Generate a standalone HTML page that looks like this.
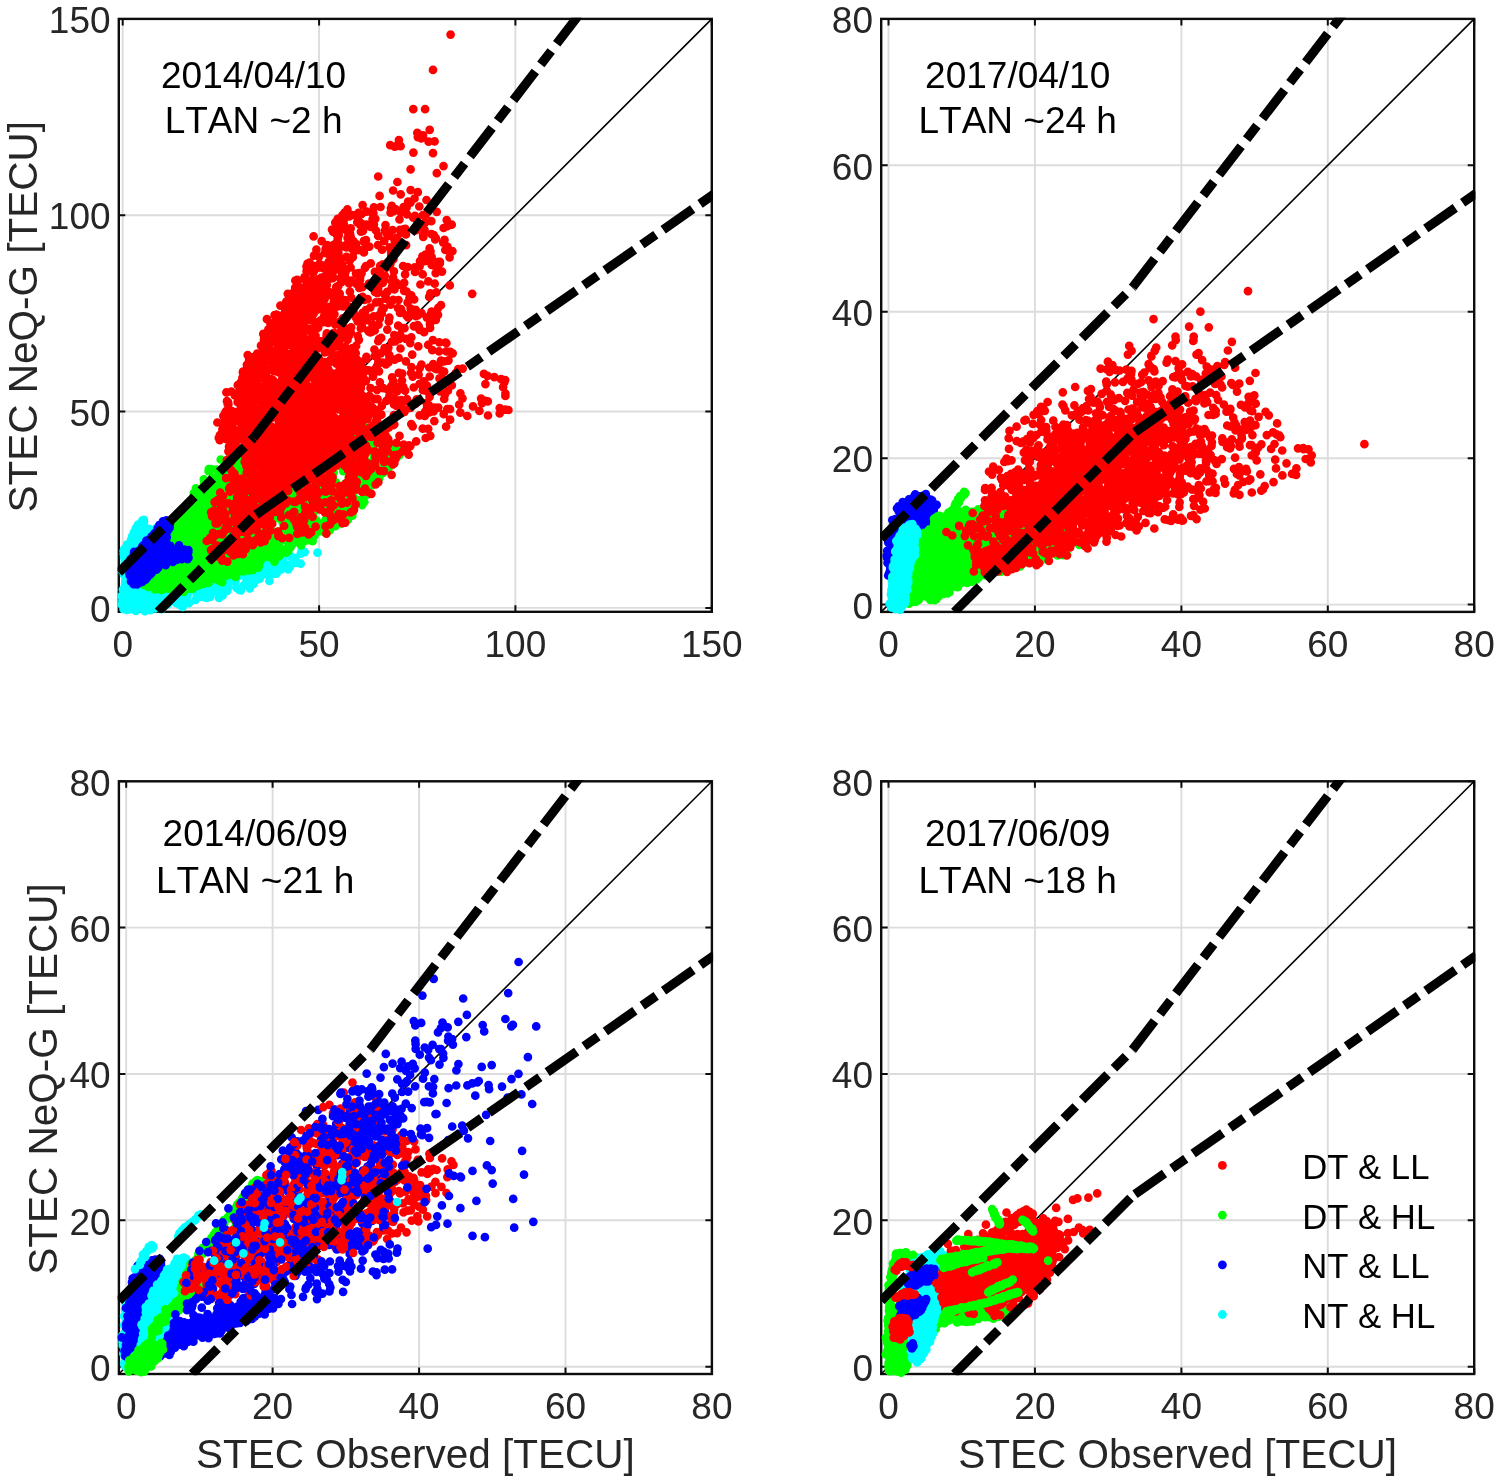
<!DOCTYPE html>
<html lang="en"><head><meta charset="utf-8"><title>STEC NeQ-G vs STEC Observed</title>
<style>
html,body{margin:0;padding:0;background:#fff}
svg{display:block}
text{font-family:"Liberation Sans",Arial,Helvetica,sans-serif;font-kerning:none}
.t{font-size:37px;fill:#262626}
.l{font-size:40.5px;fill:#262626}
.a{font-size:37px;fill:#000}
.g{font-size:34.7px;fill:#000}
.d{fill:none;stroke-width:87;stroke-linecap:round}
</style></head>
<body>
<svg width="1500" height="1483" viewBox="0 0 1500 1483">
<rect width="1500" height="1483" fill="#fff"/>
<g id="panel1">
<clipPath id="cp0"><rect x="117.6" y="17.7" width="595.4" height="595.3"/></clipPath>
<path d="M122.7 18.9V611.8M118.8 607.9H711.8M319.1 18.9V611.8M118.8 411.5H711.8M515.4 18.9V611.8M118.8 215.2H711.8M711.8 18.9V611.8M118.8 18.9H711.8" stroke="#dcdcdc" stroke-width="1.9" fill="none"/>
<rect x="118.8" y="18.9" width="593" height="592.9" fill="none" stroke="#0d0d0d" stroke-width="2.4"/>
<path d="M122.7 611.8v-6.5M122.7 18.9v6.5M118.8 607.9h6.5M711.8 607.9h-6.5M319.1 611.8v-6.5M319.1 18.9v6.5M118.8 411.5h6.5M711.8 411.5h-6.5M515.4 611.8v-6.5M515.4 18.9v6.5M118.8 215.2h6.5M711.8 215.2h-6.5M711.8 611.8v-6.5M711.8 18.9v6.5M118.8 18.9h6.5M711.8 18.9h-6.5" stroke="#0d0d0d" stroke-width="2" fill="none"/>
<path d="M118.8 611.8L711.8 18.9" stroke="#000" stroke-width="1.6" fill="none"/>
<g transform="scale(.1)">
<path class="d" stroke="#00ffff" d="M1339 5323h0m-18 41h0m16 11h0m-19 10h0m-7 11h0m7 30h0m19 12h0m-23 0h0m-42 6h0m51 3h0m-9 10h0m-6 5h0m-16 1h0m39 12h0m-23 8h0m-65 5h0m37 0h0m-29 6h0m53 13h0m-67 3h0m54 1h0m-50 7h0m-3 23h0m110 17h0m-99 4h0m-8 13h0m57 6h0m26 7h0m-15 16h0m18 1h0m-80 14h0m5 23h0m-3 0h0m38 17h0m61 2h0m-38 7h0m2 1h0m-49 8h0m64 12h0m-76 8h0m33 1h0m41 5h0m-106 2h0m94 7h0m-29 8h0m-46 4h0m104 8h0m-41 7h0m-61 11h0m94 1h0m-16 13h0m-46 12h0m33 5h0m33 0h0m-67 7h0m48 8h0m26 4h0m-92 6h0m24 2h0m0 1h0m-24 17h0m-1 3h0m73 7h0m-12 1h0m-63 6h0m41 3h0m-40 5h0m89 6h0m-44 10h0m49 12h0m-24 5h0m-31 1h0m0 0h0m54 1h0m-86 1h0m68 6h0m-43 1h0m-54 1h0m10 2h0m59 2h0m-57 11h0m54 21h0m-9 3h0m-13 0h0m67 4h0m-76 1h0m21 3h0m39 13h0m-73 4h0m-36 2h0m46 3h0m52 12h0m-86 1h0m74 1h0m-7 7h0m-4 8h0m-33 4h0m-33 9h0m26 5h0m-2 2h0m79 2h0m-111 29h0m71 0h0m35 1h0m-7 3h0m16 6h0m-78 6h0m80 3h0m-95 1h0m34 3h0m53 6h0m-84 1h0m-6 17h0m59 2h0m-18 3h0m-4 4h0m177 12h0m-91-2h0m75-14h0m22-12h0m29-4h0m-75-9h0m-32-1h0m-6-4h0m-16-1h0m27-4h0m25-4h0m80-4h0m-103-4h0m73-1h0m-46-3h0m27-4h0m-71-7h0m17 0h0m46 0h0m13-11h0m-85-3h0m56-3h0m38-8h0m24-5h0m-63-2h0m-18-2h0m-21-1h0m28-1h0m29-1h0m-22-13h0m-40-2h0m130-4h0m-11-4h0m-54-2h0m63 0h0m-121-3h0m76-1h0m-28-2h0m52 0h0m-115-12h0m10 0h0m74 0h0m-42-3h0m68-2h0m-33-2h0m-41-1h0m-8-1h0m-16-1h0m113-2h0m0-2h0m-133-9h0m77-1h0m21-6h0m30-2h0m-4-1h0m19-3h0m-15-7h0m-46-1h0m-25 0h0m-43-1h0m18-2h0m95-4h0m-10-1h0m2 0h0m-33-2h0m-19-8h0m45-3h0m-99-1h0m59 0h0m-58-1h0m123-3h0m-69-6h0m-29-2h0m-18 0h0m21-2h0m10-8h0m-51-3h0m22 0h0m-23-9h0m126-3h0m-93-1h0m100-2h0m-50 0h0m32-1h0m-72-1h0m47-2h0m-77-9h0m75-5h0m16-3h0m-90-2h0m128-3h0m-61-19h0m-75-7h0m139 0h0m-124-11h0m-10-15h0m83-1h0m-48-5h0m49-13h0m17-3h0m-16-6h0m-70-3h0m63-3h0m-19-7h0m-38-4h0m94-2h0m-125-3h0m111-2h0m-22-9h0m38-1h0m-119-6h0m114-2h0m-22-2h0m28-3h0m17-8h0m-14 0h0m10-8h0m-103-2h0m61-2h0m36-3h0m-55-14h0m5-4h0m-45-33h0m90-10h0m-22 0h0m-22-5h0m-18-19h0m73-4h0m-27-4h0m-109-16h0m115-11h0m-30-5h0m-43-5h0m28-7h0m1-13h0m-55-2h0m32-6h0m41-2h0m-31-7h0m36-2h0m-82-4h0m47-3h0m47 0h0m-87-1h0m-23-1h0m115-4h0m-10-21h0m-97-5h0m43 0h0m-35-17h0m33-7h0m6-9h0m-42-21h0m125-3h0m-34-8h0m1-8h0m-52-6h0m-14-1h0m19-3h0m-58-2h0m71-11h0m0-1h0m35-10h0m-46-1h0m-1-7h0m-19-27h0m39-24h0m57-6h0m-2-3h0m-132-2h0m73-2h0m-8-3h0m22-5h0m-44-3h0m33-1h0m3 0h0m-67-4h0m54-5h0m1 0h0m-48-1h0m58-13h0m-53-5h0m57-11h0m-21-15h0m23-1h0m-15-14h0m14-5h0m122 81h0m-7 21h0m17 10h0m-54 16h0m49 0h0m-56 5h0m30 4h0m16 4h0m-30 22h0m6 1h0m79 2h0m30 8h0m-106 20h0m48 1h0m5 2h0m-75 10h0m115 4h0m-83 10h0m66 2h0m-40 41h0m36 5h0m-75 4h0m78 7h0m22 9h0m-37 2h0m25 9h0m12 12h0m-123 9h0m121 2h0m-13 11h0m-31 0h0m-64 1h0m-11 3h0m113 3h0m-43 2h0m-9 8h0m75 4h0m-133 5h0m22 0h0m108 9h0m-27 4h0m-7 8h0m-81 2h0m-18 4h0m59 2h0m-10 4h0m35 2h0m35 8h0m-58 5h0m-16 2h0m37 3h0m-63 1h0m13 12h0m82 6h0m-73 4h0m-45 6h0m6 5h0m116 7h0m18 23h0m-101 12h0m-23 0h0m9 2h0m14 1h0m52 2h0m-96 4h0m145 5h0m-110 11h0m34 1h0m53 1h0m-21 3h0m-94 6h0m76 0h0m-71 15h0m33 7h0m87 6h0m-88 7h0m46 1h0m1 1h0m-47 17h0m6 8h0m-47 1h0m98 21h0m-66 8h0m63 3h0m-51 1h0m13 1h0m-57 4h0m15 4h0m116 7h0m-51 9h0m-27 2h0m59 3h0m-16 7h0m-6 1h0m-38 0h0m-5 5h0m14 2h0m-57 4h0m65 2h0m-59 1h0m111 2h0m21 2h0m-29 0h0m-43 4h0m-71 1h0m55 2h0m3 3h0m-27 1h0m71 4h0m-48 6h0m58 11h0m-73 0h0m-42 6h0m32 1h0m-18 0h0m11 5h0m-16 1h0m88 4h0m-84 1h0m114 12h0m-10 6h0m-10 3h0m-68 0h0m96 0h0m-95 1h0m-3 8h0m14 3h0m61 3h0m-4 0h0m24 2h0m-58 0h0m69 4h0m-91 6h0m-47 8h0m49 2h0m83 12h0m-22 1h0m5 4h0m-93 4h0m117 0h0m-100 2h0m-29 6h0m45 3h0m82 4h0m-123 1h0m21 0h0m35 3h0m4 12h0m35 9h0m-71 3h0m-15 6h0m51 9h0m8 8h0m-22 1h0m-46 3h0m32 10h0m65 6h0m-115 10h0m295-53h0m-122-4h0m-5-7h0m-15-6h0m105-2h0m-72-3h0m-31-10h0m9-25h0m132-4h0m-129-17h0m-12-3h0m80-3h0m-87 0h0m34-1h0m46-20h0m19 0h0m29-10h0m-118-1h0m7-4h0m39-1h0m45-1h0m-81-3h0m2-2h0m52-4h0m-9-4h0m-53-1h0m25-1h0m-5-9h0m-1-13h0m44 0h0m-63-1h0m11-15h0m-18-7h0m23-2h0m-11-1h0m-8-1h0m22-4h0m-17-1h0m-14-1h0m15-2h0m49-1h0m-23 0h0m-23-12h0m-9-6h0m83-1h0m19-4h0m-73-10h0m34-2h0m64-1h0m-91-1h0m-44-3h0m44-8h0m44-3h0m-76 0h0m127-10h0m-51-12h0m-3-4h0m-86-17h0m13-1h0m85-10h0m-89-4h0m80-12h0m-45-2h0m23-7h0m24-8h0m-21-6h0m-2-2h0m3-5h0m-18-11h0m7-1h0m-53-5h0m42-2h0m36-22h0m-59-16h0m13-2h0m1-35h0m52-3h0m-72-1h0m36-14h0m-54-3h0m30-11h0m-29-12h0m69 0h0m-11-61h0m12-13h0m7-4h0m31-2h0m-57-7h0m27-13h0m-61-11h0m34-9h0m31 0h0m-73-26h0m42-1h0m227 313h0m18 8h0m-73 17h0m58 6h0m-104 2h0m-5 19h0m3 2h0m51 8h0m37 2h0m-94 7h0m57 7h0m-17 0h0m-25 2h0m71 3h0m37 5h0m-64 4h0m-25 12h0m88 2h0m-68 12h0m71 7h0m-27 6h0m-101 4h0m113 5h0m-63 0h0m-49 4h0m49 8h0m-51 3h0m77 12h0m-76 22h0m21 2h0m41 7h0m-7 28h0m-58 1h0m38 15h0m-31 5h0m41 22h0m0 10h0m-49 6h0m29 15h0m46 1h0m-63 37h0m129-70h0m108-18h0m-45-11h0m-26-15h0m85-7h0m-112-4h0m67-8h0m-26-9h0m61-3h0m8-5h0m-3-23h0m-91 0h0m21-1h0m2-6h0m6-4h0m82-6h0m-38-5h0m-80-1h0m51-1h0m52-22h0m-56-17h0m-29-4h0m-38-7h0m29-16h0m99-4h0m-114-13h0m92-10h0m17-5h0m-75-5h0m-16-3h0m-30 0h0m99-12h0m-14-2h0m-69-7h0m119-5h0m-3-19h0m-83-3h0m162-47h0m52 3h0m17 2h0m-38 3h0m15 0h0m-42 10h0m65 3h0m-55 1h0m-79 6h0m16 3h0m13 3h0m27 1h0m-54 4h0m127 15h0m-112 0h0m9 3h0m-24 2h0m5 10h0m16 3h0m51 4h0m4 3h0m26 10h0m31 11h0m-49 5h0m-73 3h0m3 5h0m69 23h0m34 0h0m-34 12h0m10 18h0m-18 1h0m-61 3h0m130 1h0m-74 10h0m-47 15h0m70 4h0m-48 11h0m-23 2h0m121 7h0m-91 8h0m-28 0h0m25 5h0m-4 19h0m78 2h0m-17 3h0m16 27h0m-125 15h0m88 10h0m82-70h0m121-9h0m-143 0h0m116-22h0m-84-3h0m-9-17h0m-2-22h0m3-8h0m0-5h0m82-10h0m-52 0h0m8 0h0m15-23h0m24-4h0m-28-2h0m0-20h0m-26-4h0m96-4h0m-128-2h0m129-1h0m-34-15h0m-68-8h0m33-6h0m-67-3h0m13 0h0m-16-1h0m14-12h0m8-2h0m40-6h0m-29-7h0m47-9h0m23-13h0m-97-4h0m52-14h0m-7-11h0m54-1h0m-27-1h0m-13-5h0m67-2h0m-16-12h0m145-16h0m31 1h0m-135 3h0m42 10h0m-25 17h0m97 4h0m-121 11h0m70 15h0m-35 8h0m74 8h0m8 16h0m-4 17h0m10 8h0m-108 7h0m42 2h0m30 12h0m24 9h0m-37 4h0m37 6h0m-54 19h0m28 14h0m10 12h0m37 30h0m-96 10h0m58 35h0m-90 22h0m285-95h0m-114-15h0m18-9h0m-22-1h0m110-36h0m-52-5h0m-36 0h0m70-22h0m-87-7h0m-4-10h0m114-11h0m-101-10h0m69-6h0m-4-26h0m-10-40h0m-25-6h0m39 0h0m-54-23h0m112-58h0m101 19h0m-63 5h0m-7 4h0m-6 12h0m88 29h0m-33 16h0m-88 22h0m22 0h0m43 2h0m28 15h0m-18 15h0m39 3h0m-72 6h0m-41 6h0m116 1h0m-17 3h0m3 11h0m-91 42h0m44 1h0m-31 3h0m148-45h0m17-25h0m-15-4h0m0-18h0m76-20h0m-5 0h0m-1-48h0m-43-14h0m-56-62h0m160 6h0m32 11h0m-39 16h0m-1 99h0m168-109h0"/>
<path class="d" stroke="#00ff00" d="M1484 5869h0m-48-20h0m14-3h0m41-1h0m-32-5h0m-79-5h0m115-7h0m-74-3h0m-9-3h0m81-14h0m-81-5h0m43-15h0m-32-5h0m0-11h0m72-4h0m-2-2h0m-116-14h0m104-2h0m-73-7h0m24-5h0m25-7h0m-2-16h0m11-5h0m-35-10h0m35-6h0m-56-28h0m54-2h0m-12-13h0m-29-5h0m56-1h0m10-12h0m-31-12h0m10-30h0m174-246h0m-4 16h0m-57 41h0m-38 28h0m-22 39h0m112 7h0m-77 2h0m76 2h0m-42 20h0m-83 7h0m85 10h0m-38 3h0m-20 17h0m16 2h0m13 1h0m24 1h0m-29 0h0m-20 3h0m32 0h0m-67 2h0m140 2h0m-67 4h0m36 0h0m35 0h0m-83 1h0m-19 3h0m-22 7h0m29 22h0m79 8h0m-43 3h0m52 2h0m-14 1h0m-97 0h0m-27 4h0m11 4h0m6 2h0m127 8h0m-123 6h0m121 2h0m-67 0h0m1 1h0m9 1h0m6 3h0m-69 6h0m-24 6h0m45 2h0m13 3h0m31 7h0m2 3h0m-29 1h0m-23 1h0m66 5h0m-36 0h0m22 0h0m-22 4h0m-14 3h0m66 2h0m-5 5h0m-98 0h0m115 1h0m-6 6h0m-124 5h0m46 0h0m-2 2h0m94 8h0m-107 0h0m114 4h0m-94 0h0m0 1h0m56 1h0m-59 0h0m-13 10h0m96 0h0m8 7h0m-82 2h0m62 1h0m-58 3h0m-14 0h0m27 2h0m-65 5h0m117 5h0m16 8h0m-111 2h0m5 3h0m58 3h0m10 11h0m-52 0h0m60 7h0m-77 6h0m90 2h0m17 2h0m4 4h0m-143 0h0m84 2h0m-19 3h0m-55 5h0m20 3h0m53 7h0m-83 0h0m135 3h0m-64 5h0m58 2h0m-71 5h0m-47 0h0m42 9h0m33 7h0m41 2h0m10 6h0m-125 7h0m121 2h0m-77 5h0m-36 1h0m22 2h0m40 21h0m40 8h0m-80 1h0m63 3h0m78-8h0m-14-10h0m13-5h0m-9 0h0m117-4h0m0-2h0m-37-8h0m-93-1h0m100-2h0m-29-5h0m59-1h0m-127-7h0m5-3h0m60-1h0m-73-3h0m63-2h0m3 0h0m-58-2h0m0-1h0m96-1h0m18-1h0m-93-2h0m108-2h0m-141-1h0m3-3h0m108-1h0m24-4h0m-106-4h0m0-1h0m26-3h0m-31-3h0m90-15h0m3-2h0m-108-10h0m15-3h0m43-2h0m43-1h0m8-6h0m-100-1h0m12-3h0m88-7h0m-35-2h0m-38-8h0m-10 0h0m-42-4h0m73-3h0m53-1h0m-28-1h0m-69-1h0m120-1h0m-104-11h0m18 0h0m-36-2h0m103-12h0m-75 0h0m6-6h0m-28-6h0m33-1h0m10-5h0m-42-5h0m10-3h0m-41-6h0m118-7h0m-121-1h0m36 0h0m11-3h0m13-2h0m-32-3h0m86-14h0m-69-6h0m50-9h0m17-5h0m-54-6h0m13-1h0m23 0h0m-93-5h0m23-5h0m71-2h0m-15-1h0m36-2h0m-30-7h0m-81-10h0m73-8h0m-43-4h0m-19-1h0m30 0h0m67-7h0m-58-4h0m-5-17h0m-10 0h0m91-3h0m16-8h0m-45 0h0m-91-10h0m109-10h0m-12-8h0m-9-2h0m9-1h0m-39-1h0m35-2h0m20-20h0m25 0h0m-132-2h0m58-2h0m35 0h0m-72-1h0m-33-2h0m53-5h0m81-3h0m-25-1h0m-53-1h0m50 0h0m17-6h0m-70-3h0m80-8h0m-30-4h0m-36-1h0m0-14h0m3-14h0m27-2h0m-92-5h0m5-22h0m9-10h0m77-4h0m-1 0h0m6-5h0m-16-6h0m12-1h0m-77-7h0m46 0h0m21-2h0m-10-29h0m-4-6h0m-33-6h0m-19-6h0m36-2h0m54-8h0m-11-2h0m-55-5h0m3-4h0m8-1h0m53-7h0m-88-7h0m8-1h0m18-2h0m39-8h0m34-4h0m23-32h0m-68-18h0m52-4h0m-65-8h0m64-12h0m-4-48h0m12-13h0m149-189h0m9 23h0m-19 118h0m-96 13h0m31 8h0m38 8h0m-61 0h0m49 2h0m1 5h0m-50 24h0m11 14h0m-14 15h0m67 22h0m-20 6h0m-1 2h0m-47 2h0m9 8h0m-39 4h0m127 2h0m-119 12h0m109 9h0m-101 7h0m71 8h0m-17 2h0m-27 0h0m24 17h0m7 3h0m-27 19h0m49 2h0m-55 0h0m88 2h0m-50 5h0m27 2h0m-19 1h0m-24 3h0m38 7h0m-55 2h0m-11 15h0m82 13h0m-33 2h0m-40 3h0m94 2h0m-10 2h0m-48 0h0m-24 4h0m-38 3h0m57 6h0m-60 6h0m88 1h0m-103 8h0m13 4h0m82 10h0m35 8h0m-21 3h0m-12 1h0m-30 1h0m-30 6h0m1 8h0m-6 9h0m86 5h0m-5 25h0m-5 7h0m-42 1h0m31 2h0m5 3h0m0 1h0m23 9h0m-124 0h0m76 5h0m-17 1h0m1 2h0m58 4h0m-30 2h0m-15 2h0m39 0h0m22 3h0m-20 2h0m-1 1h0m-120 3h0m127 7h0m15 8h0m-115 0h0m56 2h0m-82 3h0m143 6h0m-115 1h0m61 1h0m-82 0h0m65 12h0m51 11h0m-109 2h0m27 10h0m53 4h0m-33 0h0m29 8h0m-66 31h0m56 6h0m-28 1h0m-30 4h0m68 1h0m-69 0h0m104 1h0m-99 7h0m19 8h0m16 1h0m73 5h0m-88 2h0m-20 4h0m96 0h0m-115 2h0m85 4h0m-39 7h0m56 1h0m-106 1h0m23 0h0m118 1h0m-131 6h0m-4 9h0m4 3h0m52 1h0m50 3h0m10 1h0m-21 23h0m32 3h0m-129 13h0m24 2h0m-10 8h0m105 7h0m-11 2h0m-10 2h0m-83 1h0m110 4h0m-1 10h0m-118 2h0m31 6h0m10 7h0m-9 0h0m-22 2h0m-21 2h0m145 3h0m-134 0h0m28 1h0m52 1h0m22 3h0m15 0h0m-76 1h0m68 6h0m-7 7h0m-26 4h0m32 2h0m-35 1h0m-31 2h0m51 3h0m-28 1h0m1 12h0m-77 4h0m134 1h0m-98 5h0m6 14h0m64 13h0m-33 1h0m-24 5h0m-26 10h0m102 6h0m-34 1h0m-14 0h0m-19 3h0m-57 0h0m14 9h0m18 21h0m118-65h0m31 0h0m-29 0h0m78-15h0m-53-2h0m22 0h0m24-3h0m58-5h0m-36-3h0m-80-2h0m-12 0h0m70-2h0m-76 0h0m-1-6h0m0-4h0m56-1h0m-18-1h0m94-3h0m-51-4h0m-1-2h0m-74-6h0m34-4h0m38-4h0m32-6h0m18 0h0m20-6h0m-79-4h0m77-1h0m-63-4h0m27-2h0m-84-3h0m59-2h0m-78-1h0m79-11h0m63 0h0m-36-2h0m-107-5h0m54-1h0m-44 0h0m2 0h0m77-1h0m1-2h0m1-1h0m14-2h0m1-7h0m-97 0h0m126 0h0m-135-3h0m106-10h0m-47-1h0m25-11h0m-45-3h0m57-2h0m-44-3h0m49-1h0m-58-1h0m48-1h0m-30-9h0m-25 0h0m61-1h0m-30-1h0m-46-2h0m-26-2h0m28 0h0m-7-3h0m-4 0h0m119-9h0m-70 0h0m42-6h0m-85-3h0m-7-16h0m127-12h0m-38-14h0m-46-9h0m-1-8h0m50-3h0m8-18h0m-63-2h0m44-1h0m-21-8h0m-51-1h0m28-2h0m-5 0h0m36-3h0m-14-15h0m-39-1h0m51 0h0m-25-3h0m3-7h0m-58-4h0m127-2h0m8-4h0m-26-2h0m-34-8h0m-33 0h0m87-2h0m-111-6h0m-11-2h0m114-6h0m-35-3h0m-40-4h0m44-2h0m-51-1h0m74-3h0m-97 0h0m115-1h0m-68-6h0m8-13h0m6-7h0m64-3h0m-76-1h0m-54-3h0m91-2h0m6-1h0m11-4h0m-84-1h0m55-4h0m-17-3h0m36-6h0m-33-2h0m-67-4h0m64-12h0m7-3h0m-5-4h0m-19-2h0m35-4h0m-57-8h0m-33-8h0m52 0h0m-40 0h0m1-4h0m104-1h0m-42 0h0m-65-7h0m87-4h0m-80 0h0m16-1h0m27-2h0m-41 0h0m31-3h0m28-3h0m-42 0h0m13-6h0m94-5h0m-43 0h0m-90-2h0m75-11h0m-64-8h0m116-3h0m-126-8h0m128-5h0m-27 0h0m-32-1h0m-29-1h0m66-2h0m-40 0h0m49-1h0m-48-1h0m-65-1h0m116-6h0m-101-1h0m-15-2h0m15-10h0m68-10h0m42-6h0m-94-10h0m88-1h0m-33-12h0m-60-6h0m-33-3h0m137-1h0m-71-10h0m-48-2h0m114-2h0m5-9h0m-82-14h0m56-10h0m27-3h0m-31-3h0m-38-11h0m18-9h0m-38-2h0m-27-1h0m18-5h0m-42-11h0m39-20h0m-31-8h0m75-6h0m-49-3h0m1-1h0m41-4h0m56-4h0m-10-6h0m-82-3h0m-37-2h0m34-3h0m90 0h0m-101 0h0m94-5h0m-128-6h0m29-5h0m0-1h0m103-3h0m1-1h0m-85-11h0m-5-3h0m40-3h0m57-5h0m-86-1h0m42-1h0m-37-4h0m-9-1h0m11-22h0m80-2h0m-73-9h0m32 0h0m-8-2h0m50-13h0m-5-8h0m-82-1h0m74-2h0m-66-4h0m-8-1h0m31-9h0m-73-1h0m58-6h0m12-4h0m-63-9h0m11-2h0m-28-8h0m128-1h0m-119-3h0m50-5h0m57-26h0m-55-4h0m-55-5h0m77-1h0m44-13h0m-27-3h0m6-6h0m-1-13h0m-17-15h0m18-23h0m-21-16h0m48-82h0m2-20h0m119-97h0m30 85h0m-126 10h0m-7 4h0m60 1h0m70 41h0m-49 15h0m-1 16h0m-58 9h0m87 2h0m28 8h0m-12 5h0m-104 6h0m21 18h0m9 5h0m75 15h0m18 20h0m-22 5h0m-46 2h0m-26 14h0m-32 11h0m-13 10h0m39 5h0m-11 9h0m95 7h0m-71 2h0m-59 7h0m130 3h0m-76 11h0m61 6h0m-110 12h0m24 7h0m41 11h0m-6 9h0m79 13h0m-126 1h0m101 5h0m-8 4h0m22 4h0m-126 15h0m106 2h0m-111 4h0m101 0h0m-59 4h0m101 18h0m-17 2h0m-64 2h0m-63 5h0m40 1h0m93 3h0m-59 1h0m3 3h0m-74 10h0m42 3h0m9 2h0m-16 14h0m-25 2h0m-6 6h0m67 8h0m-60 7h0m18 5h0m82 2h0m-4 6h0m-88 4h0m88 5h0m-62 0h0m27 3h0m42 8h0m-26 2h0m-27 4h0m-21 4h0m2 2h0m-44 3h0m88 11h0m-20 1h0m-48 6h0m46 4h0m-55 14h0m133 1h0m-36 0h0m-85 3h0m103 0h0m-105 15h0m86 2h0m-3 2h0m-41 0h0m28 5h0m33 3h0m-25 4h0m2 6h0m-70 9h0m69 9h0m-76 5h0m62 0h0m16 3h0m-11 0h0m-48 1h0m-39 17h0m49 1h0m-30 3h0m27 8h0m93 5h0m-82 1h0m-9 3h0m25 6h0m28 7h0m-82 6h0m31 2h0m44 12h0m37 3h0m-55 1h0m47 2h0m-47 1h0m44 0h0m-71 2h0m53 1h0m-59 8h0m-14 7h0m88 7h0m-115 0h0m-4 0h0m35 4h0m15 4h0m-42 0h0m2 3h0m107 4h0m-17 5h0m-42 1h0m-15 0h0m16 0h0m38 2h0m29 2h0m-90 0h0m53 2h0m-1 9h0m-10 6h0m30 7h0m-9 2h0m-15 0h0m-40 0h0m40 2h0m3 11h0m-6 1h0m-77 1h0m122 17h0m-127 3h0m70 4h0m46 0h0m12 2h0m-92 1h0m15 2h0m70 0h0m-44 4h0m-27 2h0m-33 1h0m95 1h0m26 1h0m-96 4h0m82 2h0m-57 1h0m-19 4h0m0 4h0m45 14h0m-5 2h0m53 3h0m-71 4h0m63 1h0m-56 0h0m-59 0h0m88 3h0m-4 0h0m-2 3h0m-27 0h0m-8 1h0m-15 4h0m15 0h0m75 1h0m-84 3h0m87 7h0m-80 1h0m-54 0h0m1 0h0m45 6h0m64 8h0m-62 3h0m-32 12h0m30 2h0m-51 2h0m117 4h0m-66 4h0m46 0h0m-89 1h0m38 1h0m39 5h0m50 7h0m3 1h0m-110 2h0m36 1h0m-53 1h0m25 10h0m-1 7h0m86 8h0m3 0h0m-36 18h0m15 3h0m19 3h0m-104 2h0m102 1h0m-21 8h0m-58 1h0m-4 2h0m28 6h0m-44 6h0m-3 16h0m118 1h0m-56 1h0m22 3h0m9 4h0m-57 5h0m60 1h0m-36 3h0m29 1h0m-15 0h0m28 1h0m-35 9h0m-37 2h0m68 0h0m-116 3h0m91 1h0m37 2h0m-20 2h0m-31 10h0m15 4h0m-61 3h0m-37 0h0m85 4h0m-5 10h0m8 2h0m-2 2h0m-29 0h0m-57 5h0m0 0h0m124 6h0m-79 8h0m60 3h0m9 13h0m-21 2h0m27 13h0m133-52h0m5-17h0m-77-1h0m62-3h0m-66-1h0m82-2h0m-24-4h0m34-14h0m-25-14h0m-11-13h0m-40-15h0m14-22h0m-32-2h0m6-3h0m52-1h0m9-5h0m19-6h0m10-3h0m-28-1h0m-38 0h0m-12-2h0m-38 0h0m16-10h0m61-1h0m1 0h0m45-5h0m9-8h0m-98-2h0m75-5h0m-43-2h0m66-8h0m-106-3h0m29-5h0m32-1h0m16 0h0m-56-2h0m33-1h0m42 0h0m-120-1h0m87-1h0m-34-6h0m56 0h0m-53-1h0m71-1h0m-108-3h0m45-1h0m-8-1h0m79 0h0m-3-2h0m-3-4h0m-6-13h0m-69-3h0m-38-9h0m122 0h0m-116-4h0m64-4h0m14-2h0m31-4h0m-96 0h0m-1-2h0m94-1h0m-37-2h0m-15-1h0m20-4h0m15-18h0m2-9h0m-38-2h0m61-3h0m-3-1h0m-61-4h0m-44-6h0m54-8h0m-71-2h0m122-1h0m-93-1h0m60-1h0m-67-1h0m15-2h0m86-1h0m-44-2h0m-11-5h0m-13-8h0m20-3h0m40-6h0m-85-2h0m-10-3h0m19-5h0m46-11h0m-71-1h0m-13-2h0m81-6h0m-50 0h0m-42-7h0m47-5h0m65-13h0m22-2h0m-128-6h0m13 0h0m38-1h0m73 0h0m-137-8h0m60-12h0m22-4h0m-11-1h0m-68-6h0m79-1h0m29-5h0m-42-8h0m53-3h0m-67-4h0m-2-3h0m80-1h0m-71-2h0m41-1h0m-61-8h0m36-5h0m43-8h0m-42-9h0m-37-6h0m81-3h0m-32 0h0m-77-13h0m51-7h0m-63-5h0m22-4h0m19 0h0m81-2h0m-124-7h0m95-9h0m36-1h0m-134-3h0m77-1h0m56 0h0m-11-1h0m-102-8h0m-5-13h0m60-4h0m-8-3h0m25-13h0m-10-2h0m31-1h0m-10-14h0m29 0h0m-104-1h0m107-11h0m-47 0h0m-49-7h0m107-12h0m-105-1h0m98-5h0m-95 0h0m42-9h0m51-6h0m-52-3h0m44-1h0m-67-15h0m87 0h0m-127-1h0m9 0h0m20-2h0m59-3h0m-37-6h0m19-6h0m-74-6h0m68-8h0m-75 0h0m66-3h0m5-5h0m57-4h0m-107-2h0m65-8h0m-60-14h0m-19-14h0m72-7h0m-66-1h0m-2-8h0m100-8h0m-116-2h0m17-5h0m25 0h0m-48-4h0m127-5h0m-102-3h0m106-16h0m-75-3h0m55-4h0m-92-6h0m28-1h0m43-1h0m31-3h0m-74-2h0m-3-6h0m33-15h0m-11-1h0m79-1h0m-58-2h0m8-6h0m0-1h0m-53-7h0m47-13h0m-4-11h0m38-24h0m-62-4h0m-40-9h0m95-19h0m15-6h0m-78-3h0m32-1h0m14-2h0m7-5h0m-48 0h0m16-3h0m-22-12h0m-47-6h0m113-70h0m-55-10h0m27-5h0m-51-6h0m-17-5h0m112-18h0m-129-10h0m126-22h0m-130-1h0m88-18h0m-45-25h0m21-3h0m7-7h0m77-51h0m90-70h0m57 5h0m-116 37h0m39 13h0m53 12h0m-19 1h0m-26 4h0m41 37h0m-17 12h0m-10 10h0m-50 2h0m57 7h0m-87 12h0m-6 3h0m89 4h0m-13 1h0m-23 15h0m19 16h0m-18 7h0m-10 8h0m86 5h0m-45 9h0m46 0h0m-83 10h0m-50 8h0m122 0h0m-31 8h0m55 6h0m-119 4h0m77 8h0m23 9h0m-54 4h0m-27 18h0m40 7h0m-89 12h0m68 4h0m73 4h0m-79 13h0m7 25h0m59 18h0m-72 3h0m53 41h0m15 4h0m-19 17h0m-1 0h0m-100 4h0m108 1h0m14 16h0m3 11h0m-83 1h0m-27 4h0m95 5h0m-107 12h0m135 6h0m-48 3h0m-29 2h0m33 2h0m-79 11h0m52 6h0m56 9h0m16 0h0m-135 10h0m14 1h0m91 4h0m26 6h0m-119 1h0m-10 1h0m60 4h0m-14 4h0m75 3h0m-48 1h0m49 2h0m-16 1h0m-35 6h0m45 7h0m-112 10h0m33 6h0m40 1h0m-74 10h0m94 3h0m6 3h0m-61 3h0m90 4h0m-124 2h0m57 3h0m0 2h0m-67 14h0m31 8h0m38 8h0m-53 5h0m94 0h0m-55 3h0m-1 2h0m45 3h0m-66 6h0m-12 10h0m51 6h0m27 6h0m-57 3h0m15 5h0m71 4h0m-87 6h0m52 1h0m-47 18h0m14 8h0m-57 4h0m12 4h0m60 4h0m-22 11h0m64 0h0m8 2h0m-87 4h0m1 1h0m54 27h0m7 3h0m-66 1h0m-19 1h0m70 4h0m-34 2h0m37 10h0m14 1h0m-99 2h0m-7 0h0m102 1h0m-19 8h0m41 10h0m-11 5h0m-57 0h0m22 0h0m-2 2h0m51 12h0m-24 12h0m5 1h0m21 1h0m-89 0h0m38 14h0m45 2h0m-97 4h0m119 5h0m-129 5h0m79 2h0m26 8h0m-109 0h0m69 5h0m20 1h0m-63 11h0m-31 2h0m14 8h0m124 3h0m-37 4h0m-77 2h0m-16 0h0m12 5h0m21 2h0m-50 2h0m80 2h0m-4 0h0m55 1h0m-67 8h0m62 1h0m-94 4h0m68 5h0m-76 10h0m-18 2h0m126 0h0m-38 2h0m30 1h0m-78 4h0m81 10h0m-33 2h0m-10 2h0m-73 0h0m99 3h0m-8 1h0m2 5h0m11 3h0m18 5h0m-69 2h0m67 2h0m-41 4h0m39 2h0m-23 2h0m31 0h0m-112 2h0m73 4h0m-79 6h0m22 1h0m28 6h0m66 2h0m-118 17h0m128 2h0m-62 9h0m-51 6h0m-11 1h0m100 1h0m-99 1h0m29 6h0m-36 0h0m39 12h0m37 1h0m-77 2h0m29 1h0m63 27h0m-38 0h0m48 14h0m27 5h0m-98 1h0m94 25h0m-118 2h0m-20 3h0m36 12h0m40 8h0m-3 0h0m53 20h0m-32 3h0m-10 3h0m-51 10h0m146-38h0m8-19h0m-3-1h0m-32-20h0m4-21h0m1-11h0m50-4h0m-54 0h0m32-10h0m46-17h0m-82 0h0m139-2h0m-64-2h0m6 0h0m-54-17h0m85-1h0m-2-12h0m-107-1h0m5-7h0m118-5h0m13-9h0m-91-3h0m-41-3h0m31 0h0m-6-1h0m107-7h0m-123-18h0m120-8h0m-111-11h0m52-9h0m-53-4h0m-1-4h0m83-3h0m-73-13h0m113 0h0m-80-24h0m-15-1h0m26-1h0m22-1h0m-8-9h0m16-1h0m36-4h0m-128-2h0m-15-5h0m103-4h0m-65-1h0m72-2h0m-104-1h0m126-6h0m-78-4h0m-25-2h0m36-1h0m59-1h0m-123-13h0m132-9h0m-85-12h0m14 0h0m-28-3h0m-12-3h0m-20-14h0m1-12h0m131-1h0m-121-24h0m133-4h0m-93-1h0m86-1h0m-48-1h0m-44-2h0m5-2h0m32-6h0m-1-4h0m1-13h0m-63-5h0m40-6h0m-27-11h0m30-7h0m42-6h0m-60-4h0m58-2h0m-49-2h0m26-11h0m33-9h0m18-14h0m-70-2h0m-48-35h0m74-8h0m-4-3h0m-68-6h0m25-21h0m89-1h0m-126-8h0m135 0h0m-23-5h0m-37-2h0m-6-8h0m-21-10h0m38-1h0m18-1h0m-19-13h0m-50-7h0m75-10h0m-66-3h0m98-2h0m-129-2h0m55 0h0m-4-17h0m69 0h0m-15-3h0m7-7h0m-5-1h0m-123-1h0m47-10h0m77-9h0m-106-6h0m114-7h0m-111-8h0m44-8h0m-15-5h0m-43 0h0m99-4h0m-40-5h0m7-2h0m70-10h0m-63-1h0m-66-4h0m-2-4h0m114-3h0m17 0h0m-110-17h0m-24-2h0m4-5h0m23-6h0m65-4h0m-65-26h0m48-5h0m-5-8h0m-15-5h0m29-11h0m-4-2h0m-45-8h0m70-1h0m-96-17h0m4-11h0m49-3h0m-22-6h0m96-16h0m-20-28h0m7-12h0m-71-7h0m-32 0h0m44-3h0m20-4h0m-56-1h0m60-3h0m-43 0h0m-54-25h0m57-3h0m-49-9h0m125-12h0m-35-3h0m-24-19h0m-3-6h0m36-5h0m-62-6h0m-43-28h0m8-2h0m121-5h0m-34-2h0m27-28h0m-69-1h0m-41-36h0m2-13h0m75-3h0m17-12h0m10-5h0m-10-2h0m-69-14h0m72-94h0m-43 0h0m74-80h0m112-47h0m11 47h0m11 22h0m-22 58h0m-99 28h0m48 5h0m-49 7h0m114 3h0m-54 19h0m77 1h0m-77 39h0m55 3h0m-28 21h0m42 1h0m1 1h0m-19 10h0m28 21h0m-54 3h0m-59 1h0m35 2h0m-40 5h0m20 2h0m-29 2h0m89 13h0m-52 1h0m69 13h0m-120 5h0m12 10h0m111 3h0m-54 3h0m49 14h0m25 11h0m-83 4h0m-30 3h0m-20 6h0m96 3h0m-31 4h0m-38 6h0m33 12h0m-33 1h0m21 1h0m-23 3h0m-28 7h0m113 13h0m-69 15h0m55 7h0m-14 8h0m12 4h0m-52 7h0m56 1h0m-33 10h0m-51 11h0m84 15h0m-82 6h0m39 7h0m-43 9h0m-7 9h0m30 4h0m95 0h0m-20 7h0m-7 1h0m-111 1h0m138 48h0m-100 13h0m-38 3h0m139 11h0m-89 9h0m-27 5h0m35 8h0m28 1h0m42 2h0m-110 26h0m79 2h0m-42 15h0m-52 1h0m5 9h0m119 2h0m7 13h0m-58 6h0m30 12h0m-70 13h0m-43 3h0m6 7h0m81 6h0m0 11h0m10 3h0m-18 2h0m4 11h0m-15 0h0m38 7h0m35 7h0m-53 4h0m8 3h0m-24 3h0m25 12h0m-50 1h0m16 7h0m28 0h0m44 2h0m-129 6h0m78 4h0m0 1h0m19 8h0m-96 3h0m14 7h0m0 8h0m-10 4h0m-11 10h0m126 11h0m8 5h0m-80 1h0m-26 13h0m-4 1h0m117 5h0m-83 3h0m-28 7h0m38 1h0m26 4h0m55 2h0m-90 0h0m26 3h0m32 7h0m13 3h0m-119 23h0m115 10h0m-117 10h0m1 4h0m123 3h0m-37 71h0m-60 7h0m-17 5h0m35 6h0m68 15h0m-37 5h0m-83 6h0m42 3h0m14 4h0m-28 3h0m76 4h0m-87 8h0m50 2h0m-12 1h0m47 5h0m-55 14h0m49 3h0m-37 2h0m-48 4h0m45 23h0m32 9h0m-34 3h0m15 1h0m-16 5h0m-31 12h0m-24 8h0m16 1h0m54 8h0m47 14h0m-13 3h0m-53 2h0m-22 13h0m-21 9h0m60 5h0m-62 2h0m80 3h0m-64 6h0m23 8h0m-21 5h0m29 3h0m39 9h0m-61 22h0m14 34h0m114-91h0m13-8h0m11-9h0m-19-18h0m43-20h0m-12-8h0m38-29h0m-49-5h0m107-9h0m-108-7h0m-18-8h0m50-1h0m24-1h0m-67-5h0m13-1h0m36-8h0m-39-8h0m47-6h0m8-2h0m56-4h0m-58-1h0m-27-2h0m-35-1h0m51-8h0m-9-4h0m-36-8h0m100 0h0m-90-26h0m5-2h0m-1-19h0m74-20h0m-47-2h0m37 0h0m-83-2h0m79-3h0m30 0h0m5-3h0m-100-13h0m79-8h0m-71-1h0m-31-4h0m79-3h0m9-3h0m-48-1h0m-24-1h0m88-20h0m-59-37h0m12-3h0m41-21h0m-5-6h0m1-5h0m-84-12h0m17-3h0m107 0h0m-97-14h0m-7-16h0m20-5h0m-33-3h0m61-11h0m-74-1h0m77-18h0m-65-13h0m45-19h0m-23-2h0m37-11h0m-4-2h0m-34-3h0m-10-11h0m41 0h0m32-19h0m-44-7h0m-2-8h0m34-13h0m-76 0h0m46-6h0m-64-13h0m124 0h0m-118-3h0m-4-21h0m60-1h0m-8-11h0m42-4h0m-89-1h0m49-2h0m-46-6h0m95-2h0m25-37h0m-96-30h0m57 0h0m-80-19h0m44-34h0m-52-10h0m55-12h0m43-24h0m-13-2h0m-84-23h0m-6-2h0m46-21h0m-41 0h0m83-8h0m51-35h0m-144-49h0m1-7h0m26-2h0m-2-2h0m96-5h0m-101 0h0m110-54h0m-106-24h0m69-77h0m-77-13h0m48-30h0m-22-2h0m-42-15h0m51 0h0m33-11h0m4-5h0m-61-2h0m42-1h0m-59-39h0m18-49h0m7-25h0m88-7h0m-58-31h0m61-32h0m121 50h0m29 7h0m-98 8h0m97 14h0m-126 13h0m131 18h0m-81 9h0m36 78h0m-42 14h0m-37 4h0m3 10h0m64 9h0m2 7h0m59 18h0m-77 11h0m26 0h0m-79 1h0m38 30h0m13 24h0m-48 3h0m75 4h0m25 0h0m-1 33h0m-25 0h0m-52 20h0m51 16h0m-78 3h0m140 19h0m-130 17h0m15 5h0m36 27h0m64 29h0m-100 44h0m70 2h0m-13 5h0m46 2h0m-13 2h0m-107 6h0m43 9h0m-2 4h0m12 16h0m-39 16h0m-1 15h0m35 6h0m-48 3h0m38 11h0m68 3h0m16 2h0m-4 1h0m1 2h0m-62 5h0m78 11h0m-7 10h0m-120 17h0m95 24h0m-113 3h0m92 6h0m-46 38h0m28 5h0m-56 3h0m41 6h0m88 1h0m-19 1h0m-63 5h0m53 20h0m-31 1h0m-78 3h0m88 3h0m36 11h0m-84 16h0m-51 6h0m124 12h0m-87 3h0m13 11h0m82 9h0m-121 3h0m7 3h0m18 9h0m-13 14h0m26 13h0m14 22h0m23 2h0m-41 19h0m93 11h0m-19 0h0m-84 2h0m-12 1h0m66 12h0m-59 3h0m62 9h0m-55 3h0m-25 9h0m15 1h0m107 6h0m-89 22h0m-42 5h0m54 3h0m7 2h0m61 5h0m-27 4h0m-77 9h0m95 18h0m0 6h0m-33 0h0m-10 13h0m2 4h0m-28 9h0m51 1h0m-92 26h0m16 17h0m38 11h0m-29 2h0m-23 6h0m137 1h0m-65 5h0m-34 0h0m78 8h0m-57 1h0m-21 12h0m98 5h0m-136 17h0m100 21h0m-22 5h0m40 10h0m-87 2h0m-18 11h0m-21 8h0m12 21h0m143-136h0m79-1h0m-46-2h0m-1-6h0m27-4h0m83-2h0m-146-21h0m3-5h0m48-14h0m-2-30h0m58-4h0m19-10h0m-14-10h0m-98-3h0m91-9h0m26-28h0m-28-43h0m-16-24h0m-86 0h0m90-25h0m-55-4h0m34-1h0m20-5h0m-70-62h0m41-12h0m41-3h0m-30-9h0m57-6h0m-83-31h0m95-20h0m-91-2h0m17-7h0m35-2h0m-82-4h0m23-10h0m-30-11h0m-1-5h0m35-7h0m-36-1h0m117-23h0m-38-8h0m36-5h0m-110-1h0m95-45h0m19-3h0m-110-15h0m-9-3h0m59-20h0m-60-3h0m65-2h0m67 0h0m-102-9h0m32-4h0m-63-8h0m114-4h0m-88-45h0m-10-10h0m61-1h0m-11-16h0m-61-6h0m23 0h0m-31-10h0m124-23h0m-114-8h0m60-8h0m62-17h0m-120-14h0m77-10h0m-89-12h0m104-14h0m-52-5h0m-12-27h0m18-55h0m-38-3h0m33-41h0m37-57h0m-88-9h0m27-1h0m51-4h0m-8-27h0m35-3h0m-114-3h0m53-29h0m60-33h0m34-26h0m-11-18h0m-92-6h0m-3-12h0m-26-55h0m134-4h0m31 81h0m44 12h0m34 6h0m-82 59h0m55 12h0m-55 43h0m58 37h0m23 54h0m38 8h0m-57 8h0m-76 15h0m75 7h0m13 28h0m-95 5h0m133 3h0m-24 0h0m-112 16h0m41 6h0m100 8h0m-40 28h0m-42 35h0m-28 18h0m116 1h0m-108 41h0m-9 20h0m77 2h0m-78 44h0m101 5h0m-95 14h0m23 98h0m83 19h0m-109 28h0m54 4h0m-31 15h0m51 21h0m-99 1h0m105 6h0m-89 7h0m-6 37h0m23 29h0m-16 1h0m10 14h0m-1 9h0m62 8h0m-15 20h0m67 11h0m-56 21h0m-80 16h0m59 6h0m9 30h0m-28 18h0m-33 22h0m-3 23h0m46 28h0m50 4h0m1 12h0m-61 28h0m-40 4h0m167-70h0m43-39h0m-59-29h0m64-5h0m-16-11h0m-31-28h0m-17-9h0m20-19h0m60 0h0m47-28h0m-137-1h0m5-4h0m-1 0h0m101-25h0m2-2h0m-81-10h0m-5-25h0m-25-1h0m62-1h0m16-8h0m1-37h0m20-44h0m-57-6h0m-19-2h0m71-10h0m-14-26h0m-30-37h0m32-4h0m-44-4h0m26-3h0m78-14h0m-67-17h0m-6-12h0m34-36h0m-6-11h0m33-3h0m-64-8h0m74-42h0m-27-5h0m-28-7h0m37-7h0m-116-31h0m14-3h0m43-21h0m-52 0h0m65-1h0m-11-14h0m50-18h0m-37-9h0m-60-5h0m-3-30h0m8-4h0m22-55h0m7-8h0m9-7h0m-61-17h0m137-45h0m-46-1h0m-81-18h0m5-29h0m-8-29h0m70-14h0m2-2h0m-31-82h0m-24-52h0m185 157h0m15 147h0m46 7h0m-111 50h0m111 12h0m-20 11h0m49 7h0m-129 46h0m123 2h0m-3 12h0m-113 27h0m105 1h0m-78 6h0m-11 7h0m0 2h0m10 41h0m-14 10h0m98 9h0m-47 19h0m-42 18h0m-3 4h0m57 7h0m-65 18h0m62 7h0m18 0h0m-104 14h0m66 12h0m-21 47h0m86 5h0m-123 13h0m100 12h0m-19 7h0m-69 7h0m-20 16h0m46 12h0m9 20h0m11 31h0m-24 8h0m-40 47h0m28 21h0m-22 32h0m139-218h0m0-18h0m32-31h0m-42-1h0m34-12h0m19-23h0m-15-9h0m0-5h0m-5-3h0m48-3h0m-6-33h0m63-22h0m-116-12h0m36-14h0m88-22h0m-7 0h0m-103-5h0m26-3h0m-3-10h0m88-16h0m-35-118h0m-68-43h0m70-71h0m65 104h0m-27 2h0m25 16h0m53 13h0m13 60h0m-66 86h0"/>
<path class="d" stroke="#0000ff" d="M1341 5519h0m-1 12h0m-2 20h0m5 16h0m-4 7h0m-13 2h0m-19 15h0m40 2h0m-10 12h0m-20 2h0m18 15h0m-25 15h0m8 0h0m4 5h0m9 3h0m-34 1h0m9 8h0m30 1h0m-8 1h0m16 33h0m-15 12h0m-19 10h0m-10 14h0m-6 15h0m19 9h0m-16 4h0m22 13h0m28 3h0m-22 29h0m-13 2h0m-2 15h0m31 2h0m-9 5h0m4 9h0m-1 10h0m36 4h0m-20-11h0m49-10h0m17-3h0m6-1h0m-37-4h0m-19-4h0m88-16h0m-77-9h0m58-5h0m0-3h0m-48-4h0m85 0h0m-49-21h0m56-5h0m-63 0h0m-39 0h0m39-7h0m67-2h0m-28-5h0m-58-2h0m-35-16h0m108-4h0m-95-1h0m25-1h0m61-3h0m-101-1h0m89-5h0m22-4h0m-58 0h0m38-5h0m-77-2h0m60-6h0m42 0h0m11-3h0m-83-1h0m37-4h0m-22-4h0m-52-11h0m-15 0h0m44-2h0m39-2h0m27-8h0m-28 0h0m-4-1h0m-71-8h0m125-4h0m-82-5h0m-10 0h0m54-2h0m42 0h0m-37 0h0m-3-3h0m-26-8h0m-69-1h0m66-5h0m-67 0h0m49-5h0m89-5h0m-115-1h0m81-3h0m-99-2h0m48-5h0m76-3h0m-85-9h0m20-2h0m67 0h0m-5-3h0m-60-4h0m-57-5h0m107-11h0m-107-2h0m-12-4h0m76-3h0m40-5h0m-92-6h0m51-7h0m-11-4h0m-49-3h0m96 0h0m-33-5h0m37-1h0m-66-2h0m3-7h0m-10-1h0m7 0h0m76-4h0m-10-5h0m-51-10h0m19-3h0m54-11h0m-2-4h0m8-4h0m-70 0h0m61-7h0m-15-3h0m-30-6h0m12-7h0m45-12h0m-23-4h0m-9-18h0m28-13h0m137-180h0m-36 37h0m29 2h0m-6 2h0m-22 5h0m21 12h0m17 1h0m5 1h0m-3 9h0m-58 1h0m35 5h0m-33 1h0m23 4h0m28 5h0m-27 4h0m15 4h0m-44 13h0m-18 5h0m80 7h0m-90 1h0m77 1h0m23 2h0m-75 10h0m62 4h0m-38 1h0m-4 0h0m-15 12h0m-58 1h0m36 6h0m40 2h0m-39 1h0m-12 1h0m24 5h0m64 2h0m-49 8h0m34 8h0m-28 3h0m-37 2h0m56 1h0m3 2h0m-11 2h0m18 10h0m-49 2h0m-25 0h0m94 2h0m-13 1h0m-85 4h0m-32 3h0m102 1h0m-40 3h0m-37 1h0m55 1h0m29 0h0m-50 1h0m15 4h0m4 0h0m-27 4h0m-18 7h0m95 0h0m-41 3h0m42 6h0m-10 2h0m-94 2h0m94 0h0m16 1h0m-119 2h0m27 1h0m78 8h0m-93 2h0m72 7h0m-25 1h0m-49 1h0m77 3h0m-45 7h0m10 10h0m63 6h0m-35 1h0m-9 1h0m-46 1h0m54 7h0m-57 0h0m55 1h0m22 8h0m-5 3h0m-42 2h0m36 4h0m-48 1h0m23 6h0m0 8h0m43 5h0m-69 2h0m-5 0h0m-36 13h0m3 2h0m23 2h0m-8 1h0m23 1h0m11 8h0m-39 5h0m-12 4h0m59 1h0m-78 2h0m82 2h0m37 7h0m-23 5h0m-1 3h0m-31 3h0m14 6h0m-34 4h0m63 2h0m-61 1h0m19 1h0m-58 0h0m132 1h0m-43 3h0m-15 0h0m-15 2h0m74 1h0m-69 3h0m-29 1h0m19 1h0m-59 14h0m54 2h0m21 6h0m-22 1h0m12 5h0m13 3h0m-24 3h0m-19 8h0m-36 6h0m63 1h0m-49 0h0m27 1h0m0 7h0m-25 7h0m1 16h0m-15 10h0m-3 9h0m157-96h0m-7-6h0m78-27h0m-59-2h0m96-18h0m-92-7h0m31-1h0m-30-3h0m-7 0h0m25-9h0m55-2h0m-47-5h0m69-1h0m18-6h0m-128-4h0m60-2h0m-26 0h0m-33-5h0m4-4h0m84-6h0m-10-11h0m-34-1h0m-34-3h0m55-3h0m72 0h0m-113-5h0m61-5h0m34-1h0m-85-5h0m82-1h0m-51-5h0m41-3h0m-101-20h0m3-15h0m35-7h0m87-4h0m-139-3h0m28-3h0m-9-11h0m-11-21h0m-9-12h0m6-17h0m7-10h0m3-2h0m2-3h0m8-63h0m-17-13h0m12-7h0m25-11h0m-46-4h0m19-10h0m-7-1h0m32-9h0m4-9h0m-23-3h0m-12-11h0m-8-1h0m9-26h0m136 284h0m43 9h0m41 3h0m-53 4h0m40 6h0m-23 4h0m-8 3h0m43 4h0m-30 4h0m28 2h0m-32 4h0m-32 5h0m11 19h0m19 15h0m38 8h0m-9 13h0m-58 1h0"/>
<path class="d" stroke="#ff0000" d="M2067 5410h0m174-1258h0m-7 7h0m11 54h0m-71 12h0m68 13h0m-18 56h0m-1 26h0m16 12h0m-40 18h0m28 22h0m-39 7h0m9 22h0m5 526h0m27 33h0m-21 11h0m-36 33h0m-26 17h0m103 16h0m-37 16h0m8 22h0m9 31h0m-90 1h0m24 4h0m-52 12h0m12 18h0m-2 23h0m92 4h0m-32 10h0m45 7h0m-11 17h0m-58 25h0m17 2h0m-18 4h0m21 2h0m61 81h0m-108 13h0m57 11h0m36 3h0m-87 1h0m16 10h0m-52 26h0m11 6h0m13 13h0m41 56h0m20 4h0m21 6h0m-42 15h0m-37 8h0m85 8h0m-102 5h0m130 0h0m-47 2h0m-9 31h0m8 23h0m-17 7h0m41 14h0m-103 16h0m109 12h0m51 11h0m62-62h0m45-16h0m-47-8h0m4-11h0m-32-1h0m46-7h0m6-12h0m-48-26h0m17-20h0m-45-34h0m106-1h0m-40 0h0m-30-24h0m44-38h0m-15-50h0m30 0h0m-5-9h0m-8-8h0m-81-4h0m-26-4h0m139-57h0m-128-1h0m81-2h0m-44-4h0m50-14h0m-8-28h0m-95-18h0m3-18h0m141-8h0m-66-22h0m0-18h0m24-41h0m-26-7h0m-68-9h0m26-2h0m97 0h0m-11-56h0m15-17h0m-3-24h0m2-17h0m-85-3h0m79-30h0m-87 0h0m8-15h0m76-10h0m12-23h0m-53-31h0m-74-26h0m94-13h0m-33 0h0m22-31h0m-20-8h0m-11-26h0m-23-46h0m25-45h0m-47-11h0m55-46h0m39-3h0m-78-39h0m50-32h0m35-4h0m-79-11h0m49-9h0m-12-5h0m-22-13h0m56-18h0m-80-23h0m110-2h0m-134-7h0m19-3h0m19-1h0m-34-19h0m50-19h0m23-1h0m-68-2h0m8 0h0m125-6h0m-65-2h0m-33-8h0m66-10h0m-61-2h0m6-10h0m75-2h0m-130-17h0m69-13h0m-27-2h0m-34-4h0m24-22h0m5-2h0m-31 0h0m27-4h0m-13-15h0m17-2h0m20-1h0m-35-3h0m77-7h0m-56-7h0m36-2h0m-45-5h0m60-1h0m40-1h0m-98 0h0m21-6h0m5-2h0m11-4h0m-15-8h0m6-13h0m70-1h0m-50-4h0m-88-5h0m138-16h0m-92-2h0m14-8h0m-28-8h0m-29-1h0m113 0h0m-105-9h0m52-1h0m-32-65h0m-7-4h0m3-18h0m96 0h0m-106-9h0m79-58h0m-85-30h0m123-4h0m-74-4h0m65-64h0m99-301h0m57 21h0m-43 30h0m56 7h0m-40 0h0m39 3h0m1 32h0m-78 4h0m45 8h0m-21 2h0m30 2h0m26 13h0m-38 3h0m-36 19h0m-8 7h0m29 5h0m-66 9h0m-1 8h0m23 1h0m94 7h0m-11 0h0m-53 5h0m-11 8h0m-18 8h0m94 18h0m-123 8h0m39 2h0m20 7h0m3 2h0m3 0h0m16 16h0m-90 9h0m51 2h0m35 6h0m-95 3h0m108 10h0m-74 12h0m77 11h0m22 22h0m-57 15h0m25 1h0m-63 4h0m-35 14h0m4 4h0m65 3h0m-67 10h0m48 12h0m81 3h0m-49 5h0m-76 10h0m85 1h0m-92 0h0m135 1h0m-16 1h0m15 1h0m-76 14h0m25 4h0m-67 1h0m43 14h0m-12 20h0m34 6h0m-17 4h0m16 6h0m34 0h0m8 6h0m-41 2h0m-82 12h0m38 9h0m50 0h0m-64 4h0m-24 23h0m68 0h0m71 24h0m-139 8h0m3 6h0m115 2h0m-64 12h0m32 3h0m0 1h0m-22 4h0m56 1h0m10 3h0m-113 11h0m69 17h0m35 10h0m-80 2h0m14 42h0m48 2h0m-96 2h0m37 1h0m-14 14h0m107 17h0m-110 25h0m-32 11h0m94 6h0m-10 14h0m-61 15h0m89 0h0m8 5h0m-93 12h0m78 19h0m-83 4h0m67 7h0m-14 11h0m-20 23h0m22 9h0m48 2h0m13 28h0m-8 1h0m-18 5h0m-47 3h0m63 18h0m-114 36h0m55 9h0m19 4h0m51 17h0m-62 5h0m49 2h0m-73 20h0m8 6h0m56 11h0m-72 17h0m77 6h0m-61 37h0m76 4h0m-48 23h0m10 6h0m30 0h0m-1 28h0m-38 1h0m-25 4h0m60 17h0m-17 2h0m-6 13h0m-88 29h0m4 5h0m69 17h0m14 8h0m15 1h0m-62 12h0m2 5h0m-34 4h0m24 13h0m-38 6h0m86 7h0m-3 6h0m30 5h0m-19 2h0m-13 5h0m14 13h0m-41 0h0m-1 4h0m-3 10h0m-15 0h0m74 7h0m-111 7h0m33 9h0m-15 0h0m107 28h0m-121 5h0m1 12h0m54 21h0m34 10h0m40 3h0m-80 4h0m-33 1h0m71 22h0m-5 6h0m-35 13h0m44 13h0m-82 8h0m9 2h0m69 11h0m-85 18h0m8 8h0m92 2h0m-94 2h0m50 4h0m11 5h0m-69 28h0m35 8h0m35 17h0m6 0h0m-28 1h0m-6 12h0m15 1h0m-25 51h0m75 0h0m-101 18h0m105 3h0m21 20h0m-62 16h0m8 9h0m-75 1h0m32 3h0m20 12h0m23 69h0m26 13h0m-67 1h0m-12 31h0m43 4h0m48 2h0m-100 9h0m-3 11h0m1 4h0m31 16h0m-28 50h0m178-117h0m-1 0h0m40-14h0m-11-4h0m-80-3h0m18-16h0m101-26h0m-29-18h0m-37-3h0m61-35h0m-103 0h0m-2-13h0m96-27h0m-72-22h0m67-4h0m6-44h0m6-8h0m-95 0h0m73-4h0m53-7h0m-12-2h0m-19-3h0m-101-13h0m129-36h0m-41-14h0m-30-11h0m21-8h0m-77-11h0m94-15h0m-15-31h0m-11-10h0m-9-9h0m-33-27h0m86-5h0m-129-18h0m58-7h0m-40-2h0m66-2h0m-50 0h0m27-3h0m-48-7h0m30-3h0m78-5h0m12-8h0m-71-5h0m40-33h0m-71-9h0m48 0h0m19-2h0m-44-2h0m68-2h0m-60-2h0m70-14h0m-64-13h0m23-1h0m44-12h0m-88-12h0m-36-2h0m3 0h0m114-16h0m-81-20h0m22-10h0m-66-13h0m20-5h0m79-3h0m39-11h0m-27-2h0m-4-17h0m-36-13h0m17-5h0m33-1h0m23-6h0m-95-25h0m39 0h0m-62-15h0m115-14h0m-115-12h0m64-2h0m-35-8h0m31-17h0m-52-17h0m-19-20h0m76-21h0m53-10h0m-1-3h0m-3-18h0m2-3h0m-125-6h0m120-11h0m-37 0h0m11-6h0m17-17h0m-15-5h0m-64 0h0m92-4h0m-104-2h0m-10-1h0m56-12h0m19-6h0m15-12h0m11-2h0m-97-2h0m77-11h0m32-7h0m-118-7h0m112-1h0m-2 0h0m-40-4h0m-8-2h0m-27 0h0m66-5h0m-26-2h0m-87-16h0m18-22h0m-16-5h0m122-1h0m-127 0h0m87-12h0m49-4h0m-13-24h0m-71-10h0m43-21h0m-19-1h0m32-3h0m-4-11h0m-24-3h0m-3 0h0m-57-30h0m5-14h0m98-3h0m-40-8h0m50-1h0m-21-16h0m-72-24h0m-40-6h0m80 0h0m11-3h0m-7-1h0m15-12h0m-102-2h0m110-13h0m-72-4h0m-9-2h0m-13-4h0m31-4h0m-31-1h0m-8-4h0m84-18h0m-42-7h0m91-6h0m-5-27h0m-39-9h0m-46-12h0m83-2h0m-77-4h0m22-20h0m20-2h0m-72-7h0m39 0h0m56 0h0m-79-5h0m76-14h0m-103 0h0m14-7h0m67-5h0m24-1h0m7-1h0m-28-12h0m-78-2h0m111-1h0m-91 0h0m50-3h0m49-8h0m-111-2h0m76-1h0m-6-4h0m-2-1h0m30-10h0m-16 0h0m-4-10h0m-12-5h0m-52-4h0m-14-19h0m-28-1h0m48-3h0m30-8h0m53-4h0m-30-20h0m-93-3h0m86-38h0m44-6h0m-23-7h0m-52-3h0m-19-31h0m54-21h0m-51-4h0m60-5h0m-66-5h0m53-11h0m28-2h0m-116-2h0m28-3h0m13-10h0m37-4h0m-62-10h0m29-3h0m27-3h0m-57-11h0m7-3h0m36-2h0m-34-31h0m-19-2h0m120-8h0m-125-4h0m26-8h0m17-3h0m25-2h0m23-2h0m7-2h0m-113-2h0m96-9h0m-22-6h0m50-9h0m12-5h0m-107-12h0m45-2h0m-53-7h0m43-2h0m8-3h0m44-26h0m2-14h0m-59-33h0m26-1h0m22-12h0m28-5h0m-25-1h0m-21-39h0m20-14h0m-18-5h0m50-9h0m-45-5h0m18-6h0m-32-21h0m51-45h0m-15-102h0m155-136h0m-20 0h0m-40 89h0m-18 7h0m54 6h0m15 7h0m9 0h0m18 1h0m-80 13h0m4 3h0m28 3h0m23 4h0m-63 20h0m-12 16h0m107 9h0m-145 1h0m140 4h0m-92 2h0m83 3h0m-120 4h0m78 0h0m49 2h0m-113 8h0m109 0h0m-103 12h0m1 1h0m111 1h0m-25 12h0m-108 3h0m75 6h0m-43 9h0m22 1h0m41 14h0m-64 19h0m81 10h0m-66 4h0m-28 0h0m13 13h0m89 9h0m13 1h0m-100 3h0m24 2h0m24 1h0m-7 9h0m35 0h0m-115 15h0m0 25h0m68 9h0m65 7h0m-34 22h0m-18 3h0m30 13h0m-21 3h0m20 17h0m-2 0h0m-112 6h0m104 1h0m-64 1h0m-8 1h0m36 7h0m-10 1h0m68 4h0m-76 0h0m-35 3h0m113 5h0m-109 25h0m91 4h0m-35 11h0m-33 3h0m-21 0h0m58 0h0m-35 2h0m99 9h0m-48 5h0m-79 8h0m112 2h0m-27 8h0m-73 16h0m72 4h0m-16 4h0m26 7h0m-76 4h0m-11 20h0m71 8h0m-52 8h0m11 0h0m-39 5h0m42 6h0m10 6h0m12 1h0m48 0h0m-42 1h0m-34 2h0m13 5h0m-11 4h0m5 1h0m-21 2h0m48 13h0m57 3h0m-10 56h0m-14 6h0m-91 10h0m-14 9h0m19 3h0m-9 5h0m81 1h0m5 1h0m-53 12h0m13 31h0m-4 9h0m-17 3h0m4 8h0m-30 5h0m91 7h0m-104 2h0m102 6h0m-29 2h0m-55 7h0m114 19h0m-139 5h0m61 18h0m3 3h0m14 12h0m-11 7h0m-61 4h0m-6 9h0m38 10h0m19 6h0m26 4h0m-69 2h0m-15 0h0m71 16h0m-59 11h0m22 11h0m99 4h0m-79 1h0m28 11h0m27 5h0m-99 6h0m125 2h0m-61 7h0m-39 8h0m-10 6h0m52 17h0m-76 21h0m20 8h0m75 2h0m-63 3h0m103 4h0m-76 2h0m-12 2h0m-11 10h0m29 4h0m-66 19h0m79 3h0m4 18h0m30 4h0m-12 0h0m26 12h0m6 11h0m9 12h0m-31 5h0m15 10h0m-28 2h0m-82 4h0m31 10h0m35 6h0m-43 3h0m13 1h0m19 0h0m-54 5h0m-21 16h0m64 0h0m80 1h0m-3 4h0m-33 15h0m22 0h0m-72 11h0m35 5h0m29 1h0m-74 2h0m23 3h0m34 5h0m-76 2h0m102 3h0m-129 1h0m87 2h0m-77 2h0m3 1h0m29 8h0m8 5h0m-52 3h0m74 1h0m9 6h0m29 20h0m-106 7h0m83 11h0m-66 5h0m34 1h0m41 4h0m-17 2h0m59 3h0m-46 1h0m32 0h0m-37 5h0m60 1h0m-81 12h0m10 2h0m-36 9h0m74 3h0m-73 0h0m11 2h0m30 4h0m34 8h0m-73 11h0m16 1h0m82 1h0m-121 5h0m123 5h0m-55 4h0m1 4h0m-40 1h0m61 10h0m-33 4h0m-50 1h0m67 9h0m-49 3h0m-34 6h0m41 10h0m61 3h0m-73 7h0m60 2h0m-17 4h0m-53 4h0m-9 7h0m18 3h0m94 7h0m-130 4h0m132 9h0m-97 2h0m58 25h0m3 2h0m-40 7h0m30 9h0m51 1h0m-132 0h0m46 11h0m75 0h0m-14 13h0m16 8h0m0 9h0m-16 20h0m-36 5h0m39 2h0m-93 2h0m43 6h0m45 1h0m9 12h0m-81 14h0m4 9h0m1 1h0m-5 19h0m21 6h0m-3 4h0m13 4h0m23 2h0m3 3h0m37 21h0m-65 7h0m-17 4h0m21 3h0m32 1h0m-80 2h0m-23 3h0m29 1h0m5 1h0m48 9h0m14 1h0m-91 15h0m82 1h0m15 9h0m-93 1h0m24 2h0m-22 9h0m66 1h0m-22 1h0m-10 2h0m-20 16h0m75 26h0m17 4h0m6 14h0m-8 3h0m-112 18h0m122 10h0m-90 1h0m-3 5h0m18 10h0m-6 10h0m-25 21h0m80 14h0m17 2h0m-11 18h0m-23 14h0m-39 4h0m47 0h0m-9 12h0m-79 1h0m43 6h0m50 7h0m-100 21h0m112 27h0m-90 66h0m119 21h0m-137 47h0m75 10h0m10 28h0m-6 16h0m40 21h0m69-4h0m81-39h0m-3-73h0m-10-35h0m-23-39h0m-49-40h0m45-27h0m9-6h0m-82-86h0m94-13h0m-19-3h0m-83-1h0m27-10h0m110-12h0m-107-85h0m-32-8h0m7-8h0m-2-33h0m-3-19h0m55-1h0m-57 0h0m149-8h0m-118-2h0m-21-4h0m14-12h0m-5-3h0m-1-12h0m78-2h0m48-1h0m-68-2h0m54 0h0m-34-13h0m-24-7h0m27-2h0m-88-2h0m57-1h0m23-10h0m-63-12h0m13-2h0m94-19h0m-109-1h0m54-4h0m31-3h0m12-3h0m-102-4h0m21-12h0m-15-9h0m116-4h0m1-1h0m-19-8h0m-5-9h0m-3-6h0m-65-8h0m-10-13h0m-25-9h0m105-3h0m-13-1h0m-78-2h0m109-3h0m-39-16h0m-60-17h0m68-9h0m-51-8h0m81-7h0m-40-12h0m-14-12h0m49-4h0m-125-2h0m130-5h0m-57-22h0m63-4h0m-124-7h0m65-1h0m-82 0h0m129-20h0m-24-2h0m-49-2h0m89-2h0m-90 0h0m20-12h0m-48-1h0m94-5h0m-83-3h0m107-17h0m-116 0h0m112-2h0m-86-4h0m-39-1h0m19-1h0m0-13h0m2-4h0m-3-5h0m64-9h0m-89-4h0m49-5h0m-4-2h0m-53-6h0m12-3h0m14-2h0m17-16h0m62 0h0m-28-7h0m-49 0h0m89-1h0m-55-7h0m-14-3h0m2-25h0m31-4h0m60-3h0m-106-7h0m104-12h0m-86-12h0m12-3h0m28-7h0m-88-2h0m43-7h0m23-4h0m-1-3h0m-35-3h0m56-6h0m19-8h0m-32-1h0m-2-1h0m11-6h0m-2-3h0m-65-2h0m91-10h0m11-6h0m14-8h0m-79-4h0m41-3h0m11-3h0m-106 0h0m69-2h0m66-15h0m-51-7h0m25 0h0m-11-1h0m-4-14h0m0-17h0m42-7h0m-105-5h0m67-3h0m31-34h0m-58-14h0m-21-22h0m89-4h0m-48-5h0m-33-24h0m80-10h0m-22 0h0m25-2h0m-98-10h0m-23-9h0m18-4h0m37-18h0m-29-24h0m27-10h0m13-1h0m8-7h0m-11-5h0m-13-2h0m-65-16h0m78-39h0m-67-4h0m91-3h0m-21 0h0m-43-16h0m27-11h0m-51-3h0m122-5h0m-104-5h0m11-14h0m91-4h0m-121-4h0m88-1h0m-10-47h0m-74-9h0m52-37h0m-36-15h0m19-4h0m-26-22h0m66 0h0m-20-3h0m-65-2h0m83-10h0m-54 0h0m31-15h0m56-4h0m-101-25h0m58-15h0m-80-1h0m41-5h0m-22-2h0m90-2h0m2-6h0m-116 0h0m137-3h0m2-2h0m-11-13h0m-108-4h0m-8-1h0m116-12h0m-58-4h0m48-9h0m15-25h0m-29-10h0m-103-23h0m35-8h0m38-16h0m36-7h0m-50-3h0m-44-9h0m-4-10h0m-20-2h0m64-2h0m-18-1h0m8-10h0m-43-5h0m5 0h0m4-10h0m99-3h0m16-7h0m-46-3h0m-24-11h0m-2-11h0m36-2h0m8-7h0m-12-4h0m-23-4h0m-4-2h0m7-2h0m-51-28h0m73-7h0m16-35h0m2-1h0m-49-3h0m24 0h0m-76-2h0m91-3h0m-35-7h0m20-7h0m58-8h0m-112-4h0m35-1h0m-64-24h0m51-1h0m-57-1h0m55 0h0m-41-1h0m126 0h0m-136-2h0m51-4h0m-25-4h0m-30-1h0m82-7h0m-29-7h0m-22-4h0m66 0h0m-22-8h0m40-14h0m-114-15h0m3-15h0m98-17h0m-60-5h0m-10-8h0m51-11h0m15-12h0m9-1h0m-34-6h0m39 0h0m-68-8h0m103-2h0m-38-8h0m-97-7h0m14-10h0m55-7h0m29-32h0m38-3h0m-10-5h0m-99-7h0m48-2h0m-17-2h0m-43-10h0m47-5h0m27-56h0m21-37h0m1-14h0m-21-21h0m18-7h0m165-434h0m4 193h0m-44 70h0m-21 8h0m57 24h0m-22 4h0m-45 2h0m62 23h0m9 4h0m9 7h0m-20 3h0m-59 7h0m59 5h0m12 4h0m-13 5h0m-79 49h0m11 6h0m-6 17h0m79 1h0m-41 16h0m14 13h0m32 7h0m-48 5h0m5 5h0m-6 9h0m-14 2h0m-15 11h0m57 6h0m-88 9h0m17 15h0m82 6h0m-124 2h0m115 4h0m-65 3h0m46 10h0m53 0h0m-42 9h0m-1 8h0m-27 2h0m-31 4h0m75 1h0m-55 11h0m-9 4h0m54 15h0m-67 19h0m11 1h0m-29 7h0m34 15h0m-39 20h0m96 8h0m-53 24h0m33 4h0m-66 7h0m51 3h0m43 22h0m-114 5h0m15 6h0m27 4h0m-7 1h0m-13 4h0m102 13h0m-125 3h0m65 1h0m47 56h0m-78 1h0m50 0h0m-87 0h0m-2 4h0m39 17h0m-26 2h0m-5 7h0m18 28h0m-25 17h0m5 6h0m121 5h0m-33 3h0m-46 1h0m38 17h0m-38 6h0m83 15h0m-1 2h0m5 4h0m-134 12h0m27 23h0m82 11h0m-106 2h0m-7 9h0m82 11h0m-50 1h0m-29 1h0m98 22h0m-87 8h0m7 4h0m115 4h0m-109 20h0m-25 2h0m82 5h0m-88 2h0m60 19h0m-56 8h0m17 2h0m102 0h0m10 13h0m-58 28h0m-12 30h0m-52 5h0m88 5h0m-62 4h0m-19 22h0m52 5h0m78 10h0m-49 16h0m-5 5h0m-46 4h0m-17 0h0m51 4h0m-82 15h0m141 23h0m-134 8h0m36 20h0m23 14h0m40 4h0m0 7h0m-33 7h0m-35 5h0m20 0h0m88 2h0m-37 15h0m-1 3h0m-100 13h0m63 1h0m73 9h0m-98 28h0m29 36h0m39 8h0m-31 3h0m-59 2h0m20 16h0m75 2h0m-76 12h0m-15 5h0m-19 12h0m31 5h0m-40 2h0m14 3h0m130 4h0m-51 8h0m-63 1h0m56 1h0m41 2h0m-109 11h0m97 7h0m-58 10h0m57 0h0m23 4h0m-100 10h0m80 12h0m17 0h0m-26 8h0m41 9h0m-114 2h0m94 16h0m-30 7h0m35 3h0m-66 5h0m-38 3h0m71 0h0m13 3h0m-10 2h0m36 5h0m-71 3h0m-54 6h0m59 1h0m-30 2h0m-6 0h0m-33 4h0m10 4h0m67 4h0m-55 7h0m-22 3h0m74 0h0m15 2h0m-18 11h0m-44 5h0m54 3h0m33 7h0m2 1h0m-81 1h0m-24 9h0m32 3h0m-26 1h0m20 4h0m88 2h0m-103 0h0m66 1h0m31 2h0m19 13h0m-52 2h0m-37 2h0m1 14h0m10 7h0m0 2h0m-31 2h0m27 4h0m-49 1h0m54 1h0m38 17h0m32 2h0m-14 1h0m-89 4h0m6 5h0m28 1h0m-48 1h0m123 5h0m-10 8h0m-95 1h0m88 10h0m-24 15h0m-72 3h0m10 4h0m52 2h0m-46 3h0m91 2h0m-29 16h0m-44 2h0m-59 4h0m52 13h0m11 1h0m-53 7h0m76 4h0m-67 4h0m75 2h0m26 2h0m-113 5h0m78 7h0m-37 4h0m-3 2h0m56 14h0m-23 3h0m21 2h0m-33 10h0m-12 0h0m-52 1h0m92 0h0m-24 11h0m-11 10h0m0 0h0m11 15h0m-47 15h0m94 3h0m-79 2h0m74 2h0m-9 10h0m-81 1h0m94 12h0m-64 5h0m92 23h0m-52 0h0m-48 4h0m-1 3h0m-46 12h0m92 0h0m8 6h0m-22 1h0m37 2h0m-46 2h0m62 0h0m-14 4h0m-107 0h0m119 8h0m-72 3h0m86 2h0m-39 2h0m9 27h0m-19 4h0m-19 2h0m-18 2h0m49 11h0m-32 1h0m60 15h0m-37 3h0m33 2h0m-65 6h0m38 2h0m-70 1h0m88 3h0m-6 7h0m-112 0h0m19 5h0m-16 5h0m113 3h0m-17 3h0m44 20h0m-146 4h0m112 3h0m-92 8h0m56 3h0m-47 7h0m115 5h0m-62 2h0m57 7h0m-129 1h0m127 7h0m-56 3h0m-12 3h0m38 7h0m-41 12h0m78 26h0m-25 3h0m-35 5h0m-77 11h0m59 14h0m74 6h0m-107 6h0m6 1h0m8 29h0m22 7h0m0 19h0m72 14h0m-138 44h0m115 0h0m-71 14h0m-43 2h0m98 8h0m-93 3h0m23 13h0m17 12h0m-20 10h0m93 21h0m-115 0h0m121 3h0m-2 48h0m-76 14h0m88 7h0m-68 16h0m-6 11h0m38 8h0m-34 1h0m-14 8h0m3 41h0m68 9h0m-114 4h0m29 34h0m-31 15h0m41 55h0m-17 4h0m6 18h0m-12 6h0m-25 1h0m29 9h0m-9 9h0m88 1h0m-25 5h0m0 15h0m178-8h0m-108-69h0m100-3h0m-7-141h0m-43-26h0m-9-2h0m4-66h0m52-6h0m-62-3h0m-28-66h0m17-18h0m78-20h0m-18-5h0m40-21h0m-122-5h0m128-50h0m-59-5h0m-19-8h0m80-3h0m-70-13h0m26-1h0m-16-10h0m38-1h0m25-7h0m-11-14h0m-89-34h0m-35-1h0m51-1h0m-51-16h0m139-3h0m-79-8h0m-3-3h0m-50-8h0m27-9h0m8-6h0m-16-10h0m27-13h0m36-10h0m-16-3h0m-28-10h0m72-8h0m-59-1h0m54-2h0m-75-2h0m89-6h0m14-9h0m-121-5h0m16-8h0m-3-13h0m-18 0h0m11-6h0m90-7h0m2-7h0m-51-8h0m-39-1h0m76-4h0m-20-4h0m-80-4h0m31 0h0m-40-17h0m51-25h0m49-1h0m-66-2h0m61-9h0m2-1h0m-56-3h0m94-6h0m-69-22h0m65-1h0m-113-1h0m116-2h0m-119-6h0m31-2h0m7-5h0m21-4h0m-55-1h0m21-1h0m-9-3h0m-30-9h0m124-23h0m-3-5h0m-72-5h0m-14 0h0m75-2h0m-77-25h0m18-2h0m53-4h0m-31 0h0m0-6h0m-54-8h0m69-3h0m-70-5h0m-4-3h0m96-3h0m15-1h0m-58-4h0m56-6h0m-34-15h0m-78-9h0m20-8h0m40-10h0m-5-7h0m7-2h0m-36-9h0m43-3h0m-80-3h0m70-18h0m61-3h0m-16-3h0m-86-4h0m39-4h0m-22 0h0m53-2h0m49-6h0m-55-4h0m28-5h0m-112-8h0m100-1h0m24-2h0m-125-7h0m124 0h0m1-13h0m-128-6h0m89-3h0m-67-18h0m39-6h0m33-1h0m-99-4h0m88-2h0m-22-9h0m18-2h0m-58-3h0m-24-2h0m14-2h0m62-5h0m-1 0h0m-5-1h0m-48-2h0m17-1h0m-4-8h0m-8-3h0m83-11h0m-101-5h0m117 0h0m-23-6h0m-38-3h0m-67-2h0m79-3h0m-79 0h0m46-5h0m30-4h0m4-6h0m52-3h0m8-1h0m-132 0h0m118-8h0m-64-3h0m4-9h0m-7-4h0m-48-8h0m11-2h0m-4-7h0m-9-5h0m60-2h0m-53-8h0m13-6h0m10-2h0m26 0h0m-19-3h0m-31-12h0m120 0h0m-40-2h0m9-2h0m8-8h0m-51-6h0m10 0h0m-43-3h0m64-2h0m-85-1h0m2-3h0m-5-2h0m76 0h0m-62-19h0m123-3h0m-98-7h0m36-5h0m-1-9h0m-35-2h0m93-3h0m-134-7h0m81-6h0m-15-7h0m-21-1h0m79-1h0m-38-9h0m46-1h0m2-5h0m-40-2h0m35-2h0m-38-10h0m-8 0h0m54-5h0m0-7h0m-44-1h0m-69-8h0m97-4h0m-86-1h0m46-13h0m-6-5h0m-49-9h0m117-3h0m-139-5h0m109-5h0m-13-5h0m45-10h0m-65-28h0m8-1h0m-13-4h0m-58-16h0m3-1h0m104-10h0m7-2h0m-119-4h0m43-36h0m29-11h0m8-1h0m-73-10h0m31-6h0m48-4h0m36-5h0m-94-23h0m-7-1h0m63-69h0m10-6h0m28-25h0m-24-6h0m-86-2h0m51-14h0m41-1h0m26-1h0m-58-5h0m-67-7h0m-12-9h0m67-4h0m-27 0h0m85 0h0m-66-20h0m-12-10h0m53-6h0m-93-1h0m83-5h0m23-20h0m-116-24h0m111-6h0m2-18h0m-86-58h0m-14-7h0m-11-23h0m124-17h0m-47-8h0m32-2h0m-59-3h0m-4-9h0m38-45h0m46-15h0m-41-13h0m10-9h0m17-25h0m-101-3h0m74-11h0m37-7h0m-8 0h0m-112-16h0m21-8h0m54-10h0m-86-38h0m93-13h0m-57-12h0m-15-21h0m62-10h0m54-2h0m-110 0h0m17-1h0m17-26h0m3-2h0m73-1h0m-107-16h0m50-8h0m4-11h0m-40-6h0m43-14h0m29-15h0m-20-3h0m-20-37h0m-14 0h0m-11-7h0m-21-9h0m107-5h0m-73-11h0m33-11h0m43-13h0m-5-35h0m-56-36h0m60-5h0m-99-4h0m-7-8h0m73-1h0m-34-11h0m-22-2h0m97-1h0m-105-12h0m97-1h0m-4-19h0m-97-52h0m94-27h0m-17-6h0m-17-5h0m32-12h0m5-20h0m-123-1h0m92-6h0m17-38h0m-56-39h0m229-287h0m-21 27h0m-48 36h0m60 14h0m-12 20h0m-72 5h0m86 17h0m-12 27h0m-26 24h0m-81 1h0m38 5h0m20 6h0m-46 12h0m54 5h0m-24 15h0m25 14h0m-10 38h0m-20 46h0m30 2h0m-53 12h0m21 8h0m-1 2h0m39 17h0m-13 34h0m-69 13h0m73 4h0m-36 27h0m-7 3h0m-32 7h0m7 13h0m97 8h0m-9 1h0m-79 18h0m32 28h0m67 16h0m14 42h0m-83 5h0m50 1h0m13 25h0m20 10h0m11 16h0m-123 10h0m1 18h0m77 5h0m-76 0h0m-18 3h0m102 40h0m-28 34h0m-22 12h0m-24 54h0m-34 5h0m41 0h0m52 7h0m-47 19h0m45 1h0m-37 3h0m-10 5h0m-19 1h0m70 7h0m-49 4h0m21 18h0m7 5h0m70 1h0m1 4h0m-6 6h0m-104 4h0m107 10h0m-78 27h0m10 13h0m52 0h0m-125 0h0m15 42h0m24 35h0m-23 1h0m3 36h0m104 5h0m8 8h0m-38 24h0m7 2h0m-53 27h0m59 6h0m24 23h0m-24 32h0m-71 22h0m67 24h0m-39 22h0m-16 8h0m44 22h0m-89 11h0m28 48h0m35 1h0m22 2h0m14 1h0m12 26h0m-105 25h0m56 35h0m-33 27h0m102 12h0m-130 1h0m72 20h0m-72 4h0m109 10h0m-16 5h0m-37 5h0m58 21h0m-5 1h0m-10 8h0m-9 26h0m40 13h0m-31 3h0m35 8h0m-57 2h0m-58 16h0m-15 13h0m62 1h0m-22 7h0m18 4h0m48 3h0m-67 4h0m14 9h0m77 4h0m-123 6h0m26 3h0m-16 16h0m-20 5h0m58 3h0m68 1h0m-126 2h0m71 3h0m9 10h0m36 5h0m-44 2h0m53 1h0m5 9h0m8 3h0m-60 2h0m-76 0h0m109 1h0m-45 10h0m59 13h0m3 9h0m-59 5h0m26 1h0m-47 14h0m67 5h0m-54 7h0m0 6h0m54 1h0m22 2h0m-127 8h0m87 12h0m-17 5h0m-61 17h0m114 13h0m-87 19h0m0 3h0m30 6h0m-69 1h0m49 2h0m71 4h0m-51 5h0m54 10h0m0 3h0m-29 3h0m-24 9h0m28 15h0m-73 11h0m12 1h0m-1 2h0m94 12h0m-28 5h0m-28 4h0m-89 2h0m22 5h0m97 1h0m-109 11h0m-1 6h0m-10 11h0m134 27h0m-102 3h0m-16 3h0m24 4h0m21 23h0m29 6h0m5 3h0m10 9h0m-86 0h0m-14 18h0m1 2h0m105 9h0m22 16h0m-57 14h0m-40 7h0m83 1h0m-100 9h0m85 6h0m-77 24h0m29 7h0m2 8h0m30 6h0m-46 7h0m-11 3h0m57 3h0m-22 0h0m36 28h0m-3 9h0m-96 0h0m19 21h0m95 9h0m-103 21h0m-2 4h0m42 2h0m31 1h0m-37 5h0m-31 5h0m35 8h0m-20 1h0m28 0h0m-40 5h0m3 3h0m126 5h0m-73 11h0m-71 9h0m130 6h0m-13 4h0m-30 15h0m-2 3h0m-10 10h0m-8 1h0m30 13h0m-71 18h0m9 8h0m-33 10h0m14 12h0m109 16h0m-109 40h0m47 2h0m-14 2h0m94 2h0m-118 23h0m-4 90h0m-5 31h0m-9 19h0m2 27h0m81 12h0m5 10h0m-77 43h0m78 10h0m16 25h0m-33 15h0m23 27h0m-95 14h0m106 33h0m-82 17h0m-28 31h0m80 53h0m44 6h0m-130 4h0m96 29h0m-83 7h0m4 15h0m16 2h0m77 1h0m13 29h0m-125 13h0m152-18h0m55-101h0m22-13h0m11-14h0m16-54h0m-87-17h0m55-47h0m-13-31h0m-18-24h0m-23-3h0m32-24h0m63-4h0m-4-9h0m-85-29h0m84-8h0m-99-17h0m106-12h0m-55-11h0m-22-36h0m45 0h0m-35-12h0m23-21h0m19-2h0m45-35h0m-106 0h0m100-23h0m-16-13h0m-47-11h0m-65-6h0m132-12h0m-65-38h0m-35-18h0m35-22h0m-16-7h0m70-3h0m-91-5h0m-16 0h0m37-15h0m8-2h0m50-5h0m-66-5h0m-24-7h0m-16-2h0m125-3h0m-94-5h0m-26-4h0m-2-5h0m126-2h0m5-6h0m-51-4h0m-26-9h0m-17-30h0m-19-4h0m-19 0h0m82-1h0m-45-14h0m35-3h0m55 0h0m-95-6h0m-27-12h0m73 0h0m52-5h0m-3-1h0m11-10h0m-5-3h0m-88-5h0m-40-31h0m40-13h0m-16-8h0m20-9h0m36-6h0m34-7h0m-45-2h0m-78-4h0m54-23h0m67-1h0m-105-8h0m-6-3h0m62-8h0m32-2h0m-30-9h0m-24-9h0m-20-17h0m70-7h0m32-15h0m-108-12h0m112-1h0m-56-8h0m-11-7h0m-45-19h0m105-2h0m-14-8h0m-88-2h0m100-17h0m-60-3h0m-28-9h0m32-1h0m-54-5h0m67-27h0m-68-6h0m71-16h0m24-2h0m31-1h0m-145-2h0m2-16h0m42-11h0m-21-1h0m103-13h0m-127-3h0m64-14h0m5-1h0m7-3h0m-55-3h0m64-5h0m9-13h0m49-6h0m-52-1h0m25-3h0m-44-2h0m-60-2h0m20-18h0m117-10h0m-16-16h0m-84-3h0m60-8h0m-23-2h0m-39-4h0m101-25h0m-73-14h0m-37-10h0m42-4h0m-5-15h0m-17-6h0m90-11h0m-123-2h0m-15 0h0m79-21h0m-69-1h0m-15-18h0m132-13h0m-17-8h0m2-13h0m-109-1h0m70-7h0m-45-9h0m68-18h0m42-4h0m-105-1h0m-2-2h0m48-20h0m-77-12h0m-1-19h0m31-3h0m-1-5h0m49-4h0m-40-5h0m45-4h0m20-3h0m-9-5h0m-32 0h0m-61-11h0m103-4h0m-89-5h0m-27-25h0m93-26h0m14-2h0m-72-13h0m40-39h0m-70-8h0m107-14h0m-87-59h0m114-1h0m-137-17h0m126-21h0m-90-1h0m-2-23h0m-3-2h0m-16-5h0m29-5h0m11-3h0m-26-35h0m30-13h0m66-60h0m-5-17h0m13-4h0m-27-19h0m2-10h0m-77-21h0m15-14h0m38-8h0m-41-17h0m-16-39h0m-3-5h0m36-82h0m-13-60h0m93-39h0m-28-39h0m-73-4h0m84-16h0m-64-12h0m-31-1h0m80-70h0m30-5h0m-134-13h0m8-23h0m42-20h0m-9-68h0m32-36h0m-64-2h0m75-52h0m-2-1h0m25-14h0m-26-12h0m13-3h0m-22-2h0m-17-6h0m-49-6h0m24-2h0m39-6h0m-64-14h0m101-10h0m-26-28h0m-18-17h0m-21-16h0m-21-1h0m29-15h0m0-2h0m-5-27h0m-27-22h0m-3-3h0m37-27h0m90-38h0m-24-22h0m24-2h0m-105-56h0m74-7h0m-45-6h0m46-3h0m18-21h0m-111-34h0m152-43h0m113 23h0m-73 42h0m68 15h0m-11 0h0m-106 9h0m109 52h0m13 53h0m-100 1h0m28 0h0m65 22h0m-26 1h0m-76 39h0m-21 9h0m51 83h0m-21 9h0m8 18h0m46 39h0m-92 36h0m30 3h0m3 5h0m0 8h0m5 7h0m68 109h0m-48 28h0m-10 17h0m100 40h0m-133 13h0m-14 35h0m-2 35h0m143 23h0m-54 10h0m-70 37h0m5 0h0m1 96h0m51 24h0m-33 8h0m60 75h0m-45 26h0m-32 27h0m-1 6h0m28 25h0m83 4h0m-73 6h0m3 25h0m2 8h0m-58 10h0m115 33h0m-106 20h0m-6 17h0m-5 3h0m72 20h0m67 0h0m-59 11h0m28 3h0m-12 4h0m40 172h0m5 63h0m-85 11h0m1 19h0m-65 27h0m12 15h0m13 54h0m-14 13h0m52 5h0m25 1h0m-58 34h0m99 10h0m1 20h0m-100 19h0m10 5h0m19 18h0m-13 2h0m-16 12h0m-21 57h0m96 1h0m-91 64h0m80 14h0m-61 5h0m-33 5h0m66 12h0m73 7h0m-139 4h0m0 5h0m12 10h0m54 30h0m18 19h0m-22 2h0m-9 12h0m69 4h0m-45 16h0m-66 1h0m120 8h0m-1 8h0m-93 6h0m51 0h0m-58 12h0m88 9h0m-63 5h0m-41 18h0m15 8h0m16 12h0m31 5h0m-3 9h0m-55 38h0m116 23h0m-131 16h0m95 7h0m-75 7h0m98 1h0m-108 11h0m54 4h0m-26 6h0m15 12h0m19 4h0m-11 3h0m10 2h0m-43 27h0m-26 2h0m35 9h0m70 5h0m-53 1h0m-9 2h0m-22 16h0m33 67h0m-57 28h0m71 4h0m10 17h0m66 10h0m-108 1h0m-9 20h0m15 0h0m-20 3h0m29 0h0m-56 30h0m41 15h0m-11 47h0m54 10h0m65 10h0m-63 12h0m26 29h0m-76 6h0m46 24h0m-68 4h0m47 19h0m-1 17h0m-9 126h0m23 34h0m-52 0h0m92 18h0m43-93h0m26-23h0m57-110h0m-42-4h0m42-89h0m-85-16h0m82-27h0m-83-15h0m25-25h0m21-3h0m-26-6h0m103-13h0m-49-50h0m54-17h0m-46-11h0m-60-8h0m117 0h0m-96-35h0m85-3h0m-103-4h0m51-12h0m-38-1h0m59-12h0m-34-3h0m35-1h0m-43-10h0m-18-41h0m64-7h0m-41-6h0m40-19h0m36-1h0m-47-2h0m53-8h0m-114-2h0m22-2h0m22-1h0m-66-50h0m11-15h0m43-46h0m-64-13h0m13-34h0m55-41h0m46-51h0m-88-16h0m-14-2h0m132-30h0m-123-62h0m106-1h0m-44-15h0m-34-58h0m-9-111h0m-38-22h0m17-28h0m90-19h0m-30-18h0m55-2h0m-101-8h0m111-42h0m-1-24h0m-84-17h0m66-15h0m-29-37h0m37-3h0m-100-66h0m7-20h0m22-13h0m61-83h0m-88-50h0m103-31h0m-90-29h0m96-9h0m-106-24h0m30-18h0m-2-31h0m21-21h0m-77-60h0m36-2h0m66-32h0m-6-25h0m-10-20h0m-74-12h0m12-12h0m-34 0h0m122-1h0m-90-40h0m45-50h0m18-31h0m-64-7h0m31-22h0m36-13h0m-49-2h0m10-72h0m57-8h0m-64-15h0m22-13h0m8-1h0m45-22h0m-56-126h0m75-23h0m-116-22h0m63-44h0m-61-49h0m85-26h0m-18-28h0m-89 0h0m95-54h0m-102-63h0m52-118h0m-9-111h0m-14-194h0m207-364h0m-87 51h0m59 9h0m45 1h0m-59 5h0m27 353h0m-43 85h0m76 38h0m-89 116h0m118 11h0m-126 13h0m45 8h0m76 15h0m-94 6h0m111 12h0m-38 2h0m-104 1h0m89 68h0m45 96h0m-40 7h0m-74 2h0m81 13h0m28 17h0m-131 30h0m66 15h0m-12 16h0m-12 14h0m-8 68h0m58 3h0m-51 36h0m-34 7h0m2 30h0m22 42h0m-25 31h0m-8 24h0m129 14h0m-92 54h0m-8 61h0m-9 44h0m41 10h0m79 0h0m-54 16h0m-2 3h0m-67 22h0m25 24h0m98 15h0m-109 90h0m52 1h0m-80 46h0m75 36h0m30 8h0m12 33h0m-22 7h0m-18 127h0m32 22h0m31 3h0m-102 68h0m60 1h0m-25 28h0m12 13h0m-38 23h0m-32 1h0m85 69h0m-19 93h0m-39 19h0m41 131h0m34 8h0m-101 38h0m99 31h0m-86 9h0m-21 46h0m119 8h0m-69 0h0m-44 24h0m51 22h0m-31 68h0m2 17h0m71 3h0m-34 4h0m37 20h0m-75 19h0m25 15h0m50 13h0m30 45h0m-106 33h0m-20 51h0m-13 29h0m37 12h0m-14 1h0m5 8h0m61 107h0m-30 69h0m71 17h0m-11 70h0m-47 31h0m-38 6h0m16 36h0m-56 29h0m43 16h0m-14 10h0m-13 105h0m171-202h0m-18-30h0m34-55h0m-12-7h0m71-41h0m-35-150h0m-14-22h0m83-88h0m-92-74h0m-4-11h0m53-28h0m-21-4h0m-57-21h0m92-22h0m-98-1h0m-18-85h0m86-32h0m60-37h0m-70-71h0m59-20h0m-75-18h0m86-48h0m-83-11h0m-55-57h0m63-67h0m61-82h0m-81-33h0m-42-42h0m53-15h0m83-75h0m-4-15h0m-52-20h0m47-1h0m-48-1h0m38-10h0m-97-77h0m79-14h0m-67-4h0m-26 0h0m112-3h0m-21-56h0m-51-13h0m-30-59h0m66-31h0m-48-12h0m19-30h0m-47-38h0m-15-171h0m99-24h0m-3-46h0m-70-3h0m119-6h0m-135-213h0m-2-108h0m103-43h0m-109-13h0m127-25h0m-18-71h0m-29-15h0m17-19h0m-80-14h0m-4-69h0m127-10h0m-88-38h0m-24-10h0m64-32h0m33-63h0m-72-21h0m0-207h0m28-168h0m44-155h0m-5-43h0m-40-236h0m197-393h0m-79 393h0m46 206h0m-67 56h0m-18 29h0m134 31h0m-60 3h0m44 115h0m-65 468h0m-6 143h0m-30 8h0m84 61h0m-60 12h0m-36 51h0m28 23h0m70 43h0m23 11h0m-107 2h0m2 16h0m63 114h0m9 30h0m-50 32h0m41 12h0m-72 5h0m93 8h0m-79 36h0m11 4h0m-49 1h0m116 36h0m27 9h0m-116 87h0m56 70h0m64 23h0m-143 8h0m99 88h0m-11 36h0m24 148h0m-101 14h0m85 23h0m7 19h0m-38 3h0m30 65h0m2 38h0m-60 43h0m-1 0h0m89 80h0m-47 47h0m41 53h0m9 138h0m-118 7h0m79 28h0m4 90h0m-58 48h0m30 44h0m-40 45h0m46 14h0m21 52h0m-31 60h0m23 22h0m-17 21h0m73 5h0m-8 39h0m-84 1h0m39 8h0m-43 35h0m95 52h0m-116 75h0m55 2h0m21 70h0m-46 22h0m204-113h0m-24-125h0m36-52h0m-90-14h0m59-86h0m7-44h0m-49-31h0m79-8h0m-50-116h0m-34-7h0m46-67h0m-22-9h0m-52-16h0m-14-5h0m29-26h0m58-47h0m43-7h0m-73 0h0m75-4h0m-94-89h0m73-1h0m0-82h0m-8-5h0m-63-3h0m-35-224h0m22-51h0m3-70h0m27-26h0m-47-129h0m135-69h0m-141-123h0m63-15h0m-48-29h0m26-52h0m1-16h0m-16 0h0m113-45h0m-43-74h0m21-35h0m-42-39h0m13-27h0m-93-6h0m6-11h0m78-102h0m37-19h0m24-13h0m-30-48h0m-100-82h0m1-386h0m67-71h0m71-1315h0m11 1901h0m7 265h0m-21 1006h0m24 15h0m100 153h0m-45 6h0m-25 40h0m1 5h0m-40 117h0m86 80h0m21 50h0m-33 63h0m-92 45h0m103 35h0m-102 70h0m172-37h0m121-51h0m-64-45h0m-8-1126h0m117 800h0m36 20h0m68 13h0m-89 70h0m-43 144h0m34 20h0m33 9h0m-58 17h0m60 124h0m117-20h0m87-35h0m-32-3h0m-55-17h0m57-121h0m0-23h0m-23-64h0m12-48h0m9-23h0m-41-9h0"/>
</g>
<path d="M118.8 572.5L253.6 437.7" clip-path="url(#cp0)" stroke="#000" stroke-width="9.2" stroke-dasharray="36 9 17 9" fill="none"/>
<path d="M253.6 437.7L741.3 -196.1" clip-path="url(#cp0)" stroke="#000" stroke-width="9.2" stroke-dasharray="36 9 17 9" fill="none"/>
<path d="M158.1 611.8L253.6 516.3" clip-path="url(#cp0)" stroke="#000" stroke-width="9.2" stroke-dasharray="36 9 17 9" fill="none"/>
<path d="M253.6 516.3L741.3 175" clip-path="url(#cp0)" stroke="#000" stroke-width="9.2" stroke-dasharray="36 9 17 9" stroke-dashoffset="-2.9" fill="none"/>
<text class="t" x="122.7" y="657.1" text-anchor="middle">0</text>
<text class="t" x="110.6" y="622.1" text-anchor="end">0</text>
<text class="t" x="319.1" y="657.1" text-anchor="middle">50</text>
<text class="t" x="110.6" y="425.7" text-anchor="end">50</text>
<text class="t" x="515.4" y="657.1" text-anchor="middle">100</text>
<text class="t" x="110.6" y="229.4" text-anchor="end">100</text>
<text class="t" x="711.8" y="657.1" text-anchor="middle">150</text>
<text class="t" x="110.6" y="33.1" text-anchor="end">150</text>
<text class="a" x="253.6" y="87.5" text-anchor="middle">2014/04/10</text>
<text class="a" x="253.6" y="133.1" text-anchor="middle">LTAN ~2 h</text>
</g>
<g id="panel2">
<clipPath id="cp1"><rect x="880" y="17.7" width="595.4" height="595.4"/></clipPath>
<path d="M888.5 18.9V611.9M881.2 604.6H1474.2M1034.9 18.9V611.9M881.2 458.2H1474.2M1181.4 18.9V611.9M881.2 311.7H1474.2M1327.8 18.9V611.9M881.2 165.3H1474.2M1474.2 18.9V611.9M881.2 18.9H1474.2" stroke="#dcdcdc" stroke-width="1.9" fill="none"/>
<rect x="881.2" y="18.9" width="593" height="593" fill="none" stroke="#0d0d0d" stroke-width="2.4"/>
<path d="M888.5 611.9v-6.5M888.5 18.9v6.5M881.2 604.6h6.5M1474.2 604.6h-6.5M1034.9 611.9v-6.5M1034.9 18.9v6.5M881.2 458.2h6.5M1474.2 458.2h-6.5M1181.4 611.9v-6.5M1181.4 18.9v6.5M881.2 311.7h6.5M1474.2 311.7h-6.5M1327.8 611.9v-6.5M1327.8 18.9v6.5M881.2 165.3h6.5M1474.2 165.3h-6.5M1474.2 611.9v-6.5M1474.2 18.9v6.5M881.2 18.9h6.5M1474.2 18.9h-6.5" stroke="#0d0d0d" stroke-width="2" fill="none"/>
<path d="M881.2 611.9L1474.2 18.9" stroke="#000" stroke-width="1.6" fill="none"/>
<g transform="scale(.1)">
<path class="d" stroke="#0000ff" d="M8920 5763h0m-38-8h0m16-9h0m34-1h0m-25-6h0m-18-4h0m58-6h0m-12 0h0m-5-3h0m38-8h0m0-3h0m-20-3h0m-12-5h0m-35-8h0m79 0h0m-76-11h0m36-4h0m20-2h0m-15-9h0m23-2h0m-52-2h0m-9-21h0m-14 0h0m100 0h0m-86-7h0m81-3h0m-113-10h0m85-1h0m-68-8h0m105-1h0m-15-3h0m-14-1h0m17-1h0m-74-1h0m-23-3h0m56-13h0m-5 0h0m-33-6h0m11-4h0m-11-8h0m-35 0h0m-4-21h0m104-5h0m-79-10h0m14-1h0m16-7h0m-10-11h0m-9-10h0m63-4h0m-94-1h0m40-5h0m-6-4h0m40-2h0m-23-1h0m5-2h0m26-21h0m5-2h0m-26-2h0m6-18h0m6-12h0m41-6h0m-21-4h0m-82-3h0m66-6h0m11-1h0m29-5h0m-65-25h0m3-2h0m71-3h0m-21-7h0m-17-36h0m8-2h0m-56-4h0m76-9h0m9 0h0m-58-11h0m47-5h0m-14-8h0m-22-1h0m33-18h0m-1-6h0m-31-4h0m3-8h0m-25-6h0m13-5h0m46-26h0m-17-8h0m6-15h0m-54-5h0m25 0h0m7-10h0m44-20h0m-11-55h0m-18-32h0m15-20h0m158-101h0m-53 31h0m52 0h0m-45 12h0m16 8h0m-86 8h0m48 7h0m71 3h0m-43 2h0m-35 2h0m50 2h0m-62 8h0m43 10h0m27 0h0m-42 4h0m18 1h0m-101 1h0m45 1h0m40 3h0m54 0h0m-38 2h0m-80 6h0m-20 0h0m27 6h0m35 1h0m22 18h0m43 12h0m18 1h0m-26 4h0m-33 2h0m5 5h0m-62 4h0m68 3h0m33 5h0m-47 9h0m53 0h0m-115 3h0m30 1h0m29 0h0m-27 5h0m-3 2h0m63 1h0m-10 9h0m-54 0h0m-4 1h0m78 0h0m-57 13h0m36 0h0m-56 9h0m64 6h0m-74 12h0m5 0h0m85 5h0m16 4h0m-80 2h0m-52 3h0m-4 4h0m50 0h0m48 4h0m-64 0h0m51 6h0m-84 10h0m40 2h0m21 4h0m-28 2h0m12 3h0m71 7h0m-91 0h0m111 3h0m-121 1h0m96 9h0m-85 5h0m100 6h0m-66 5h0m-25 3h0m-32 1h0m116 2h0m-97 2h0m73 1h0m19 0h0m19 3h0m-82 6h0m29 8h0m14 3h0m-60 1h0m15 0h0m64 4h0m-83 9h0m84 1h0m-39 5h0m45 5h0m-4 5h0m-6 3h0m-14 1h0m-73 18h0m41 1h0m-65 2h0m16 4h0m75 2h0m-53 10h0m10 15h0m58 12h0m-62 1h0m60 1h0m-16 17h0m-74 2h0m3 3h0m55 4h0m-34 5h0m-3 1h0m65 12h0m-17 1h0m31 2h0m-103 2h0m69 0h0m44 1h0m12 6h0m-4 0h0m7 9h0m-55 21h0m53 0h0m-26 13h0m-4 7h0m-90 17h0m90 5h0m-92 16h0m-20 12h0m28 20h0m-30 3h0m63 9h0m-52 21h0m11 64h0m2 0h0m172-251h0m-43-1h0m11-8h0m-10-2h0m37-16h0m24-4h0m-10-15h0m2-2h0m4-3h0m31-13h0m-27-5h0m-14-11h0m0-10h0m79-1h0m-75-2h0m-35-8h0m43-2h0m-49-6h0m14-2h0m98-11h0m4-1h0m-31-2h0m-34-7h0m-60 0h0m122-1h0m-66-1h0m9-8h0m56-2h0m18-1h0m-18-6h0m16-10h0m-30-1h0m11-11h0m3-14h0m-74-4h0m-13-3h0m-4-3h0m66-1h0m-85 0h0m64-8h0m59-22h0m-77-4h0m73-3h0m2-3h0m-59-3h0m38-5h0m0-1h0m-54-3h0m40-3h0m0-2h0m6-3h0m-105-5h0m89-14h0m-44-4h0m27 0h0m63-1h0m-97-2h0m-40-3h0m94-4h0m-69-7h0m27-2h0m-10-1h0m28-2h0m-26 0h0m99-2h0m-107-5h0m97-1h0m-26 0h0m-65-4h0m-38-6h0m90-15h0m-62-11h0m46-3h0m-26-2h0m-27 0h0m35 0h0m-44-1h0m73-2h0m-33-4h0m78-13h0m-62-4h0m31-3h0m-8-5h0m15-2h0m6-2h0m18-11h0m11-1h0m-124-7h0m107-1h0m-35-13h0m40-2h0m1-1h0m-31-9h0m-12-9h0m22-11h0m-50-3h0m58 0h0m-120-10h0m88-5h0m-68-1h0m75-2h0m-29-7h0m-37 0h0m-30-16h0m106-4h0m48 57h0m15 6h0m46 45h0m-35 8h0m-9 5h0m-9 8h0m-7 7h0m17 17h0m14 8h0m31 69h0m-25 92h0m-14 7h0m1 3h0m-24 5h0m15 2h0m-11 20h0m-10 66h0"/>
<path class="d" stroke="#00ff00" d="M8999 6058h0m-2-13h0m-8-102h0m7-21h0m139-391h0m-16 18h0m14 1h0m13 1h0m-48 0h0m42 4h0m9 10h0m-54 6h0m54 8h0m-18 3h0m-24 11h0m-2 3h0m-22 6h0m44 10h0m2 2h0m-30 5h0m-20 7h0m12 0h0m-24 17h0m6 6h0m-6 1h0m53 9h0m-1 2h0m-57 1h0m73 6h0m-16 2h0m14 1h0m5 1h0m-68 0h0m-18 1h0m90 7h0m-36 1h0m-49 12h0m81 1h0m8 1h0m-35 2h0m-12 1h0m33 1h0m-21 2h0m29 2h0m-39 2h0m46 2h0m-74 0h0m74 2h0m-65 0h0m-29 1h0m87 4h0m7 3h0m-54 3h0m51 0h0m-30 4h0m-2 1h0m-75 3h0m106 2h0m-44 3h0m-12 2h0m-36 2h0m93 3h0m-92 2h0m15 6h0m80 3h0m-70 1h0m17 2h0m8 1h0m-43 2h0m22 5h0m11 10h0m-11 2h0m-13 1h0m68 0h0m-35 1h0m-35 14h0m10 0h0m-33 4h0m35 3h0m-22 1h0m10 5h0m47 2h0m-82 5h0m41 6h0m-44 1h0m87 7h0m4 1h0m-10 2h0m20 3h0m-86 5h0m-37 2h0m18 1h0m94 9h0m-46 3h0m26 1h0m-43 1h0m-17 3h0m53 1h0m5 0h0m-78 6h0m128 0h0m-127 3h0m4 0h0m97 3h0m-11 1h0m-61 1h0m-14 1h0m21 2h0m16 1h0m34 3h0m-54 3h0m49 2h0m-100 2h0m121 0h0m-17 1h0m-84 1h0m9 4h0m73 1h0m22 5h0m-64 4h0m-20 1h0m2 0h0m17 6h0m31 7h0m12 1h0m44 3h0m-100 1h0m85 5h0m-120 3h0m24 9h0m26 0h0m-31 3h0m42 2h0m27 1h0m-29 2h0m11 1h0m65 0h0m-17 1h0m-34 7h0m-41 0h0m-30 2h0m95 1h0m-110 8h0m102 4h0m0 0h0m-55 0h0m-26 3h0m77 0h0m34 6h0m-5 2h0m-117 1h0m59 1h0m31 1h0m-3 5h0m0 3h0m-91 6h0m128 2h0m-93 13h0m79 3h0m-5 4h0m-105 11h0m26 1h0m42 1h0m-64 4h0m67 2h0m-85 5h0m21 8h0m-18 10h0m1 8h0m147-51h0m12-6h0m19-12h0m-24-7h0m-9 0h0m20-5h0m10-3h0m-8-2h0m109-2h0m-108-9h0m112-2h0m-22-2h0m-111-1h0m41 0h0m73-3h0m0 0h0m26-3h0m-70 0h0m-29-1h0m95-2h0m-65-1h0m53-11h0m-10 0h0m-14-3h0m-74-1h0m17-10h0m-41-12h0m10-2h0m12-21h0m-3-5h0m38-4h0m16 0h0m37-3h0m0-10h0m-83-1h0m107 0h0m-33-6h0m27 0h0m-80 0h0m19-2h0m-16-2h0m-17 0h0m-14-2h0m92-2h0m-59-3h0m26-1h0m6-4h0m-38-1h0m-17-1h0m39-3h0m-50-6h0m28-6h0m10-2h0m-8-7h0m26-1h0m20-7h0m-42-3h0m72-2h0m5-10h0m-53-5h0m14-3h0m-79-4h0m0-3h0m-13-1h0m69-1h0m21 0h0m-15-15h0m-23-2h0m25-1h0m15-2h0m-37-5h0m26 0h0m-70-2h0m108 0h0m-36-1h0m-23-3h0m-5-9h0m21-1h0m20-1h0m24 0h0m-119 0h0m13-4h0m21-3h0m14-4h0m92-2h0m-27-1h0m-30-1h0m23-3h0m-13-2h0m6-1h0m-49-1h0m20-1h0m16-2h0m49-1h0m-56-4h0m-64-2h0m95 0h0m-94-3h0m93-7h0m2-1h0m-8-1h0m-53-4h0m23-1h0m9-2h0m-9-1h0m46-1h0m-21-3h0m19 0h0m7-3h0m-113-2h0m-2-3h0m84-3h0m12-3h0m35-1h0m0 0h0m-24 0h0m-73-1h0m97-4h0m-84-7h0m56-2h0m-18-1h0m-88 0h0m18-1h0m110 0h0m-71-1h0m-29-2h0m26-4h0m-40-1h0m32-3h0m-36-1h0m101-3h0m-19-1h0m-49 0h0m-36-4h0m59-1h0m18-6h0m-38-4h0m60-8h0m-103-3h0m126-6h0m-63 0h0m39-5h0m-105-1h0m112 0h0m-115-3h0m29 0h0m94-1h0m-81-9h0m58-1h0m-24 0h0m-43-4h0m70-7h0m-86-11h0m-27-4h0m43 0h0m-42 0h0m38-5h0m61-1h0m46-2h0m-38-1h0m-77-3h0m-26-1h0m64-1h0m-56-3h0m52-4h0m45-2h0m-98-4h0m130-7h0m6-2h0m-66-4h0m-17-11h0m-30-5h0m37-1h0m-21-1h0m10-1h0m-29-1h0m-12-1h0m-10-1h0m73-5h0m-47-5h0m35 0h0m14-1h0m-19-1h0m57-11h0m24-2h0m-30-1h0m-72-2h0m58-2h0m-81 0h0m121 0h0m-81-2h0m72-12h0m-54-3h0m-9-1h0m36-3h0m-48 0h0m-3-5h0m-15-2h0m58-2h0m-29-8h0m-11-4h0m34-5h0m18-2h0m1-2h0m3-3h0m-17-1h0m-16-3h0m-49-6h0m77-6h0m38-11h0m-37-6h0m8-2h0m-21-1h0m-13-5h0m21-6h0m18-7h0m-12-12h0m23-1h0m-2-16h0m-22-2h0m-18-3h0m50-14h0m4-17h0m-6 0h0m104-138h0m-20 4h0m63 2h0m-35 12h0m-50 1h0m42 0h0m36 8h0m4 1h0m-96 1h0m14 2h0m-13 6h0m48 4h0m39 5h0m-23 5h0m-60 1h0m50 10h0m-31 6h0m81 6h0m-50 2h0m-53 3h0m92 1h0m-50 5h0m26 6h0m-15 8h0m-8 1h0m20 5h0m-70 1h0m86 2h0m-12 6h0m-25 1h0m-30 3h0m32 3h0m24 4h0m-36 8h0m41 1h0m-41 6h0m16 1h0m-40 1h0m-13 4h0m-29 1h0m58 9h0m-65 1h0m13 2h0m122 6h0m4 10h0m-103 12h0m-27 0h0m74 0h0m-45 3h0m97 5h0m-117 4h0m31 1h0m90 0h0m-61 1h0m-18 6h0m-44 2h0m80 0h0m-15 4h0m-8 3h0m-46 2h0m97 2h0m14 1h0m-16 3h0m-40 2h0m-70 5h0m131 8h0m-67 3h0m51 2h0m-57 0h0m-40 0h0m82 1h0m-26 9h0m-40 3h0m31 1h0m-5 4h0m37 4h0m-45 5h0m-42 2h0m57 2h0m61 1h0m-38 1h0m-75 0h0m-13 1h0m62 1h0m18 3h0m-24 1h0m-48 1h0m-7 2h0m43 1h0m-6 3h0m60 1h0m-79 3h0m68 1h0m-84 0h0m119 2h0m-7 0h0m-103 0h0m102 3h0m-24 2h0m-104 4h0m28 5h0m46 0h0m12 1h0m27 2h0m-70 0h0m-34 1h0m74 1h0m-43 4h0m86 1h0m-103 1h0m24 1h0m98 9h0m-76 1h0m-9 1h0m67 5h0m-127 16h0m39 1h0m19 3h0m60 1h0m-3 2h0m-57 0h0m69 3h0m-20 0h0m-36 0h0m-70 1h0m40 2h0m89 3h0m-4 1h0m-80 4h0m-3 0h0m42 0h0m-16 2h0m-41 4h0m110 7h0m-128 4h0m93 3h0m-106 1h0m64 6h0m76 3h0m-129 3h0m27 2h0m-29 0h0m32 1h0m45 1h0m61 1h0m-105 5h0m72 1h0m-34 5h0m52 2h0m-59 2h0m30 4h0m37 0h0m-127 0h0m24 0h0m19 2h0m43 1h0m17 2h0m-49 6h0m-32 4h0m46 5h0m-22 1h0m-10 0h0m1 4h0m63 7h0m-35 2h0m-60 1h0m122 3h0m-139 8h0m7 10h0m84 8h0m18 0h0m-58 4h0m-3 4h0m-45 1h0m107 0h0m-87 0h0m86 2h0m-1 6h0m-16 4h0m-89 3h0m70 1h0m16 0h0m-57 6h0m47 3h0m38 1h0m-38 0h0m-17 1h0m-62 0h0m107 0h0m-61 2h0m18 2h0m-2 12h0m28 6h0m-57 3h0m75 3h0m-64 4h0m-14 9h0m23 2h0m-22 0h0m26 3h0m-56 2h0m43 4h0m80 1h0m-7 2h0m-22 1h0m42 0h0m-5 1h0m-116 3h0m37 1h0m41 2h0m-37 2h0m87 1h0m-121 1h0m63 1h0m27 0h0m-17 1h0m-10 2h0m-52 2h0m6 8h0m-32 0h0m66 6h0m14 1h0m20 2h0m12 11h0m-14 1h0m39 1h0m-30 2h0m-58 0h0m13 1h0m55 1h0m14 3h0m-109 1h0m12 1h0m14 1h0m48 2h0m-4 0h0m29 3h0m-120 0h0m2 2h0m87 2h0m-1 3h0m-19 2h0m45 2h0m-50 1h0m-51 9h0m62 3h0m-47 2h0m-8 11h0m70 3h0m-50 7h0m22 0h0m35 4h0m-8 7h0m-77 14h0m23 4h0m-38 8h0m120 2h0m9 6h0m-9 5h0m-8 0h0m-15 2h0m-101 3h0m61 5h0m44 5h0m-97 1h0m30 0h0m58 1h0m0 5h0m-88 3h0m19 1h0m-14 6h0m117 0h0m-82 1h0m22 0h0m15 7h0m-65 3h0m65 15h0m-84 2h0m51 1h0m-36 14h0m3 6h0m39 6h0m-60 1h0m2 3h0m39 1h0m5 2h0m131-68h0m17-12h0m-28-9h0m-1-12h0m-9-14h0m-3-4h0m125-10h0m-64-2h0m-65-3h0m108-1h0m-11-5h0m-16 0h0m-15-9h0m3-1h0m-41-6h0m15-1h0m-38-9h0m115 0h0m-35-2h0m-21-2h0m29-3h0m-23 0h0m69-4h0m2 0h0m8-2h0m-84-2h0m-22-17h0m19-5h0m35-3h0m-73-4h0m15 0h0m71-2h0m-8-1h0m5-4h0m-8-2h0m-68-1h0m58-3h0m-57-10h0m-8 0h0m3-6h0m-27-3h0m52-3h0m16-2h0m-52-9h0m18-3h0m52-3h0m-41-5h0m41-1h0m25-6h0m-46-1h0m15-3h0m-70-10h0m82-3h0m-72 0h0m56-4h0m47 0h0m-19-6h0m-3-7h0m-100-5h0m39-1h0m14-1h0m43-2h0m34 0h0m-9 0h0m-121-7h0m130-7h0m2 0h0m-31-4h0m-92-10h0m108-3h0m17 0h0m-38-3h0m-43 0h0m86-11h0m-62-1h0m-22-1h0m-28-2h0m112-1h0m-22-2h0m-107-8h0m51-1h0m-28 0h0m54-3h0m-87-3h0m61 0h0m-36-3h0m43-2h0m-41-5h0m-11-2h0m62 0h0m51-7h0m-119-1h0m21-4h0m51-5h0m35-1h0m-96-5h0m127-3h0m-75 0h0m-8-3h0m57 0h0m-96-3h0m99-9h0m-78-4h0m-22 0h0m30-5h0m-41-4h0m-5-3h0m100-5h0m-110-1h0m119-6h0m27-8h0m-124 0h0m-16-2h0m36-1h0m66-3h0m-10-8h0m43-3h0m4-3h0m-47-1h0m-72-3h0m-4 0h0m124-1h0m-52 0h0m-51-1h0m82-4h0m-103-4h0m94-2h0m-26-6h0m-15-3h0m61-1h0m-52-2h0m43-5h0m1-2h0m-33-2h0m-17-1h0m-36-2h0m-3-6h0m-17-2h0m88-3h0m-28-2h0m-59-1h0m125-1h0m-112-1h0m15-7h0m-37-4h0m68 0h0m-51 0h0m74 0h0m-9-1h0m48-1h0m-47-6h0m-32-6h0m-18-1h0m41-1h0m5 0h0m-86-3h0m8 0h0m111 0h0m-84-2h0m32-3h0m-5-1h0m27-5h0m-96-3h0m119-3h0m5-7h0m-74-3h0m35-1h0m13-2h0m-98-1h0m107 0h0m-39-6h0m24-4h0m-87-3h0m118 0h0m-87 0h0m80-1h0m-99 0h0m78 0h0m-35-3h0m23-5h0m-73-2h0m64-2h0m12-2h0m3 0h0m-52-4h0m95 0h0m-102-3h0m61 0h0m-86 0h0m63-2h0m75-2h0m5-2h0m-5-3h0m-109-1h0m-29-8h0m36 0h0m-38 0h0m64-2h0m-7-1h0m72-4h0m-51-1h0m50-9h0m-102-1h0m77-14h0m-64 0h0m7-2h0m80-3h0m-14-1h0m-32-1h0m46-1h0m-74-1h0m56-3h0m-24-1h0m-17-1h0m-44-8h0m26-1h0m72-1h0m-12-7h0m-101 0h0m86-2h0m12 0h0m20-3h0m-88-5h0m74-2h0m-77 0h0m35-5h0m7-1h0m4-4h0m-16-6h0m49-9h0m-2-3h0m-34 0h0m-73-2h0m53-2h0m48 0h0m-96-10h0m89-1h0m-46-4h0m-53-6h0m-3-9h0m3-2h0m23-4h0m51-2h0m6-4h0m-9-1h0m-48 0h0m107-5h0m-70-1h0m-27-1h0m9-1h0m12-2h0m41-16h0m-46-10h0m23-1h0m-13-16h0m-28-9h0m48-5h0m-3-1h0m8-1h0m-25 0h0m26-3h0m50-2h0m-79 0h0m12-3h0m1-8h0m-2 0h0m12-1h0m17-14h0m6-8h0m-7-5h0m0-12h0m9-5h0m-6 0h0m5-1h0m-5 0h0m-1-4h0m-1 0h0m5-5h0m10-2h0m10-5h0m-6-4h0m-13-2h0m19-3h0m-1-4h0m17-5h0m-12-21h0m2-2h0m17-3h0m-9 0h0m-8-5h0m17-1h0m44-73h0m13 12h0m-3 6h0m-8 7h0m0 3h0m-18 6h0m-24 9h0m17 2h0m-2 1h0m-3 2h0m-9 2h0m3 9h0m1 5h0m49 117h0m64 19h0m23 1h0m-19 8h0m-110 0h0m64 7h0m-69 0h0m6 0h0m-6 2h0m108 4h0m-10 1h0m-54 1h0m92 0h0m-52 11h0m-19 4h0m49 11h0m-33 1h0m-35 4h0m19 0h0m59 5h0m-100 11h0m17 5h0m-48 0h0m123 2h0m-59 4h0m49 3h0m-10 5h0m35 1h0m-113 1h0m58 2h0m-2 3h0m-52 1h0m88 1h0m-50 4h0m-13 1h0m-26 2h0m71 2h0m-56 12h0m100 3h0m-16 7h0m-73 0h0m3 1h0m-15 4h0m97 0h0m-37 9h0m24 0h0m-80 2h0m72 2h0m8 1h0m-78 1h0m83 2h0m-107 7h0m54 1h0m-62 2h0m25 3h0m-17 9h0m54 0h0m-13 2h0m73 0h0m-48 4h0m33 2h0m7 3h0m-2 5h0m-13 9h0m3 1h0m-100 1h0m55 0h0m54 3h0m-109 6h0m88 5h0m-5 7h0m26 1h0m9 3h0m-116 4h0m94 3h0m6 5h0m-52 1h0m0 2h0m58 1h0m-34 0h0m-71 4h0m111 11h0m-118 2h0m16 1h0m-5 0h0m14 2h0m-3 2h0m-34 0h0m84 5h0m-71 0h0m96 1h0m-57 10h0m-51 2h0m47 0h0m-4 5h0m-24 0h0m61 3h0m-46 1h0m37 0h0m46 2h0m-82 0h0m52 2h0m40 2h0m-62 8h0m-45 0h0m2 2h0m30 3h0m43 0h0m35 1h0m-123 4h0m10 1h0m44 2h0m-22 7h0m-18 1h0m96 8h0m-31 0h0m-82 1h0m30 1h0m84 1h0m-24 1h0m46 3h0m-111 1h0m23 12h0m7 4h0m-4 4h0m60 2h0m-105 3h0m10 2h0m78 6h0m-45 2h0m-2 0h0m90 7h0m-144 1h0m59 1h0m1 1h0m-56 6h0m70 8h0m-44 2h0m113 3h0m-50 1h0m9 4h0m16 3h0m13 2h0m-134 2h0m69 3h0m-21 3h0m-34 1h0m69 2h0m-76 5h0m138 6h0m-59 2h0m48 5h0m-92 0h0m42 3h0m38 0h0m-88 1h0m59 2h0m-54 2h0m-14 2h0m86 8h0m-71 13h0m22 11h0m26 1h0m61 0h0m-40 1h0m-38 0h0m-42 2h0m79 0h0m-73 1h0m0 4h0m5 1h0m25 1h0m4 1h0m26 6h0m-61 3h0m49 3h0m-35 5h0m30 1h0m-17 4h0m-44 7h0m6 0h0m109 0h0m6 3h0m-99 3h0m77 1h0m-24 1h0m39 0h0m-55 0h0m67 9h0m-110 1h0m87 3h0m-17 4h0m-96 0h0m111 0h0m-109 3h0m50 4h0m60 2h0m9 6h0m-10 2h0m6 1h0m-115 8h0m61 13h0m47 1h0m15 6h0m-7 2h0m-42 9h0m-55 3h0m59 4h0m-51 0h0m0 0h0m-13 4h0m16 1h0m52 6h0m-61 3h0m-5 1h0m112 5h0m-41 6h0m-40 3h0m-4 0h0m14 4h0m-63 1h0m19 17h0m62 13h0m53 1h0m-103 1h0m10 5h0m74 10h0m-56 2h0m-18 0h0m26 10h0m-63 4h0m160-38h0m21-21h0m-23-6h0m0-4h0m-7-6h0m95-6h0m-76-1h0m69-1h0m-45 0h0m8-3h0m54 0h0m-63 0h0m23-5h0m19-9h0m-87-1h0m15-8h0m95 0h0m-43 0h0m-63 0h0m42-7h0m-51-1h0m101-4h0m-87-3h0m-8-10h0m5 0h0m4-2h0m108-8h0m-55 0h0m-14-2h0m19-1h0m21-2h0m-45-1h0m-45-5h0m78-1h0m-13-1h0m-48-7h0m-19-4h0m29-2h0m24-1h0m55-3h0m-59-1h0m-9-10h0m35-1h0m-52-5h0m22-5h0m49-8h0m-95-3h0m120 0h0m-26-1h0m-75-2h0m13-4h0m-6-2h0m74 0h0m-50-5h0m-9-4h0m68-1h0m-54 0h0m-15-2h0m22-13h0m13-28h0m-5-3h0m-24-2h0m-5-2h0m64-1h0m-64-1h0m79-3h0m-87-5h0m-21-1h0m-1-9h0m43-4h0m-43-9h0m126-1h0m-62-9h0m17-1h0m44-5h0m-130-3h0m82-1h0m-84-1h0m111-7h0m-36-8h0m20-3h0m-35-8h0m66-2h0m16-1h0m-65-1h0m46-1h0m-61-4h0m-18-1h0m58-7h0m-87-1h0m80-3h0m-84-5h0m14 0h0m84-3h0m22-2h0m-36-2h0m33-1h0m-108-8h0m7-1h0m64-2h0m-58-2h0m70-15h0m-10-1h0m-3 0h0m-29 0h0m-21-1h0m72-1h0m-1-5h0m-33-2h0m64 0h0m-64-1h0m-2-4h0m-14 0h0m67-2h0m-130-1h0m33-1h0m-26-1h0m24-1h0m98-3h0m-126-3h0m19-4h0m42-5h0m-55-2h0m100-2h0m-86-3h0m64-1h0m-58-3h0m-13-4h0m2-1h0m-22-7h0m113-3h0m-17 0h0m-76-6h0m82-3h0m-57-12h0m24 0h0m-16-4h0m41-1h0m-65-3h0m120-14h0m-139-1h0m27 0h0m-18-1h0m58-2h0m16-5h0m-40-2h0m-21 0h0m-5-8h0m107-1h0m-13-8h0m-51-2h0m12-9h0m-25-1h0m80-1h0m-37-4h0m-17-6h0m-43-8h0m94-1h0m-32-3h0m-44-3h0m72-7h0m-123-4h0m131-2h0m-38 0h0m15-5h0m-78-1h0m22-5h0m66-3h0m-10-5h0m-103-4h0m82 0h0m43 0h0m-135-5h0m54-11h0m-34-1h0m5-2h0m107-1h0m-73-1h0m-59-2h0m135 0h0m2 0h0m-134-5h0m21-2h0m78-5h0m-90-3h0m-6-9h0m119 0h0m-29-1h0m-52 0h0m-36-2h0m2-4h0m51-1h0m-15-6h0m65-1h0m9-1h0m0 0h0m-39-2h0m6-1h0m55-2h0m-108-8h0m-13 0h0m25-7h0m49-2h0m30-7h0m-66-18h0m-28-3h0m195-11h0m60 15h0m-106 15h0m104 4h0m9 3h0m-88 2h0m4 0h0m-46 3h0m124 2h0m-33 11h0m29 11h0m-77 1h0m-34 4h0m108 6h0m0 5h0m-5 1h0m-24 9h0m-45 0h0m-52 12h0m9 2h0m111 2h0m-83 7h0m104 2h0m-42 10h0m-15 3h0m-2 9h0m-36 7h0m62 4h0m-113 1h0m32 4h0m-7 1h0m65 2h0m12 2h0m34 3h0m-78 1h0m-51 0h0m24 6h0m86 1h0m-111 1h0m20 1h0m64 4h0m-9 0h0m-20 4h0m46 1h0m-24 1h0m-66 3h0m98 1h0m-44 3h0m41 2h0m15 8h0m-30 1h0m-28 1h0m-61 1h0m68 10h0m-20 0h0m-46 2h0m2 3h0m6 5h0m20 3h0m98 4h0m-115 7h0m28 0h0m84 1h0m7 5h0m6 0h0m-15 1h0m-14 1h0m-97 4h0m10 4h0m-4 6h0m93 3h0m-67 7h0m41 1h0m-56 0h0m17 14h0m-53 0h0m67 10h0m59 1h0m-25 4h0m-12 6h0m-52 2h0m78 3h0m-57 1h0m55 1h0m-45 1h0m-44 5h0m123 1h0m-105 1h0m26 1h0m-6 6h0m54 3h0m6 7h0m19 2h0m-9 0h0m-26 2h0m-95 0h0m104 1h0m-59 2h0m27 2h0m-2 5h0m34 1h0m-70 1h0m8 1h0m71 6h0m-126 1h0m111 3h0m-11 2h0m7 2h0m17 9h0m4 5h0m-35 4h0m22 2h0m-47 0h0m-46 1h0m16 7h0m26 1h0m-60 1h0m43 8h0m-33 0h0m34 1h0m-6 1h0m-2 1h0m44 10h0m-72 1h0m77 9h0m49 2h0m-68 1h0m-62 3h0m96 0h0m43 0h0m-111 1h0m-14 4h0m37 5h0m-33 0h0m97 1h0m-83 2h0m-4 4h0m-9 4h0m89 1h0m-21 2h0m-8 1h0m-74 4h0m120 1h0m-125 2h0m4 1h0m57 3h0m-25 5h0m90 0h0m-26 3h0m-108 1h0m122 12h0m-28 6h0m-79 12h0m-1 3h0m60 7h0m-55 6h0m62 0h0m-57 4h0m1 28h0m-10 10h0m52 3h0m-33 2h0m-26 0h0m10 7h0m47 1h0m-62 5h0m35 11h0m-30 13h0m14 0h0m-4 7h0m113 5h0m-66 11h0m47 1h0m51-29h0m39-9h0m1-4h0m2-1h0m-49-4h0m86-4h0m35-2h0m-83 0h0m60-20h0m-74-5h0m82-15h0m15-5h0m-112-8h0m77-3h0m-41 0h0m-16-3h0m3-5h0m14-2h0m39-1h0m-63 0h0m-6-14h0m119-21h0m-105-2h0m-19-1h0m6-27h0m6-3h0m-6-3h0m-2-1h0m28-5h0m12-3h0m36-1h0m-93-3h0m87-1h0m-79-1h0m29-8h0m55-2h0m25-9h0m-19-1h0m-48 0h0m62-2h0m-56-2h0m62-5h0m-85-5h0m-12 0h0m46-5h0m51-9h0m26-1h0m-37-4h0m-3-5h0m-62-5h0m70-6h0m-107-6h0m28-1h0m-12-5h0m59 0h0m48 0h0m-76-1h0m-4-4h0m29 0h0m-43-2h0m1-8h0m14-6h0m-27-16h0m0 0h0m79-2h0m-65-9h0m4-3h0m6-1h0m16-2h0m-29-1h0m94 0h0m-10-1h0m-5-6h0m-95 0h0m99 0h0m12-1h0m-115-1h0m47-2h0m6-4h0m-69-2h0m35 0h0m58-12h0m-75 0h0m59-4h0m66-5h0m-71-2h0m18-4h0m-30-8h0m74-1h0m-6 0h0m-88-3h0m66 0h0m30-10h0m-126-7h0m74-1h0m-1-4h0m43-5h0m-30-6h0m-53-6h0m2-9h0m2-1h0m23-5h0m38-3h0m-106-16h0m116-13h0m23-1h0m-35-7h0m21-4h0m2-2h0m-36-1h0m-22-1h0m-11-7h0m25-3h0m28-1h0m-36-2h0m-56-4h0m-1-2h0m-12 0h0m18-3h0m36-5h0m-39-5h0m-22-7h0m68 0h0m-54-16h0m85-6h0m-27 0h0m74-6h0m-137-11h0m42-12h0m50-8h0m24-4h0m-126-2h0m24-2h0m114-3h0m-28-1h0m-83-8h0m67-3h0m43-4h0m-70-2h0m-3-1h0m31-2h0m-93-1h0m133-4h0m-87-6h0m100-13h0m-16-5h0m160-33h0m-50 1h0m3 1h0m8 4h0m-10 7h0m29 10h0m-69 7h0m54 3h0m-55 4h0m-35 3h0m16 2h0m66 1h0m-87 12h0m-4 13h0m116 12h0m-125 1h0m29 2h0m88 1h0m-14 4h0m-99 3h0m57 9h0m-44 4h0m9 2h0m-18 2h0m133 1h0m-9 0h0m-27 13h0m-73 4h0m78 3h0m-62 3h0m94 4h0m-81 2h0m87 11h0m-103 11h0m36 0h0m24 0h0m-29 3h0m-15 5h0m54 6h0m-5 0h0m-48 10h0m83 21h0m-53 8h0m13 4h0m34 3h0m-50 1h0m-86 8h0m92 5h0m21 8h0m-101 7h0m68 1h0m-60 12h0m89 1h0m-55 13h0m-1 3h0m-16 6h0m-19 2h0m122 8h0m-115 10h0m24 10h0m81 7h0m-40 3h0m55 11h0m-30 16h0m-62 2h0m14 4h0m-27 2h0m-8 5h0m-22 0h0m117 9h0m-78 4h0m-50 2h0m95 1h0m-25 6h0m-35 10h0m61 6h0m46 13h0m-121 5h0m-9 1h0m120 3h0m-101 9h0m8 12h0m64 1h0m-41 1h0m60 1h0m-86 7h0m28 11h0m-19 4h0m-10 12h0m63 24h0m48 3h0m-126 5h0m6 1h0m42 7h0m48 4h0m-69 5h0m-40 6h0m132 0h0m-77 6h0m54 3h0m-75 1h0m-4 3h0m69 0h0m31 4h0m-40 18h0m15 15h0m-17 9h0m-49 2h0m-46 39h0m186-46h0m29-19h0m-9-25h0m43-4h0m-2-14h0m-46-7h0m-17-6h0m21-4h0m-14-6h0m-4-2h0m83-2h0m-26-3h0m-91-1h0m58-10h0m-26 0h0m87-20h0m-29-13h0m-69-5h0m-3-14h0m64-4h0m-70 0h0m95 0h0m-29-1h0m28-6h0m-54 0h0m14-9h0m-2-2h0m52-2h0m-36-3h0m-47-4h0m-25-5h0m43-3h0m44-6h0m-53-1h0m5-11h0m-50-9h0m2-11h0m116 0h0m-83-23h0m21-6h0m64-23h0m-22-15h0m-44-1h0m-44-4h0m114-9h0m17-10h0m-68 0h0m-59-18h0m26-11h0m-27-1h0m130-10h0m-31-1h0m-75-1h0m8-2h0m24-2h0m-4-5h0m66-7h0m-17-7h0m-70 0h0m-21-17h0m84-7h0m-19-9h0m12-13h0m-15 0h0m62-4h0m-74 0h0m43-7h0m-75-6h0m30-4h0m22 0h0m-5-4h0m-45-2h0m-20-2h0m121-5h0m-128 0h0m129-2h0m-86-12h0m-10-6h0m-19-19h0m21-4h0m79-6h0m-121-5h0m122-4h0m0-8h0m-63-2h0m-38-17h0m13-2h0m40-4h0m55-4h0m-50-3h0m-61-8h0m96-41h0m71 19h0m34 1h0m-18 8h0m-38 10h0m-19 9h0m5 25h0m102 1h0m-79 8h0m-14 5h0m-17 15h0m111 4h0m24 2h0m-103 0h0m31 2h0m-62 4h0m95 1h0m-70 5h0m56 20h0m35 4h0m-35 11h0m-81 2h0m44 2h0m-20 6h0m-11 2h0m23 0h0m21 2h0m-43 3h0m22 13h0m86 3h0m-95 14h0m1 6h0m19 7h0m-24 21h0m106 8h0m6 1h0m-37 1h0m9 4h0m13 2h0m-47 2h0m-29 5h0m-20 7h0m112 4h0m-64 21h0m-42 6h0m-18 2h0m121 0h0m-84 7h0m-49 1h0m89 6h0m-92 9h0m101 1h0m-51 4h0m81 1h0m-119 0h0m72 11h0m64 3h0m-120 2h0m80 20h0m5 0h0m-96 38h0m96 9h0m12 1h0m-15 3h0m-53 1h0m-56 1h0m100 4h0m-97 17h0m84 18h0m-86 1h0m99 5h0m-41 13h0m28 26h0m-40 0h0m-41 23h0m87 10h0m35 17h0m-55 3h0m98-7h0m-17-59h0m138-40h0m-141-2h0m51-22h0m-22-22h0m85-2h0m-7-10h0m-35-22h0m55-11h0m-91-22h0m-34-7h0m58-16h0m-43-4h0m-11-8h0m66-49h0m-23-19h0m13-17h0m57-9h0m-75-27h0m-38-14h0m2-9h0m0 0h0m18-16h0m-9-28h0m50-9h0m67-12h0m-55-49h0"/>
<path class="d" stroke="#00ffff" d="M8990 6092h0m-38-4h0m26-2h0m-22-6h0m-1-1h0m-43-6h0m21-4h0m20-3h0m7-7h0m-42-3h0m10-4h0m13-9h0m21 0h0m-34 0h0m-19-1h0m53-1h0m-52-1h0m-14-4h0m83-2h0m-56 0h0m-16-5h0m26-2h0m15-3h0m-32-2h0m56 0h0m-32-4h0m-7-2h0m66-3h0m-76-9h0m15-7h0m10-1h0m-15 0h0m58-2h0m-19-8h0m-24-4h0m-13-3h0m-4-4h0m16 0h0m-4-7h0m-3 0h0m58-6h0m-78-2h0m21-1h0m-7-1h0m-13-1h0m7-1h0m36-1h0m-46-2h0m-6-1h0m20-1h0m5-1h0m-11-1h0m-17-6h0m46-1h0m44-1h0m-74-2h0m53-2h0m-45-9h0m50-2h0m-44-2h0m3-8h0m27-6h0m-55-7h0m60-3h0m-9 0h0m27-3h0m-17-1h0m2 0h0m7-15h0m-58-5h0m23-2h0m-19-10h0m-6-2h0m3-1h0m37-5h0m7-2h0m3-1h0m19-5h0m-69 0h0m11-1h0m47-1h0m-9 0h0m-21-1h0m-24-2h0m14-2h0m-9-9h0m1-2h0m57-5h0m-12-3h0m-42-8h0m-16-3h0m46 0h0m21-1h0m-30-2h0m23-8h0m-47-4h0m-10-8h0m0 0h0m2-5h0m54-4h0m-41-4h0m42-6h0m-58-2h0m28-2h0m3-3h0m9-1h0m-10-12h0m26-4h0m0-4h0m6 0h0m-7-12h0m-23-10h0m42-5h0m-11-7h0m-40-4h0m26-2h0m12-2h0m-43-3h0m55-10h0m-43-2h0m-24-7h0m52-3h0m-25-4h0m-15-4h0m-11-5h0m30-1h0m9-5h0m-10-5h0m3-3h0m5-10h0m0-3h0m8-1h0m-4-3h0m-10-1h0m3-1h0m28-1h0m-22 0h0m-17-4h0m20-4h0m-10-3h0m-1 0h0m27 0h0m-42-2h0m43-6h0m-24-2h0m-20-13h0m12 0h0m37-2h0m-4-4h0m-20-3h0m18-13h0m-8-9h0m7 0h0m-10-4h0m5-9h0m-11-5h0m3-11h0m6-6h0m9-6h0m2-5h0m-40-2h0m29-13h0m-10-14h0m10-14h0m18-9h0m-13-7h0m9-1h0m-18-12h0m2-4h0m14-5h0m-30-24h0m25-9h0m3-1h0m-8-2h0m2-15h0m11-25h0m128-118h0m-29 6h0m10 0h0m-5 5h0m-17 4h0m16 3h0m-1 10h0m12 1h0m-17 1h0m-65 5h0m45 2h0m38 1h0m18 0h0m-36 3h0m-5 1h0m-3 1h0m42 7h0m-71 1h0m-9 0h0m65 2h0m-64 2h0m30 3h0m19 2h0m-54 4h0m95 1h0m-50 2h0m20 1h0m19 5h0m-63 0h0m-10 2h0m9 0h0m-43 7h0m87 5h0m-61 1h0m46 1h0m26 3h0m-45 0h0m74 3h0m-114 3h0m6 1h0m105 6h0m-76 2h0m34 4h0m27 1h0m-31 4h0m-93 1h0m53 2h0m45 1h0m-50 0h0m76 1h0m-89 2h0m34 1h0m-23 5h0m58 1h0m-10 6h0m1 0h0m-86 4h0m60 2h0m0 0h0m74 2h0m-80 2h0m8 3h0m61 6h0m-43 3h0m-37 1h0m81 5h0m-19 2h0m20 2h0m-62 2h0m-36 3h0m105 1h0m-130 2h0m126 1h0m-105 0h0m85 2h0m17 0h0m-112 4h0m105 2h0m13 0h0m-117 3h0m97 1h0m-11 2h0m31 3h0m-144 1h0m47 10h0m77 4h0m-107 3h0m9 1h0m0 2h0m27 11h0m70 2h0m15 1h0m-125 1h0m2 2h0m8 1h0m7 0h0m82 4h0m-47 1h0m2 3h0m56 4h0m-105 5h0m71 1h0m46 0h0m-88 0h0m52 0h0m-42 1h0m40 2h0m-37 1h0m51 2h0m-9 1h0m-63 3h0m-5 9h0m108 2h0m-52 3h0m-18 3h0m33 2h0m-34 10h0m26 2h0m-4 2h0m-69 2h0m47 1h0m-26 2h0m-7 0h0m72 1h0m10 0h0m-24 4h0m-83 2h0m34 7h0m-17 3h0m1 1h0m-16 3h0m35 3h0m3 2h0m25 2h0m14 8h0m-35 0h0m34 2h0m-30 2h0m-41 1h0m103 3h0m-56 3h0m-7 3h0m-60 7h0m37 1h0m52 1h0m-40 1h0m31 0h0m-70 3h0m88 3h0m-83 4h0m63 2h0m-66 0h0m38 1h0m-24 3h0m27 5h0m53 3h0m-103 1h0m65 0h0m-57 3h0m85 24h0m-35 6h0m-42 13h0m26 8h0m53 1h0m-55 1h0m-34 7h0m-9 4h0m7 1h0m57 1h0m-18 11h0m-42 8h0m3 0h0m12 5h0m60 2h0m3 2h0m-47 9h0m-18 1h0m65 8h0m-11 1h0m-47 3h0m4 2h0m-23 16h0m26 7h0m-28 21h0m30 6h0m42 0h0m-24 2h0m31 5h0m-2 8h0m-42 4h0m43 17h0m-43 1h0m-2 2h0m1 1h0m14 19h0m-43 10h0m44 8h0m-33 9h0m53 17h0m-11 4h0m-18 6h0m6 2h0m-47 0h0m12 16h0m18 2h0m7 4h0m11 4h0m-40 0h0m26 2h0m-29 2h0m29 12h0m11 5h0m-8 4h0m-39 2h0m53 1h0m-18 6h0m8 8h0m9 4h0m-20 0h0m7 13h0m-37 0h0m43 1h0m-19 1h0m29 8h0m-40 4h0m-6 5h0m39 17h0m-27 0h0m-10 6h0m3 8h0m-10 5h0m3 19h0m6 1h0m-12 26h0m149-546h0m0-46h0m0-18h0m8-129h0m-8-2h0m23-9h0m-3-36h0m-10-4h0m-8-9h0m4-10h0"/>
<path class="d" stroke="#ff0000" d="M9523 5355h0m-59-35h0m127-61h0m136-129h0m-1 113h0m-28 4h0m-6 10h0m19 19h0m19 12h0m6 3h0m-75 15h0m46 6h0m-59 49h0m93 0h0m-61 92h0m55 45h0m12 35h0m0 36h0m-9 145h0m145 25h0m-36-18h0m51-1h0m-5-40h0m-11-8h0m-49-7h0m-72-17h0m101-20h0m-45-6h0m44-5h0m-98-3h0m26-24h0m108-4h0m-64-33h0m46-14h0m-123-21h0m100-7h0m-74-2h0m110-6h0m5-4h0m-3-2h0m-123-40h0m9-15h0m85-74h0m-61-3h0m75-8h0m-31-4h0m-19-4h0m-13-37h0m-6-11h0m89-21h0m-136-9h0m49-46h0m14-8h0m41-10h0m-58 0h0m69-3h0m-76-9h0m26-38h0m59-38h0m-8-2h0m-35-58h0m39-4h0m-33-52h0m0-104h0m2-18h0m38-165h0m153-96h0m-111 46h0m56 33h0m-67 47h0m88 32h0m11 23h0m22 7h0m-9 46h0m-117 24h0m2 38h0m85 6h0m-32 34h0m-53 2h0m40 14h0m-47 8h0m110 3h0m-102 0h0m69 14h0m37 7h0m-50 2h0m15 7h0m36 1h0m-51 21h0m-67 7h0m17 3h0m79 14h0m32 1h0m-70 2h0m-20 19h0m12 13h0m13 7h0m-51 1h0m27 28h0m10 29h0m-4 44h0m24 12h0m-10 5h0m37 4h0m9 2h0m32 12h0m-71 7h0m33 20h0m42 1h0m-121 13h0m22 6h0m81 19h0m-43 27h0m6 5h0m50 13h0m-41 16h0m29 35h0m-98 15h0m4 16h0m20 19h0m0 10h0m60 23h0m-66 0h0m62 7h0m-4 3h0m-105 1h0m-3 16h0m64 12h0m72 9h0m-90 21h0m83 8h0m-75 17h0m-2 16h0m60 1h0m32 1h0m-93 2h0m20 6h0m26 4h0m-48 8h0m5 1h0m-8 8h0m-20 39h0m2 6h0m29 1h0m3 5h0m-58 3h0m89 4h0m52 1h0m-132 28h0m68 3h0m89 4h0m3-10h0m47-16h0m40-14h0m-65-2h0m6-9h0m-49-1h0m104-3h0m-17-1h0m-65-4h0m13-7h0m-1-14h0m35-1h0m-69-4h0m115-4h0m14-5h0m-33-7h0m-48-28h0m50-22h0m-57-8h0m-8-2h0m59-30h0m-76-54h0m-1-2h0m73-14h0m-6-13h0m-61-23h0m55-3h0m-49-13h0m-17-15h0m89-3h0m24-20h0m13-41h0m-58-8h0m36 0h0m-10 0h0m-45-8h0m-25-44h0m73-1h0m-71-17h0m-24-22h0m6-2h0m118-3h0m9-4h0m-138-1h0m126 0h0m-80-6h0m29-8h0m-10-13h0m31-5h0m-72-9h0m108-4h0m-14-7h0m-94-8h0m103-1h0m-49-2h0m-51-5h0m82-17h0m18-37h0m-83-14h0m12-17h0m37-19h0m-11-21h0m-50-5h0m23-1h0m4-16h0m61-6h0m18-17h0m-145-12h0m110-31h0m21-4h0m-65-31h0m13-5h0m66-15h0m-98-11h0m74-7h0m-4-13h0m-48-12h0m44-11h0m-47-21h0m48-1h0m-92-3h0m37-7h0m41-17h0m-21-5h0m30-6h0m-88-5h0m107-15h0m-68-7h0m41-17h0m39-5h0m-11-20h0m-103-84h0m37-9h0m-50-17h0m25-98h0m77-76h0m-80-30h0m8-73h0m71-42h0m170-119h0m-79 50h0m-13 8h0m85 32h0m-21 107h0m26 34h0m-65 13h0m-35 22h0m66 10h0m-92 6h0m56 65h0m59 14h0m-85 17h0m39 9h0m30 21h0m-57 47h0m47 16h0m-11 10h0m4 62h0m13 8h0m-4 28h0m-56 17h0m5 4h0m-21 5h0m109 7h0m-119 0h0m124 5h0m-37 6h0m-84 11h0m33 17h0m-45 10h0m92 12h0m8 19h0m3 9h0m-8 2h0m-3 14h0m30 3h0m-84 34h0m-20 4h0m70 19h0m-41 5h0m-16 8h0m24 20h0m28 26h0m-44 3h0m-7 22h0m97 8h0m-46 0h0m17 4h0m-70 5h0m47 5h0m-15 12h0m40 3h0m-107 28h0m1 5h0m54 4h0m-54 18h0m62 11h0m13 1h0m22 3h0m-32 21h0m18 1h0m-5 4h0m-56 12h0m-16 1h0m130 3h0m-79 25h0m9 5h0m-61 4h0m22 16h0m-20 5h0m2 24h0m100 2h0m-29 6h0m-9 0h0m74 3h0m-4 9h0m-26 26h0m-9 29h0m-43 11h0m-55 5h0m23 15h0m78 1h0m-68 11h0m51 8h0m-3 10h0m53 0h0m-106 7h0m55 21h0m-87 17h0m7 39h0m65 5h0m-77 3h0m65 8h0m27 0h0m26 12h0m-16 2h0m2 38h0m-68 2h0m5 4h0m88 4h0m-104 11h0m-15 2h0m9 20h0m16 9h0m-28 4h0m18 11h0m10 20h0m56 20h0m-74 10h0m145 10h0m26-21h0m98-23h0m-131-18h0m97-55h0m-28-18h0m8-5h0m-16-56h0m13-14h0m-63-18h0m124-3h0m-3-11h0m-39-2h0m-90 0h0m136-6h0m-119-5h0m88-2h0m-38-1h0m67-12h0m-64-3h0m-1 0h0m-41-29h0m94-1h0m-106-1h0m5-1h0m42-6h0m59-10h0m-27-10h0m-6-18h0m12-4h0m-17-1h0m15-18h0m26-4h0m-85-1h0m71 0h0m-94-17h0m1-28h0m103-9h0m-71-1h0m30-20h0m-66-10h0m108-9h0m-78 0h0m30-5h0m11-6h0m-86 0h0m47 0h0m16-6h0m-4-13h0m-68-8h0m118-8h0m28-13h0m-109-21h0m-33-5h0m100-3h0m-59-5h0m53 0h0m-59-18h0m35-14h0m45-6h0m-54-4h0m-58-1h0m117 0h0m-82-6h0m-4-4h0m48-4h0m-60 0h0m65-15h0m-16-5h0m-71-19h0m136-5h0m-117-16h0m84 0h0m-39-6h0m-16-2h0m-39 0h0m-14-3h0m93-16h0m-54-1h0m27-1h0m9-9h0m54-19h0m-76-2h0m80-3h0m-115-3h0m-9-1h0m26-10h0m-17-3h0m14-7h0m88-5h0m-27-3h0m-81-4h0m130-1h0m-61-9h0m64-2h0m-132-3h0m84-7h0m-24-23h0m37-5h0m-22-1h0m44-14h0m-23-5h0m4-6h0m-20 0h0m33-6h0m-1-1h0m22-3h0m-25-2h0m-23-2h0m-13-5h0m7-3h0m16-9h0m16-11h0m-94-3h0m-13-3h0m89-3h0m-70-3h0m67-5h0m-38-8h0m47-18h0m33-9h0m-61-5h0m-30-10h0m22-13h0m36 0h0m-27-6h0m-27-20h0m72-7h0m-51-36h0m65-38h0m-113 0h0m99-28h0m-97-5h0m61-8h0m49-12h0m-114-35h0m119-10h0m-119-4h0m6-13h0m89-58h0m1-40h0m-112-5h0m50-34h0m49-11h0m-1-34h0m-62-22h0m11-48h0m-24-61h0m-14-28h0m75-4h0m-13-21h0m-25-19h0m66-48h0m152-97h0m-3 124h0m10 14h0m-102 146h0m101 39h0m-8 15h0m-71 8h0m40 14h0m18 36h0m-32 13h0m-31 15h0m31 2h0m33 20h0m1 20h0m-2 11h0m-34 1h0m-43 7h0m-2 32h0m89 10h0m-3 14h0m-61 33h0m73 15h0m9 20h0m-98 26h0m38 15h0m4 6h0m-54 17h0m90 1h0m11 0h0m-66 24h0m-3 10h0m38 30h0m-18 2h0m22 9h0m-84 42h0m77 5h0m-51 3h0m-5 14h0m-23 1h0m-19 8h0m110 6h0m-45 2h0m27 9h0m-62 0h0m31 4h0m34 13h0m29 14h0m-26 14h0m-32 8h0m29 6h0m50 7h0m-63 1h0m-29 0h0m52 9h0m-47 3h0m87 2h0m-46 16h0m-72 36h0m-14 5h0m70 1h0m-59 3h0m11 1h0m89 0h0m0 4h0m-106 4h0m110 13h0m-72 6h0m-36 4h0m92 1h0m-51 7h0m21 7h0m-36 9h0m-36 4h0m102 2h0m-78 2h0m27 7h0m-33 11h0m34 18h0m44 4h0m-79 8h0m-26 6h0m140 0h0m-120 1h0m13 4h0m-20 3h0m121 11h0m-60 7h0m50 9h0m-86 3h0m-12 1h0m98 0h0m-34 3h0m-37 2h0m-2 5h0m72 12h0m-55 20h0m-60 8h0m52 1h0m69 1h0m-3 13h0m-98 8h0m35 1h0m-60 0h0m67 2h0m66 3h0m-128 1h0m98 4h0m-67 19h0m-37 1h0m17 1h0m105 1h0m-120 7h0m84 11h0m-36 4h0m39 6h0m-10 10h0m64 12h0m-96 7h0m73 16h0m0 5h0m-91 5h0m6 9h0m-22 18h0m3 4h0m21 15h0m41 5h0m-77 7h0m-2 2h0m103 12h0m-7 0h0m-13 2h0m-19 10h0m-5 6h0m59 20h0m1 8h0m-104 1h0m32 11h0m-34 24h0m17 4h0m78 14h0m-44 0h0m59 3h0m17 5h0m-56 5h0m54 53h0m-22 8h0m-42 3h0m-29 7h0m-39 3h0m79 22h0m-63 3h0m74 8h0m68 13h0m2 0h0m33-81h0m14-35h0m83-15h0m-59-6h0m0-18h0m-31-1h0m-58-33h0m35-28h0m-2 0h0m73 0h0m33-5h0m-3-13h0m-39-1h0m-17-33h0m-37-20h0m-18-1h0m52-7h0m-25-3h0m19-11h0m10-10h0m-30-2h0m-15-3h0m-26-2h0m44-1h0m-2-3h0m82-17h0m-37-1h0m-61-50h0m29-8h0m-10-8h0m59-1h0m-29-5h0m-71-11h0m126-16h0m-5-8h0m-117-1h0m92-3h0m-83 0h0m69-8h0m-43-1h0m68-5h0m-63-6h0m-57 0h0m95-25h0m-81-17h0m45-16h0m-53-6h0m142-3h0m-1-5h0m-50-14h0m35-7h0m3-10h0m-11-12h0m-79-4h0m-6-7h0m45-22h0m-43-1h0m104-4h0m-83-7h0m-26-1h0m91-10h0m-115-19h0m83-3h0m-77 0h0m39-2h0m63-3h0m25-1h0m-143-1h0m125 0h0m-50-19h0m-69-20h0m7-2h0m84-7h0m-6-8h0m-88 0h0m50-3h0m-44-1h0m131-18h0m-93-3h0m99-11h0m-114-4h0m113-5h0m-97 0h0m93-6h0m-117-5h0m41-11h0m51-5h0m17-6h0m-108-6h0m24-1h0m-44-4h0m104-6h0m-97-9h0m79-6h0m-78-2h0m104-3h0m-94-39h0m-15-12h0m67-11h0m-11-4h0m-56-2h0m110-3h0m-64-10h0m64 0h0m-41-2h0m-24 0h0m51 0h0m-49-2h0m3-9h0m10-2h0m23-15h0m-82 0h0m96-2h0m38-4h0m-12 0h0m-18-1h0m-54-6h0m-11-26h0m35-9h0m-81-5h0m68-1h0m20-1h0m40-1h0m-70-4h0m-12-8h0m65 0h0m-98-7h0m44-9h0m-26-5h0m64-24h0m-49-3h0m42-10h0m46-11h0m-88-37h0m-25-6h0m53-11h0m-13-31h0m-65-15h0m82-14h0m51 0h0m-25-1h0m-24-3h0m38-8h0m-93-25h0m-11-52h0m126-55h0m-77-44h0m37-2h0m26-37h0m-3-5h0m-125-6h0m91-50h0m8-183h0m157 22h0m-30 17h0m27 63h0m-16 18h0m46 36h0m-72 35h0m-33 20h0m51 24h0m-62 6h0m-5 8h0m44 83h0m90 1h0m-72 3h0m28 33h0m44 15h0m-22 8h0m-97 12h0m-3 24h0m60 27h0m0 23h0m-45 1h0m-38 3h0m67 15h0m66 18h0m-109 7h0m-16 10h0m124 16h0m2 0h0m-24 1h0m22 7h0m-130 0h0m93 15h0m46 30h0m-45 9h0m-73 11h0m-22 5h0m37 2h0m92 3h0m-55 4h0m21 15h0m-35 14h0m76 19h0m-76 12h0m-56 0h0m36 14h0m-41 0h0m89 9h0m-57 8h0m90 5h0m-126 11h0m128 11h0m-126 5h0m92 2h0m10 1h0m-68 3h0m3 3h0m91 8h0m-71 3h0m56 20h0m-33 6h0m67 6h0m-89 11h0m-34 6h0m5 2h0m24 4h0m18 5h0m5 4h0m17 4h0m-78 1h0m128 1h0m-24 1h0m-36 9h0m43 1h0m-94 11h0m-31 1h0m87 4h0m-25 2h0m-6 0h0m-55 2h0m97 3h0m-22 9h0m-37 3h0m-8 5h0m-9 3h0m55 2h0m52 2h0m-81 12h0m21 26h0m-16 3h0m-41 10h0m17 8h0m111 2h0m-46 2h0m19 2h0m-66 6h0m6 5h0m57 3h0m-55 1h0m-41 5h0m38 1h0m72 1h0m-2 1h0m-67 1h0m12 5h0m33 6h0m0 6h0m-67 3h0m96 2h0m-62 1h0m36 4h0m22 2h0m2 2h0m-53 7h0m-2 1h0m26 3h0m-12 1h0m-7 0h0m9 30h0m-16 1h0m25 9h0m28 13h0m-3 2h0m-56 14h0m46 9h0m-57 1h0m-51 14h0m-2 3h0m40 28h0m-23 8h0m54 20h0m-54 1h0m79 10h0m4 3h0m33 7h0m-81 2h0m12 15h0m-26 2h0m82 3h0m-116 12h0m84 6h0m14 2h0m-33 3h0m-43 12h0m14 0h0m-21 3h0m72 2h0m52 9h0m-128 5h0m110 18h0m0 18h0m17 15h0m-93 14h0m8 1h0m20 2h0m-16 20h0m-20 7h0m90 0h0m-114 1h0m91 6h0m-32 8h0m40 14h0m22 37h0m-10 4h0m-51 3h0m40 9h0m-40 3h0m12 1h0m-93 0h0m112 24h0m-85 15h0m7 8h0m64 11h0m47 1h0m2 3h0m-69 8h0m-25 2h0m87 13h0m-93 35h0m28 27h0m189-68h0m3-39h0m-100-20h0m-17-4h0m74-31h0m71-8h0m-45-7h0m-65-9h0m80-6h0m-51-5h0m-25-40h0m25-4h0m-58-19h0m78-9h0m52-4h0m-83-13h0m16-12h0m35-6h0m13-9h0m-16-21h0m-88-13h0m70-2h0m12-14h0m-59-7h0m40-11h0m-69-25h0m96 0h0m-46-1h0m-29-5h0m81-5h0m-93-4h0m128-11h0m-92-1h0m-23-2h0m33-1h0m-37-10h0m76-3h0m27-5h0m-126-3h0m35-15h0m110-6h0m-7-6h0m-20-3h0m-13-3h0m-1-13h0m-60-3h0m-43-3h0m128-5h0m-119 0h0m73-9h0m-24 0h0m75-17h0m-64-4h0m9-9h0m53-9h0m-28-9h0m-9-1h0m-31-1h0m-22-3h0m43-3h0m49-5h0m-73-1h0m43-1h0m-105-22h0m142-5h0m-105-5h0m103-7h0m-9-7h0m-94-35h0m109-14h0m-109-3h0m89-5h0m-50-1h0m-66-4h0m106-4h0m9-1h0m-78-6h0m58-5h0m28-4h0m11-1h0m-54-2h0m48-7h0m-37-8h0m17-3h0m8-8h0m-61-4h0m48-3h0m-112-8h0m2-5h0m134-1h0m-76-1h0m18-4h0m47-3h0m-16-3h0m-5-9h0m30-6h0m-88 0h0m-34-2h0m129-1h0m-39-8h0m4-1h0m12-10h0m-34-1h0m-71-13h0m82-2h0m-92-1h0m16-6h0m127-8h0m-71-12h0m-55-3h0m16-1h0m32-3h0m1-1h0m-6-3h0m-24-3h0m-13-1h0m58-3h0m-54 0h0m78-2h0m-33-11h0m55-12h0m-88-12h0m-19-6h0m34-1h0m78-3h0m-120-1h0m62-8h0m-5-11h0m-62-1h0m41-6h0m-6-5h0m26-10h0m-22-1h0m48-1h0m-94-3h0m25-3h0m51-1h0m-67-3h0m33-5h0m60-10h0m19-8h0m-28-3h0m-78-6h0m92 0h0m35 0h0m-11-17h0m-49-1h0m-82-1h0m82-9h0m-32-8h0m-39-9h0m127-6h0m-31-1h0m25 0h0m-47-26h0m-12-1h0m-23-5h0m-26-9h0m81-4h0m-14-5h0m-26-20h0m77-1h0m-139-3h0m-3-3h0m87-10h0m35-7h0m-88-11h0m59-9h0m-88-1h0m44-8h0m71-10h0m8-2h0m-45-4h0m59-5h0m-85-7h0m-32-13h0m17-1h0m50-11h0m-65-7h0m5 0h0m-20-2h0m113-12h0m1-6h0m-110-12h0m-19-8h0m23-3h0m119-30h0m-70-19h0m-64-18h0m38-62h0m92-4h0m-105-31h0m84-19h0m-96-2h0m43-77h0m50-34h0m0-60h0m-5-28h0m34-99h0m-27-24h0m-63-7h0m73-70h0m45 35h0m37 50h0m36 3h0m33 114h0m-80 4h0m-44 120h0m10 23h0m73 15h0m-47 20h0m-7 89h0m20 16h0m46 13h0m5 15h0m-95 24h0m-11 24h0m146 7h0m-78 13h0m30 2h0m36 10h0m-93 5h0m30 0h0m-55 5h0m-15 8h0m11 1h0m104 37h0m-107 1h0m15 0h0m74 26h0m-21 4h0m40 23h0m-32 4h0m-3 16h0m28 9h0m5 12h0m23 8h0m-126 3h0m94 23h0m-41 5h0m-39 3h0m41 15h0m67 3h0m-99 9h0m72 31h0m-67 5h0m-26 4h0m26 10h0m96 5h0m-102 2h0m21 41h0m-21 5h0m90 1h0m-19 10h0m-103 4h0m124 0h0m-46 3h0m-14 11h0m-9 1h0m46 12h0m-64 12h0m14 13h0m22 3h0m15 7h0m-34 2h0m51 4h0m-31 10h0m49 8h0m-29 3h0m-79 0h0m33 7h0m11 5h0m-24 2h0m52 4h0m-68 4h0m52 10h0m-7 13h0m7 2h0m-41 4h0m-28 7h0m72 19h0m2 0h0m-52 5h0m16 3h0m106 3h0m-3 1h0m-29 4h0m-62 2h0m65 4h0m18 6h0m-23 6h0m-103 3h0m124 2h0m-31 5h0m-26 6h0m-42 0h0m-26 8h0m127 2h0m-43 6h0m18 12h0m-54 10h0m-46 6h0m61 4h0m-56 8h0m107 9h0m-3 5h0m-79 9h0m48 4h0m-49 2h0m-6 0h0m19 8h0m26 2h0m-31 18h0m4 8h0m88 4h0m-72 14h0m-37 7h0m29 1h0m-52 12h0m126 7h0m-76 1h0m49 29h0m36 19h0m3 7h0m-83 3h0m50 5h0m-81 8h0m41 3h0m-1 14h0m15 11h0m-6 0h0m39 9h0m-86 5h0m-22 13h0m113 4h0m18 29h0m-68 10h0m-32 9h0m6 5h0m7 7h0m-33 29h0m-12 21h0m68 11h0m-30 24h0m-45 28h0m92 17h0m-21 3h0m-68 46h0m48 46h0m56 15h0m154-60h0m-41-39h0m63-1h0m-94-1h0m-31-34h0m55-3h0m0-3h0m38-11h0m-64-31h0m86-14h0m-108-7h0m73-59h0m-81-8h0m50-6h0m-15-3h0m-39-3h0m68-55h0m35-2h0m9-2h0m3-4h0m-31-31h0m-19-7h0m70-6h0m-117-37h0m118-6h0m-14-13h0m-84-17h0m-1-4h0m32-2h0m48-12h0m-53-3h0m-29-3h0m-2-9h0m88-8h0m-55-16h0m21-10h0m-76-17h0m92-5h0m30-6h0m-140-24h0m116-5h0m-32-8h0m28-1h0m20-4h0m11-11h0m-115-3h0m4-14h0m-13-11h0m42-6h0m29-2h0m-60-1h0m101 0h0m-97-3h0m48-2h0m15-17h0m-13-12h0m12-5h0m17-8h0m-24-7h0m-68-11h0m101-3h0m-23-1h0m-67 0h0m-20-6h0m129 0h0m-23-6h0m21-13h0m-3-5h0m-82-10h0m11 0h0m75-5h0m-58-2h0m59 0h0m-51-2h0m56-2h0m-135-6h0m83-17h0m20-4h0m24-12h0m-52-18h0m31-19h0m-88-7h0m-11-16h0m52-9h0m71-13h0m-140-14h0m96-10h0m21-10h0m0-1h0m-44 0h0m39-10h0m-15-9h0m-48-18h0m6-5h0m0-8h0m-22-3h0m71-26h0m38-5h0m-114-4h0m16-6h0m27-11h0m-70-7h0m53-13h0m71-1h0m-83 0h0m35-15h0m27-9h0m-91-11h0m50-3h0m67-15h0m-92-1h0m108-54h0m-78-15h0m-35-5h0m90 0h0m8-1h0m1-20h0m-59-13h0m3-10h0m-11-14h0m22-1h0m28-3h0m-15-2h0m-28-5h0m-40-23h0m47-7h0m-8-3h0m48-66h0m-120-11h0m69-51h0m-47-28h0m63-33h0m48-60h0m-67-19h0m-3-24h0m-38-10h0m35-42h0m-21-22h0m25-10h0m-52-13h0m16-150h0m37-38h0m-24-49h0m243-268h0m12 318h0m-34 50h0m1 4h0m-28 79h0m27 33h0m-17 3h0m41 12h0m7 25h0m-101 11h0m-21 20h0m65 57h0m-75 18h0m98 17h0m6 32h0m-84 51h0m4 1h0m-33 5h0m141 17h0m-70 1h0m-41 1h0m-26 14h0m110 30h0m-104 26h0m20 2h0m33 22h0m-2 20h0m32 2h0m9 5h0m-89 4h0m42 12h0m8 0h0m45 4h0m38 31h0m-31 35h0m-49 6h0m20 1h0m-19 14h0m-24 9h0m42 34h0m-85 7h0m112 15h0m-88 3h0m22 1h0m6 8h0m-30 1h0m-21 9h0m98 27h0m-77 14h0m28 2h0m73 2h0m-107 2h0m11 0h0m43 14h0m39 1h0m0 12h0m-34 10h0m-4 16h0m12 0h0m-7 8h0m-9 10h0m34 5h0m-10 11h0m-87 17h0m61 6h0m-48 20h0m-19 2h0m8 2h0m5 4h0m117 2h0m-94 2h0m-9 23h0m121 4h0m-122 12h0m83 9h0m-9 6h0m-50 1h0m-18 1h0m61 1h0m-68 13h0m6 4h0m7 28h0m-30 1h0m45 7h0m-36 5h0m65 4h0m-21 13h0m-21 31h0m0 16h0m102 21h0m-50 5h0m29 1h0m-44 4h0m-59 12h0m-12 4h0m85 22h0m9 5h0m-17 1h0m-7 1h0m-77 13h0m2 3h0m21 16h0m113 2h0m-125 1h0m-11 9h0m149 13h0m-71 11h0m25 2h0m-88 12h0m7 18h0m86 16h0m30 7h0m-71 1h0m29 10h0m0 18h0m1 12h0m-68 15h0m37 15h0m-13 10h0m-19 5h0m84 15h0m-12 16h0m-25 17h0m-46 1h0m53 2h0m-65 0h0m122 0h0m-73 12h0m-34 17h0m-13 1h0m22 29h0m-33 4h0m110 16h0m12 7h0m-74 22h0m-29 37h0m76 17h0m-25 2h0m21 3h0m-50 97h0m88 56h0m143-83h0m-39-8h0m-67-73h0m55-44h0m17-10h0m-62-6h0m81-59h0m-121-17h0m10-13h0m13-7h0m20-6h0m-18-3h0m92-16h0m-110-8h0m64-6h0m-49-17h0m-10-12h0m19-3h0m42-4h0m34-8h0m-56-33h0m79-7h0m-19-4h0m36-50h0m-4-3h0m-7-1h0m-35-3h0m-24-6h0m-38-1h0m-34-36h0m6 0h0m100-28h0m-82-17h0m95-11h0m-53-12h0m-63-1h0m99-6h0m28-1h0m-108-7h0m-14-14h0m57-4h0m-46-5h0m48-1h0m6-18h0m-69-19h0m34-2h0m83-2h0m-26-17h0m40-2h0m6-11h0m-52-2h0m1-1h0m-35-4h0m-8-8h0m-42-2h0m27-21h0m-21-1h0m-16-1h0m17-6h0m72-62h0m-2-13h0m-60-17h0m16-6h0m46-4h0m-2-11h0m-4-6h0m-32-5h0m89-4h0m-67-33h0m-59-2h0m45-1h0m-49-11h0m75-24h0m-60-3h0m114 0h0m-122-15h0m0-5h0m70-17h0m-54-44h0m-30-11h0m5-13h0m48-12h0m23-20h0m-38-4h0m21-2h0m65-6h0m-80-48h0m61 0h0m-50-4h0m91-34h0m-60-29h0m-16-26h0m-66-33h0m49-16h0m-22-45h0m1-69h0m-28-43h0m70-5h0m39-184h0m11-31h0m-115-121h0m193-109h0m3 35h0m-36 52h0m33 158h0m66 33h0m-21 15h0m-14 24h0m-3 57h0m32 3h0m-4 5h0m-51 14h0m-28 8h0m21 5h0m67 27h0m-96 92h0m51 23h0m-48 2h0m-1 0h0m-25 43h0m57 5h0m3 0h0m49 40h0m-102 21h0m1 19h0m34 39h0m57 10h0m-34 33h0m19 19h0m-80 4h0m27 16h0m45 17h0m-57 13h0m36 2h0m84 9h0m-14 20h0m-91 11h0m84 6h0m-34 4h0m-5 7h0m50 8h0m-46 17h0m7 5h0m-8 8h0m-52 20h0m109 16h0m-57 3h0m-4 7h0m-37 34h0m69 13h0m-9 18h0m41 1h0m-28 20h0m-91 35h0m83 6h0m-73 8h0m32 4h0m-19 5h0m51 10h0m4 30h0m-26 6h0m-61 11h0m47 4h0m53 7h0m-20 41h0m-6 1h0m-70 10h0m15 5h0m-10 31h0m-10 0h0m-12 9h0m31 16h0m21 7h0m72 3h0m-109 29h0m-15 25h0m98 12h0m-3 30h0m20 51h0m-63 0h0m-23 27h0m64 16h0m-47 8h0m91 49h0m-108 12h0m84 4h0m-36 6h0m17 79h0m-3 46h0m-61 73h0m75 35h0m-26 18h0m49 9h0m-9 2h0m-110 2h0m255-18h0m-56-32h0m23-7h0m7-94h0m-7-68h0m30-5h0m31-33h0m-10-28h0m2-4h0m-65-23h0m-45-32h0m112-15h0m-15-93h0m-67-26h0m24-3h0m48-18h0m-112-1h0m122-1h0m-84-25h0m8-22h0m-41-7h0m45-32h0m-15-5h0m0-9h0m-18-30h0m32-14h0m10-7h0m-8-10h0m68-11h0m-121-18h0m63-13h0m-62-14h0m44-21h0m-59-3h0m122-18h0m-16-10h0m35-8h0m-136-41h0m18-53h0m30-18h0m39-4h0m22-30h0m-77-47h0m45-35h0m14-2h0m-61-6h0m-29 0h0m93-7h0m-94-15h0m45-2h0m1-56h0m35-8h0m-55-80h0m79-15h0m11-23h0m-16-1h0m18-6h0m-120-18h0m142-13h0m-1-16h0m-114-69h0m46-3h0m-71-4h0m53-94h0m52-1h0m-37-22h0m-45-24h0m87-172h0m21-16h0m-54-120h0m3-7h0m2-38h0m-46-99h0m113-149h0m84 156h0m-66 329h0m45 63h0m49 31h0m-58 39h0m5 5h0m-54 59h0m92 127h0m-50 25h0m8 44h0m-10 25h0m23 1h0m-28 14h0m89 43h0m-2 70h0m-46 2h0m-40 141h0m-43 8h0m59 23h0m-26 15h0m-33 16h0m118 3h0m-19 21h0m-91 39h0m109 8h0m-116 29h0m16 3h0m97 2h0m-99 1h0m38 37h0m-36 1h0m32 16h0m34 13h0m-66 6h0m0 7h0m87 13h0m-38 31h0m74 19h0m-82 5h0m1 27h0m-61 50h0m63 6h0m25 34h0m-88 2h0m125 11h0m-32 19h0m-1 56h0m34 1h0m-62 0h0m-56 72h0m128 10h0m7 28h0m-46 1h0m-66 93h0m17 68h0m-44 11h0m151-167h0m4-51h0m92-42h0m-10-43h0m-76-154h0m-2-30h0m55-18h0m53-119h0m5-28h0m-15-21h0m-21-2h0m-15-3h0m-2-34h0m49-129h0m-116-115h0m109-23h0m19-4h0m-127-4h0m82-62h0m-58-47h0m-19-48h0m59-78h0m-15-28h0m-55-6h0m18-56h0m46-20h0m-42-102h0m70-14h0m8-26h0m28-117h0m40-87h0m32 207h0m0 52h0m-38 155h0m80 5h0m-65 12h0m42 67h0m39 133h0m-105 40h0m-1 9h0m29 78h0m115 45h0m-102 3h0m15 27h0m-58 14h0m33 5h0m70 26h0m-50 9h0m60 47h0m2 14h0m2 20h0m-101 7h0m75 29h0m-83 38h0m86 7h0m-96 17h0m51 92h0m39 96h0m-50 16h0m103 19h0m-74 32h0m23 14h0m41 66h0m-52 33h0m-32 46h0m-11 35h0m57 15h0m123-23h0m-30-119h0m15-12h0m-34-81h0m-8-24h0m106-85h0m-50-50h0m41-29h0m-4-14h0m27-35h0m-81-24h0m15-1h0m9-99h0m-66-54h0m55-30h0m42-16h0m-54-46h0m85-37h0m-64-57h0m-17-6h0m-55-31h0m107-38h0m-74-3h0m22-63h0m-19-3h0m57-15h0m-45-145h0m57-78h0m-75-818h0m176 1206h0m32 35h0m42 170h0m-62 28h0m77 89h0m-131 3h0m97 46h0m-108 254h0m132 78h0m-88 39h0m-18 35h0m-16 11h0m211-152h0m-64-70h0m105-51h0m-113-36h0m70-92h0m-19-133h0m-11-19h0m-26-10h0m5-109h0m262 248h0m-53 1h0m56 8h0m-72 193h0m-43 55h0m40 11h0m147-126h0m-51-34h0m60-37h0m-32-59h0m559-52h0"/>
</g>
<path d="M881.2 538.7L1132.6 287.3" clip-path="url(#cp1)" stroke="#000" stroke-width="9.2" stroke-dasharray="36 9 17 9" fill="none"/>
<path d="M1132.6 287.3L1503.5 -194.9" clip-path="url(#cp1)" stroke="#000" stroke-width="9.2" stroke-dasharray="36 9 17 9" fill="none"/>
<path d="M954.4 611.9L1132.6 433.8" clip-path="url(#cp1)" stroke="#000" stroke-width="9.2" stroke-dasharray="36 9 17 9" fill="none"/>
<path d="M1132.6 433.8L1503.5 174.1" clip-path="url(#cp1)" stroke="#000" stroke-width="9.2" stroke-dasharray="36 9 17 9" stroke-dashoffset="-2.9" fill="none"/>
<text class="t" x="888.5" y="657.2" text-anchor="middle">0</text>
<text class="t" x="873" y="618.8" text-anchor="end">0</text>
<text class="t" x="1034.9" y="657.2" text-anchor="middle">20</text>
<text class="t" x="873" y="472.4" text-anchor="end">20</text>
<text class="t" x="1181.4" y="657.2" text-anchor="middle">40</text>
<text class="t" x="873" y="325.9" text-anchor="end">40</text>
<text class="t" x="1327.8" y="657.2" text-anchor="middle">60</text>
<text class="t" x="873" y="179.5" text-anchor="end">60</text>
<text class="t" x="1474.2" y="657.2" text-anchor="middle">80</text>
<text class="t" x="873" y="33.1" text-anchor="end">80</text>
<text class="a" x="1017.7" y="87.5" text-anchor="middle">2017/04/10</text>
<text class="a" x="1017.7" y="133.1" text-anchor="middle">LTAN ~24 h</text>
</g>
<g id="panel3">
<clipPath id="cp2"><rect x="117.7" y="780.1" width="595.4" height="595.1"/></clipPath>
<path d="M126.2 781.3V1374M118.9 1366.7H711.9M272.6 781.3V1374M118.9 1220.3H711.9M419.1 781.3V1374M118.9 1074H711.9M565.5 781.3V1374M118.9 927.6H711.9M711.9 781.3V1374M118.9 781.3H711.9" stroke="#dcdcdc" stroke-width="1.9" fill="none"/>
<rect x="118.9" y="781.3" width="593" height="592.7" fill="none" stroke="#0d0d0d" stroke-width="2.4"/>
<path d="M126.2 1374v-6.5M126.2 781.3v6.5M118.9 1366.7h6.5M711.9 1366.7h-6.5M272.6 1374v-6.5M272.6 781.3v6.5M118.9 1220.3h6.5M711.9 1220.3h-6.5M419.1 1374v-6.5M419.1 781.3v6.5M118.9 1074h6.5M711.9 1074h-6.5M565.5 1374v-6.5M565.5 781.3v6.5M118.9 927.6h6.5M711.9 927.6h-6.5M711.9 1374v-6.5M711.9 781.3v6.5M118.9 781.3h6.5M711.9 781.3h-6.5" stroke="#0d0d0d" stroke-width="2" fill="none"/>
<path d="M118.9 1374L711.9 781.3" stroke="#000" stroke-width="1.6" fill="none"/>
<g transform="scale(.1)">
<path class="d" stroke="#00ffff" d="M1283 12947h0m-5 0h0m28 11h0m-20 2h0m22 26h0m-32 3h0m4 1h0m-19 17h0m5 7h0m21 11h0m-7 7h0m-24 14h0m7 0h0m31 4h0m-26 15h0m1 0h0m32 3h0m-3 5h0m-10 2h0m-1 9h0m20 1h0m-31 6h0m-2 3h0m-23 4h0m59 3h0m-26 1h0m-3 4h0m20 0h0m8 2h0m-44 3h0m3 2h0m54 1h0m4 5h0m2 15h0m-50 5h0m32 11h0m-11 1h0m-9 5h0m-49 5h0m77 1h0m-48 9h0m28 29h0m21 2h0m-60 5h0m17 5h0m-9 1h0m-2 1h0m5 9h0m-7 1h0m43 1h0m-11 6h0m7 1h0m5 8h0m0 8h0m-66 4h0m39 7h0m24 7h0m-22 3h0m40 1h0m-30 12h0m-31 5h0m55 10h0m-60 8h0m4 2h0m57 6h0m-2 3h0m-42 0h0m-15 9h0m-11 2h0m42 4h0m-28 11h0m4 2h0m8 0h0m41 2h0m-47 1h0m-14 0h0m34 3h0m15 5h0m-79 0h0m35 24h0m-22 5h0m9 19h0m14 5h0m-16 2h0m83 1h0m-40 10h0m14 0h0m-49 0h0m-25 0h0m46 7h0m19 1h0m-28 0h0m47 2h0m-4 2h0m-8 15h0m-70 5h0m82 1h0m-57 3h0m8 1h0m60 3h0m-46 2h0m62 2h0m-9 2h0m-52 1h0m24 3h0m-45 2h0m25 7h0m46 3h0m4 2h0m-9 4h0m-32 1h0m-23 2h0m12 2h0m-15 4h0m44 3h0m-23 4h0m-9 2h0m-12 1h0m-5 3h0m56 2h0m-68 0h0m80 12h0m-93 11h0m99 9h0m-43 2h0m3 2h0m-20 0h0m38 1h0m5 0h0m16 1h0m-64 4h0m23 2h0m-43 8h0m63 2h0m-4 1h0m-16 0h0m-8 11h0m-5 31h0m14 4h0m29 2h0m-75 4h0m98 3h0m-20 2h0m-70 6h0m-11 1h0m91 0h0m-64 6h0m25 2h0m51 3h0m-76 1h0m3 11h0m-24 4h0m38 3h0m56 0h0m-62 15h0m50 2h0m-29 0h0m53-49h0m-4-87h0m7-20h0"/>
<path class="d" stroke="#0000ff" d="M1342 12775h0m-16 11h0m-6 36h0m13 38h0m-20 18h0m33 13h0m-25 0h0m17 11h0m-12 5h0m3 34h0m13 46h0m-30 11h0m15 36h0m-35 0h0m34 6h0m-10 15h0m-19 10h0m32 1h0m-39 5h0m-21 4h0m11 4h0m-21 1h0m84 11h0m-1 9h0m-1 10h0m-7 4h0m-19 5h0m29 2h0m-31 10h0m7 4h0m-24 6h0m27 6h0m-27 8h0m12 4h0m-33 1h0m29 14h0m45 7h0m-48 3h0m24 6h0m-4 0h0m-39 10h0m59 4h0m-73 24h0m64 5h0m-21 3h0m-50 11h0m58 1h0m-6 16h0m-50 16h0m19 13h0m53 0h0m1 4h0m-30 31h0m-15 23h0m30 5h0m-17 17h0m-86 1h0m130 0h0m-29 10h0m-54 0h0m-20 3h0m33 5h0m44 1h0m-60 3h0m58 7h0m-18 12h0m33 2h0m-47 9h0m22 1h0m-50 24h0m68 6h0m9 7h0m-16 17h0m-57 8h0m64 1h0m-15 4h0m-45 4h0m72 3h0m-33 6h0m-62 0h0m45 17h0m32 8h0m-8 12h0m27 6h0m-24 3h0m-61 1h0m5 1h0m-10 3h0m64 1h0m-3 1h0m-45 8h0m35 1h0m-7 26h0m53 14h0m113 4h0m-75-6h0m40-14h0m43 0h0m22-21h0m-47-2h0m-94-7h0m103-1h0m-67-1h0m2-10h0m66-3h0m-54 0h0m-30-1h0m-14-2h0m64-8h0m19-1h0m38-1h0m-13-3h0m-60 0h0m-14-5h0m47-7h0m29-6h0m-92-3h0m-13-3h0m35-3h0m57-1h0m-10-7h0m52-1h0m-21-7h0m-99-4h0m114-2h0m-126-2h0m-11-6h0m127-5h0m-10-13h0m-87-1h0m85-7h0m-105 0h0m85 0h0m-59-5h0m52-1h0m58-1h0m-32 0h0m-36-2h0m-19-1h0m40-5h0m41-1h0m-57-2h0m15 0h0m44-3h0m4-3h0m-115-9h0m-29-8h0m17-7h0m40-2h0m-2-2h0m77-4h0m-77-9h0m-2-7h0m-38-2h0m50-4h0m-66-4h0m5-4h0m108-1h0m-85-2h0m-29-5h0m64 0h0m24-1h0m-24-4h0m45-5h0m22-1h0m-69-3h0m-43 0h0m13-6h0m86-5h0m11-6h0m-114-6h0m92-2h0m-2-4h0m-106-8h0m138-8h0m-10-7h0m-9-3h0m-38-11h0m-4-1h0m-45-19h0m6-1h0m0-8h0m87-1h0m-11-2h0m-9-8h0m-87-5h0m-16-4h0m107-3h0m-59-1h0m-8 0h0m-31-4h0m53-7h0m-49-6h0m11-1h0m-1-5h0m12 0h0m102-4h0m-72-9h0m-20-7h0m-47-5h0m78 0h0m44-1h0m-64-3h0m-34 0h0m21-1h0m81-2h0m-42-2h0m-33-3h0m82-2h0m-37-4h0m35-2h0m-31-6h0m-93-1h0m64-4h0m31-4h0m43-3h0m-107-6h0m92-13h0m-111-4h0m98 0h0m-1-4h0m-109 0h0m57-8h0m49-1h0m11-4h0m-115-7h0m62-18h0m-72-6h0m42-4h0m98-8h0m-47-4h0m3 0h0m13-20h0m12-1h0m11-5h0m-103-1h0m78-7h0m18-1h0m-63-14h0m-30-9h0m25-4h0m72-8h0m-29-2h0m16-4h0m-99-3h0m100-1h0m-64-2h0m-2-2h0m54 0h0m-97-3h0m92-7h0m25 0h0m22-1h0m-61-2h0m-1-3h0m-13 0h0m46-1h0m-47-1h0m27-10h0m-88-9h0m96-5h0m6-2h0m-70-1h0m-31-2h0m-9-12h0m6-2h0m-3-3h0m33-3h0m102-9h0m-90 0h0m-18-2h0m62-2h0m-8-5h0m37-1h0m-27-7h0m20-14h0m-68-11h0m99-15h0m-6 0h0m-69-2h0m72-6h0m-75-1h0m-24-7h0m88-5h0m-100-6h0m-14-5h0m40-3h0m88-3h0m-36-3h0m-54-1h0m-57-5h0m66-3h0m-40-2h0m-24-2h0m133-1h0m-42-4h0m-15-3h0m42-6h0m-41-5h0m30 0h0m-46-5h0m27-3h0m32-2h0m-85-1h0m56-1h0m-13-1h0m-43-26h0m66-6h0m-24-9h0m-27-12h0m93 0h0m-26-4h0m-18-3h0m-12-3h0m4-4h0m42-15h0m9-1h0m-118-5h0m59-6h0m16-1h0m-41-7h0m189-55h0m-45 6h0m53 8h0m-86 0h0m2 2h0m38 14h0m-15 2h0m-2 0h0m65 1h0m-77 0h0m-21 3h0m52 25h0m47 2h0m-33 8h0m-39 5h0m-36 16h0m116 2h0m-38 2h0m23 4h0m-67 1h0m50 7h0m-57 24h0m88 7h0m-24 2h0m-70 3h0m82 3h0m-21 0h0m-76 5h0m4 7h0m58 6h0m-38 1h0m-30 1h0m94 4h0m-56 2h0m81 2h0m-74 3h0m-32 7h0m97 2h0m-107 4h0m138 1h0m-143 9h0m19 2h0m0 8h0m83 11h0m3 3h0m32 2h0m-40 3h0m51 1h0m-54 0h0m-78 15h0m68 4h0m2 1h0m-51 8h0m23 2h0m-24 4h0m33 1h0m-53 1h0m77 12h0m38 12h0m-98 13h0m62 14h0m-19 7h0m-40 2h0m68 2h0m-73 7h0m107 7h0m-7 29h0m-103 5h0m15 7h0m28 7h0m16 4h0m25 0h0m-51 2h0m-59 4h0m80 8h0m-14 2h0m-43 2h0m62 14h0m-48 3h0m10 7h0m-44 3h0m108 9h0m-91 1h0m61 11h0m-12 3h0m14 16h0m-81 1h0m2 17h0m39 1h0m7 6h0m3 13h0m-50 7h0m87 1h0m-47 3h0m-14 9h0m27 1h0m-19 11h0m-23 18h0m21 28h0m0 9h0m36 36h0m-69 9h0m17 39h0m-15 1h0m14 0h0m113 0h0m-70 4h0m48 30h0m-90 1h0m97 2h0m-51 7h0m-41 2h0m106 11h0m-61 13h0m-47 2h0m115 2h0m-8 0h0m-20 10h0m-77 4h0m41 12h0m24 3h0m-14 3h0m66 11h0m-23 10h0m-107 1h0m104 7h0m-121 13h0m19 2h0m86 1h0m-94 0h0m40 1h0m32 7h0m12 0h0m11 2h0m-33 0h0m-62 10h0m70 2h0m-24 1h0m-7 4h0m41 6h0m-64 0h0m77 2h0m1 9h0m-79 10h0m26 1h0m-54 5h0m25 3h0m-25 2h0m28 5h0m76 1h0m11 1h0m-69 4h0m-4 12h0m81 7h0m-70 2h0m40 1h0m-65 0h0m62 1h0m-36 7h0m31 5h0m-27 4h0m46 16h0m-49 10h0m-35 14h0m174-36h0m-39-16h0m53-15h0m-53-8h0m54-6h0m41-28h0m-72-5h0m2-12h0m47 0h0m-49-16h0m17-4h0m0-1h0m36-3h0m26-1h0m35-1h0m-43-2h0m-77-1h0m64-10h0m22-8h0m-105 0h0m144-2h0m-51-2h0m-52-11h0m51-3h0m-65-1h0m103-8h0m-43-1h0m50-4h0m-30-3h0m10-11h0m-7-2h0m19-1h0m1 0h0m7-11h0m-128-3h0m-1 0h0m0-1h0m56-7h0m38-2h0m-79-1h0m71-4h0m-95-6h0m3-3h0m93-29h0m-28-6h0m79-5h0m-85-3h0m60-5h0m-13-6h0m-102-8h0m-5-416h0m267 374h0m-79 3h0m50 19h0m46 1h0m-13 0h0m4 1h0m-51 4h0m7 0h0m-63 5h0m39 10h0m11 8h0m-39 2h0m89 4h0m-17 12h0m28 1h0m6 2h0m-132 4h0m87 9h0m-45 2h0m11 2h0m19 20h0m11 4h0m10 8h0m-57 0h0m44 9h0m-23 1h0m-62 10h0m72 15h0m44 2h0m-106 11h0m93 0h0m6 12h0m-61 8h0m30 6h0m54 1h0m-122 1h0m65 0h0m-62 32h0m23 12h0m247-80h0m-60-6h0m-37-22h0m1-9h0m-14-4h0m77-8h0m-34-2h0m18-1h0m55-2h0m-109-2h0m-19-5h0m80-2h0m-78-2h0m-13-3h0m22-4h0m111-3h0m-116-5h0m55-1h0m20-4h0m-51 0h0m17-11h0m4-1h0m-5-2h0m16-5h0m62-13h0m-44-1h0m-57-1h0m38 0h0m43-6h0m-75-11h0m12-1h0m-39-3h0m30-1h0m-32-4h0m90-7h0m-34-1h0m-34-11h0m65 0h0m-45 0h0m-11-1h0m-5-9h0m49-7h0m49-2h0m-96-1h0m25-1h0m15-3h0m6-2h0m28-2h0m27 0h0m2-1h0m-58 0h0m-34-11h0m80-3h0m105-76h0m25 4h0m-7 10h0m27 9h0m16 33h0m-31 11h0m-6 1h0m-14 3h0m-5 1h0m55 11h0m-141 1h0m105 6h0m-49 0h0m-1 3h0m27 2h0m-6 2h0m-31 9h0m34 2h0m8 20h0m-6 2h0m60 0h0m-7 5h0m-26 9h0m-95 10h0m16 5h0m16 1h0m21 1h0m-2 3h0m38 6h0m-83 4h0m53 13h0m41 2h0m-72 0h0m-33 1h0m39 4h0m32 11h0m31 2h0m-49 6h0m10 6h0m-20 1h0m4 2h0m-57 8h0m61 4h0m-38 2h0m73 0h0m-57 3h0m144-58h0m28-26h0m-1-17h0m-22-2h0m71-2h0m-53-6h0m-27-6h0m-29-6h0m52-1h0m20-6h0m-75-2h0m125-2h0m-35-1h0m10-1h0m7-4h0m8-5h0m-97 0h0m20-5h0m109-1h0m-45-1h0m-14-2h0m27-3h0m0-2h0m-104-11h0m41-1h0m76-1h0m-67-17h0m-8-12h0m23 0h0m62-2h0m-123-1h0m91-1h0m-40-15h0m-30-4h0m56-2h0m-12-7h0m-29-3h0m66-25h0m-95-25h0m276-70h0m-11 30h0m-131 6h0m134 2h0m-55 0h0m-43 3h0m5 2h0m90 2h0m-50 2h0m25 5h0m-35 9h0m-69 4h0m95 2h0m-17 5h0m-30 4h0m-40 14h0m48 2h0m51 7h0m26 4h0m-28 4h0m27 1h0m-119 0h0m121 0h0m-96 3h0m67 8h0m-87 13h0m116 0h0m-58 24h0m63 5h0m-148 4h0m103 1h0m-39 6h0m5 0h0m-63 2h0m46 7h0m90 2h0m6 2h0m-38 1h0m-18 2h0m-27 4h0m28 10h0m-9 4h0m-84 0h0m120 2h0m-48 10h0m-8 12h0m-64 16h0m247-83h0m-56-9h0m9-11h0m25-9h0m-62-3h0m14-7h0m114-19h0m-69-6h0m-38-6h0m0-1h0m-30-6h0m137-4h0m-60-2h0m-53-1h0m89-9h0m-2-14h0m-39-22h0m-45-9h0m115-1h0m-50-1h0m43 0h0m-61-8h0m29-1h0m-98-4h0m26-11h0m-15-7h0m101-14h0m-28-4h0m43-11h0m-38 0h0m12-6h0m55 32h0m28 7h0m-20 7h0m53 34h0m-57 7h0m65 14h0m-38 4h0m-14 7h0m-2 33h0"/>
<path class="d" stroke="#00ffff" d="M1348 13556h0m1 48h0m-2 4h0m-11 1h0m-4 5h0m-1 8h0m-22 16h0m-8 25h0m56-76h0m7-3h0m-10-3h0m22-11h0m-3-4h0m-23-3h0m38-8h0m-8-5h0m5-10h0m-1-3h0m-5-1h0m9-12h0m70-36h0m-58 0h0m-2-2h0m22-7h0m9 0h0m53-1h0m-61-2h0m-17-3h0m74-4h0m-39-2h0m-19-1h0m45-2h0m-41-4h0m6 0h0m-12 0h0m16-3h0m0-3h0m-22-5h0m-4-1h0m15-1h0m-10-2h0m18-1h0m-2-1h0m39-6h0m-52-1h0m34-5h0m28 0h0m-1 0h0m-6-7h0m-33 0h0m41-3h0m-41 0h0m38 0h0m6-1h0m-47-2h0m9 0h0m21-2h0m-15-2h0m-8-2h0m43-2h0m-59-3h0m57-2h0m-63-2h0m3 0h0m33-6h0m8-1h0m-40-4h0m1-1h0m-3-2h0m58-1h0m-4-3h0m-25-1h0m20-11h0m1-9h0m-34-1h0m-3-3h0m21-2h0m22-15h0m-29-4h0m-18-4h0m55-1h0m-48-2h0m12-5h0m-3-8h0m34-4h0m16-4h0m-55-1h0m35-1h0m2-5h0m-31-4h0m9-4h0m2-8h0m17-1h0m-27 0h0m-7-2h0m9-12h0m-28-10h0m48-13h0m-56-5h0m41-2h0m17 0h0m19-1h0m-21-5h0m18-2h0m-18-7h0m10-3h0m-7-5h0m-33-2h0m6-32h0m49-3h0m-2-1h0m-28-1h0m-10-3h0m41-6h0m-16-2h0m3-1h0m-1-14h0m8-21h0m-4-1h0m-10 0h0m6-1h0m-25-6h0m24-10h0m-21-4h0m34-19h0m-35-3h0m31-3h0m4-6h0m-38-11h0m37-8h0m-7-27h0m-137-343h0m49-43h0m6-32h0m6-1h0m0-2h0m11-21h0m31-26h0m-6-8h0m-9-2h0m13-9h0m-22-2h0m34-29h0m-3-2h0m4-4h0m13-5h0m11-37h0m29-17h0m12 6h0m0 2h0m-3 1h0m-24 6h0m31 2h0m-30 12h0m-1 1h0m22 2h0m115 272h0m9 39h0m-29 6h0m-3 7h0m21 5h0m-35 13h0m28 0h0m-32 4h0m39 1h0m-2 0h0m-39 10h0m49 2h0m-26 1h0m-48 1h0m14 11h0m4 2h0m12 6h0m35 3h0m-30 0h0m-23 2h0m4 1h0m58 2h0m-8 9h0m-52 3h0m43 5h0m-39 3h0m-35 10h0m92 0h0m-112 4h0m50 1h0m6 1h0m18 6h0m41 5h0m-120 6h0m13 1h0m51 4h0m18 4h0m-78 1h0m71 3h0m-22 1h0m66 1h0m-100 3h0m51 7h0m-27 3h0m-5 2h0m35 0h0m-87 1h0m112 1h0m-45 2h0m-25 2h0m43 2h0m-19 1h0m-15 3h0m33 8h0m-62 6h0m30 4h0m16 2h0m-31 2h0m-10 3h0m78 1h0m-49 0h0m-38 1h0m59 4h0m11 4h0m-44 1h0m15 1h0m-3 1h0m74 1h0m-1 0h0m-12 3h0m1 0h0m-1 1h0m-14 1h0m11 1h0m-91 1h0m-20 1h0m95 0h0m-42 7h0m-44 0h0m7 2h0m81 1h0m-39 2h0m7 5h0m37 2h0m16 1h0m-102 0h0m51 2h0m7 1h0m-21 1h0m21 1h0m-22 0h0m56 0h0m-65 0h0m-3 2h0m66 2h0m-107 1h0m34 1h0m-23 7h0m53 0h0m14 2h0m54 0h0m-102 0h0m-28 4h0m81 1h0m7 1h0m-54 6h0m-12 0h0m17 1h0m-49 0h0m-3 9h0m132 3h0m-60 2h0m-57 0h0m108 2h0m-74 0h0m-9 2h0m11 0h0m26 2h0m-1 1h0m60 0h0m-18 1h0m-123 2h0m32 2h0m-29 1h0m11 1h0m40 0h0m70 1h0m-112 5h0m50 5h0m38 0h0m-25 3h0m-27 2h0m82 3h0m-23 3h0m-100 1h0m90 2h0m4 6h0m-46 2h0m-25 0h0m34 1h0m-33 1h0m80 4h0m-81 1h0m-15 0h0m30 3h0m70 2h0m-45 0h0m-65 3h0m6 3h0m19 2h0m49 1h0m20 0h0m42 1h0m-140 3h0m34 0h0m70 1h0m25 0h0m-114 1h0m111 6h0m-68 3h0m71 2h0m-94 1h0m-7 0h0m62 2h0m-23 5h0m40 2h0m-72 0h0m-20 0h0m33 5h0m-26 4h0m63 1h0m-47 2h0m-27 1h0m55 1h0m48 5h0m-64 1h0m40 0h0m-51 2h0m5 9h0m86 0h0m-125 1h0m1 1h0m66 1h0m48 1h0m-120 2h0m55 6h0m-35 3h0m59 2h0m-81 0h0m92 2h0m9 3h0m38 6h0m-90 0h0m92 4h0m-34 1h0m24 3h0m-44 2h0m-24 0h0m61 1h0m1 4h0m-117 3h0m17 2h0m76 5h0m-11 2h0m-52 3h0m18 1h0m-5 8h0m37 3h0m-31 1h0m8 4h0m25 3h0m-45 1h0m-44 0h0m50 1h0m64 4h0m-71 5h0m22 0h0m49 2h0m1 0h0m-18 3h0m-10 5h0m22 1h0m-1 3h0m-4 1h0m-7 2h0m-54 1h0m-13 1h0m-31 2h0m104 0h0m-53 8h0m-25 3h0m-24 1h0m97 3h0m-7 0h0m-80 9h0m43 1h0m-18 1h0m41 1h0m-65 9h0m68 5h0m15 1h0m-33 6h0m-27 9h0m15 13h0m-43 1h0m17 1h0m37 2h0m-7 6h0m-14 16h0m-35 8h0m-5 17h0m13 4h0m-12 14h0m-2 0h0m155-183h0m-2-26h0m-2-7h0m1-10h0m4-14h0m-6 0h0m30-6h0m2-10h0m-14-6h0m8-4h0m-16-2h0m15-14h0m-22-1h0m12-4h0m22-6h0m-16-8h0m19-2h0m-16 0h0m27-17h0m-33-7h0m3-6h0m-5 0h0m29-9h0m16-3h0m13-15h0m-68-6h0m13-9h0m-2-4h0m38 0h0m48-7h0m-84-9h0m18-6h0m68 0h0m-29-8h0m-65-3h0m50-3h0m48-7h0m-24-4h0m-58-2h0m53-5h0m-62-4h0m79-2h0m-45-3h0m59-1h0m-58-10h0m-52-1h0m16-1h0m101-3h0m-71-3h0m-47-2h0m81-1h0m-80-3h0m68-3h0m-69-1h0m0-2h0m138-2h0m-102-1h0m76-4h0m-12 0h0m-83-2h0m16-1h0m52 0h0m26-1h0m-79-3h0m-29-5h0m134-2h0m-7 0h0m-92-1h0m17-2h0m58-1h0m-8-4h0m12-2h0m-85 0h0m49-2h0m7 0h0m2-1h0m-2 0h0m-83 0h0m61 0h0m18-2h0m-66-5h0m71-1h0m23-3h0m22-4h0m-12 0h0m-25-1h0m-17-2h0m38-5h0m-111-4h0m84-4h0m-79-3h0m54-3h0m0-7h0m64-3h0m-120-3h0m114-1h0m-46-1h0m-29-4h0m-24-1h0m111-2h0m-136-2h0m34 0h0m88-3h0m-68-1h0m39-3h0m-89-2h0m130-10h0m12 0h0m-112-2h0m77 0h0m-28 0h0m19-6h0m-48-1h0m64 0h0m-4-4h0m-98-1h0m75-1h0m-45-2h0m-4-11h0m-30-1h0m107-2h0m-104-4h0m86-2h0m-61-2h0m-20-1h0m8 0h0m102-1h0m-18-1h0m-41 0h0m42-2h0m23-2h0m-3 0h0m-124-1h0m50-1h0m77-3h0m-87 0h0m-32-1h0m15 0h0m19 0h0m27-1h0m33-6h0m-17-13h0m18-1h0m-83-4h0m14 0h0m-19-6h0m91-4h0m-111 0h0m145-2h0m-74 0h0m57-2h0m-89-1h0m-9-4h0m61 0h0m41-2h0m-51-1h0m-9 0h0m55-1h0m4-3h0m-108 0h0m97-1h0m-45-3h0m-18-1h0m69 0h0m-65-1h0m49-2h0m-104-1h0m15-1h0m116-2h0m-56-1h0m-39-1h0m27-1h0m-53 0h0m61-2h0m-54-1h0m41-4h0m-66-5h0m47-7h0m70 0h0m-27-6h0m47-1h0m-81-4h0m-20-1h0m49-4h0m-58-2h0m32-6h0m39 0h0m-34-4h0m69-4h0m-61-2h0m19-2h0m-72-1h0m88-1h0m32-2h0m-94-4h0m31-6h0m35-5h0m14-2h0m3-3h0m9-3h0m6-5h0m-17-4h0m-9 0h0m-32-2h0m17-1h0m-9 0h0m17-8h0m-6-4h0m13 0h0m-6-4h0m-16-8h0m14-7h0m23-4h0m-14-1h0m8-5h0m12-10h0m-20-1h0m-1-17h0m17-214h0m-3-4h0m0-10h0m11-27h0m130-114h0m-27 20h0m-18 14h0m9 19h0m-13 1h0m-27 1h0m8 4h0m-7 7h0m-13 7h0m-11 9h0m-7 6h0m13 21h0m-26 13h0m33 234h0m-12 6h0m38 11h0m-15 13h0m-24 3h0m42 2h0m-43 7h0m33 2h0m12 2h0m-65 2h0m58 1h0m-9 4h0m-6 5h0m-6 4h0m18 1h0m15 4h0m-63 1h0m27 2h0m-35 2h0m66 3h0m-55 0h0m-1 4h0m19 4h0m17 1h0m-29 5h0m13 2h0m16 1h0m-16 1h0m56 0h0m-81 5h0m30 1h0m-37 0h0m33 6h0m34 0h0m5 3h0m-70 2h0m17 8h0m24 5h0m59 0h0m-54 0h0m-47 1h0m86 0h0m-55 1h0m22 1h0m-27 0h0m1 2h0m-3 5h0m89 6h0m-50 9h0m-17 0h0m24 5h0m-33 1h0m51 0h0m-6 3h0m-32 13h0m11 6h0m-15 6h0m-38 4h0m-8 1h0m56 2h0m-45 10h0m-6 3h0m28 1h0m-17 27h0m26 2h0m1 5h0m-32 1h0m14 13h0m20 9h0m-44 8h0m48 1h0m-24 24h0m-9 1h0m-10 2h0m3 28h0m21 28h0m-27 34h0m147-759h0m1-8h0m54-34h0m-24-1h0m0 0h0m2-5h0m12-4h0m12-7h0"/>
<path class="d" stroke="#00ff00" d="M1335 13570h0m5 0h0m-48 34h0m28 1h0m12 5h0m-10 12h0m1 19h0m20 14h0m-7 6h0m-44 9h0m33 1h0m-40 0h0m32 7h0m21 10h0m3 4h0m-54 21h0m124 8h0m34-8h0m-82-7h0m-5-5h0m19-5h0m66-3h0m-20-2h0m5-1h0m-2-4h0m-36-2h0m25 0h0m-52-6h0m90-1h0m-83-5h0m2-1h0m79-3h0m29-1h0m-129-3h0m24 0h0m74-1h0m-62-1h0m1-2h0m108 0h0m-67-6h0m31-4h0m-52-1h0m79-1h0m-68-1h0m17-3h0m56-2h0m-62 0h0m52-8h0m-109-5h0m124-3h0m-51-2h0m-89 0h0m81-3h0m-54-1h0m99 0h0m-24-4h0m34-4h0m-29-1h0m-67-4h0m86-3h0m-86-3h0m17-1h0m61-2h0m-59-3h0m-21-2h0m78-1h0m18-3h0m-11 0h0m-41-4h0m-84 0h0m-2 0h0m20-2h0m6 0h0m52-4h0m7-2h0m-17-1h0m63-4h0m-51-2h0m-49-2h0m58-4h0m44-2h0m-42-1h0m-88-1h0m100-3h0m20-6h0m-2-2h0m-89 0h0m-22-3h0m123-1h0m-48-2h0m8-3h0m-73-3h0m50 0h0m14-3h0m-32-2h0m72-4h0m-12-1h0m-34-2h0m-4-2h0m69-1h0m3-2h0m-85-1h0m-8-1h0m40-14h0m-61-2h0m109-1h0m-19-6h0m3-1h0m-25-1h0m-8-3h0m40 0h0m14-10h0m-56-16h0m49-5h0m-16-8h0m-2-15h0m174-273h0m-31 10h0m-10 4h0m22 10h0m-55 11h0m52 1h0m9 7h0m-15 1h0m-8 8h0m37 1h0m-57 8h0m-17 0h0m5 3h0m18 10h0m-21 5h0m12 8h0m-28 10h0m-16 2h0m-9 9h0m-1 2h0m49 6h0m-59 4h0m-4 3h0m31 3h0m-15 1h0m8 2h0m37 6h0m-45 11h0m-16 0h0m21 1h0m42 0h0m-23 5h0m-39 16h0m-3 45h0m92 53h0m-102 8h0m114 0h0m-70 17h0m33 12h0m-46 1h0m81 3h0m-21 4h0m-44 9h0m3 0h0m50 1h0m-100 3h0m121 7h0m-129 5h0m48 2h0m47 1h0m-12 5h0m-55 2h0m3 2h0m73 6h0m1 1h0m-56 1h0m54 2h0m-26 6h0m-70 5h0m37 0h0m-11 1h0m-29 5h0m65 1h0m-43 1h0m-11 0h0m41 0h0m-11 5h0m-5 2h0m4 4h0m41 4h0m-55 0h0m8 5h0m-6 4h0m27 17h0m6 3h0m12 0h0m-43 1h0m-12 1h0m-13 3h0m14 6h0m-8 8h0m-2 5h0m34 1h0m-16 5h0m-24 7h0m10 24h0m-14 6h0m8 13h0m147-449h0m1-7h0m-6-30h0m5-1h0m-2-22h0m15-10h0m-1-7h0m17-1h0m-9-2h0m3-1h0m-28-2h0m30-6h0m35-1h0m-38-1h0m-29-2h0m21-7h0m79-6h0m0 0h0m-13-1h0m50-4h0m-55-4h0m19-1h0m-10-1h0m-15-3h0m-74-1h0m110 0h0m15-3h0m-39-1h0m-11-7h0m-4-9h0m-2-10h0m48-1h0m7-5h0m-45-1h0m32-7h0m-12-11h0m40 0h0m-26-7h0m-7-14h0m21 0h0m13 0h0m3-5h0m-9-2h0m7-14h0m110-358h0m39 2h0m-20 29h0m14 3h0m-16 16h0m-32 1h0m38 3h0m-25 3h0m0 0h0m6 1h0m-11 7h0m3 3h0m-1 1h0m-14 6h0m17 8h0m-7 7h0m-9 1h0m-22 2h0m5 16h0m3 15h0m-17 5h0m12 1h0m0 8h0m14 0h0m-16 4h0m-7 2h0m-7 1h0m-7 8h0m30 1h0m-20 14h0m20 7h0m-49 5h0m8 0h0m37 14h0m-9 6h0m-25 12h0m20 3h0m-45 11h0m8 0h0m123 7h0m-123 1h0m125 1h0m3 2h0m-30 1h0m-107 7h0m17 3h0m-20 1h0m126 24h0m-26 3h0m36 18h0m-75 1h0m35 0h0m-4 10h0m-42 11h0m63 0h0m-103 5h0m76 2h0m-12 4h0m-21 5h0m-27 6h0m-24 17h0m62 2h0m-58 16h0m-9 13h0m11 0h0m9 0h0m-4 4h0m-15 13h0m15 4h0m135-112h0m13-13h0m-8-11h0m-10-7h0m0-4h0m15-4h0m-7-12h0m-1-1h0m53-7h0m14-1h0m-48-2h0m30-6h0m-25-2h0m-16-1h0m48-4h0m-22 0h0m57-6h0m-70-4h0m72-6h0m-26-2h0m4-5h0m-45-4h0m54-7h0m-6-17h0m57-16h0m-20-2h0m-39-2h0m47-6h0m15-7h0m-13-10h0m9-70h0m-3-7h0m-119-39h0m-3-19h0m-10-2h0m6-9h0m3-11h0m29-5h0m-29-1h0m-1-4h0m-1-3h0m9-3h0m8 0h0m6-20h0m-4-4h0m27-22h0m13-4h0m-23-2h0m-11-4h0m46 0h0m-41-3h0m45-14h0m-27-3h0m34 0h0m-27-13h0m16-3h0m27-1h0m-26-1h0m-1-2h0m24-4h0m-22-4h0m1-3h0m14 0h0m15-2h0m-38-3h0m40 0h0m-1-9h0m-3-8h0m1-11h0m9-3h0m18-11h0m-7-1h0m-7-3h0m11-4h0m6-3h0m7-1h0m-12-8h0m10-7h0m1-1h0m141-208h0m9 4h0m-3 12h0m-9 0h0m6 1h0m2 12h0m-5 15h0m-57 25h0m47 2h0m-33 11h0m9 6h0m-33 14h0m-2 3h0m-14 14h0m20 1h0m11 3h0m-35 1h0m-6 10h0m-2 6h0m-4 2h0m2 4h0m-5 4h0m17 1h0m-3 13h0m-36 12h0m25 5h0m-35 14h0m33 9h0m-38 2h0m9 1h0m-5 12h0m141 15h0m3 17h0m-14 9h0m-9 46h0m12 18h0m-2 21h0m-9 4h0m8 1h0m7 1h0m-29 2h0m32 0h0m-48 10h0m28 6h0m-32 2h0m9 5h0m-34 2h0m47 4h0m27 7h0m-84 9h0m25 7h0m-5 1h0m-15 7h0m10 2h0m-47 5h0m98 5h0m-51 3h0m-13 8h0m4 5h0m25 1h0m-47 2h0m14 5h0m-17 6h0m11 3h0m29 3h0m30 0h0m-77 6h0m51 3h0m-51 1h0m1 1h0m-3 1h0m26 1h0m-31 3h0m64 3h0m-69 3h0m41 1h0m-7 10h0m3 7h0m-51 3h0m33 1h0m-12 1h0m27 8h0m-21 12h0m19 2h0m-35 31h0m-15 1h0m20 7h0m133-211h0m35-9h0m3-46h0m-10-7h0m-8-36h0m50-8h0m-64-12h0m9-19h0m15-9h0m3-4h0m49-1h0m-10-18h0m-8-10h0m24-9h0m-44-3h0m-5-6h0m36-19h0m44-11h0m-10-7h0m-32-7h0m32-6h0m-27-7h0m-2-7h0m60-2h0m-55-3h0m45-1h0m-16-7h0m-12-1h0m37-7h0m-29-4h0m-9-7h0m22-12h0m10-17h0m-28-2h0m18-10h0m9-26h0m-4-3h0m13-4h0m-55-1h0m-73 0h0m21-7h0m-1-4h0m-12-4h0m115-4h0m-102-1h0m1-1h0m80-11h0m-33-15h0m-23-3h0m25-2h0m-32-2h0m22-4h0m61-1h0m-88-13h0m47 0h0m-1-16h0m-15-1h0m22-8h0m4-1h0m-7 0h0m15-5h0m-13-7h0m6-1h0m28-9h0m-14-5h0m20-2h0m-21-7h0m11-4h0m10-1h0m-16-1h0m-5-3h0m27-7h0m-10-1h0m1-10h0m158-207h0m-5 14h0m-18 1h0m22 3h0m1 1h0m-7 2h0m-22 14h0m15 5h0m8 9h0m-11 0h0m-5 4h0m-5 7h0m4 5h0m-3 5h0m-42 2h0m29 0h0m4 1h0m-17 5h0m22 2h0m-3 0h0m2 1h0m-1 2h0m-16 4h0m15 1h0m-23 0h0m18 2h0m-4 3h0m-17 2h0m14 1h0m-6 0h0m37 1h0m-12 7h0m10 0h0m-26 3h0m16 3h0m-29 1h0m-10 4h0m17 2h0m8 1h0m-29 0h0m6 1h0m24 10h0m-5 1h0m-9 0h0m-19 1h0m40 1h0m-20 2h0m-35 9h0m12 4h0m-23 2h0m-23 2h0m52 1h0m30 1h0m-33 0h0m-22 1h0m29 3h0m-34 7h0m15 2h0m28 1h0m-14 2h0m-61 4h0m18 6h0m48 7h0m-27 0h0m-7 8h0m-39 2h0m2 6h0m45 1h0m-47 3h0m83 8h0m-65 1h0m53 4h0m-80 0h0m46 2h0m42 10h0m-34 6h0m3 8h0m-11 24h0m15 6h0m-25 8h0m2 17h0m20 3h0m-25 5h0m-15 1h0m25 1h0m-15 2h0m-24 6h0m33 1h0m-19 12h0m-8 4h0m-7 0h0m28 1h0m16 9h0m-34 6h0m22 3h0m0 15h0m-36 100h0m164-370h0m6-43h0m-9-7h0m-3-8h0m-7-15h0m18-9h0m-4 0h0m5-3h0m-12-4h0m-2 0h0m19-18h0m4-2h0m29-1h0m-43-4h0m13 0h0m-5-7h0"/>
<path class="d" stroke="#ff0000" d="M1924 12651h0m-9 95h0m-4 86h0m-38 16h0m-14 1h0m179 106h0m30-82h0m-115-1h0m7-47h0m91-33h0m33-19h0m-49-67h0m38-3h0m-78-106h0m215-141h0m-25 31h0m7 9h0m-16 7h0m-23 40h0m2 58h0m-20 27h0m-1 34h0m77 28h0m-93 61h0m49 5h0m-57 43h0m10 49h0m112 10h0m7 54h0m-73 47h0m15 2h0m47 14h0m171-98h0m-146-7h0m69-7h0m13-49h0m59-78h0m-58-2h0m-42-26h0m28-10h0m-45-41h0m72-2h0m16-36h0m-95-24h0m1-37h0m118-74h0m-12-27h0m-34-53h0m20-33h0m10-54h0m-9-32h0m0-4h0m-16-85h0m201-317h0m-21 37h0m2 284h0m-55 6h0m69 9h0m-70 47h0m-13 16h0m41 20h0m26 37h0m-18 53h0m-11 11h0m-97 10h0m142 9h0m-99 3h0m52 23h0m52 2h0m-145 59h0m73 3h0m-39 3h0m31 35h0m-29 137h0m5 20h0m34 1h0m1 27h0m-42 29h0m61 31h0m-31 9h0m6 40h0m220-151h0m-78-73h0m68-61h0m-86-26h0m45-7h0m-69-1h0m86-26h0m23-14h0m-67-2h0m-44-17h0m108-5h0m-76-16h0m-35-12h0m6-20h0m21-102h0m-17-2h0m118-27h0m-95-15h0m65-39h0m1-7h0m-65-6h0m80-44h0m12-60h0m-113-19h0m-13-11h0m107-4h0m-21-33h0m35-209h0m-26-79h0m25-22h0m26-19h0m110 28h0m-57 30h0m25 6h0m55 45h0m-66 27h0m-75 22h0m108 11h0m25 115h0m-128 5h0m114 79h0m20 5h0m-113 0h0m93 49h0m-34 22h0m24 6h0m-55 41h0m65 15h0m-56 50h0m-64 12h0m67 5h0m23 9h0m-81 32h0m106 30h0m9 86h0m-27 4h0m31 56h0m-127 23h0m70 3h0m-54 5h0m-20 13h0m11 39h0m-5 21h0m58 13h0m-53 69h0m116 5h0m-20 65h0m-38 3h0m132-70h0m-23-25h0m13-83h0m13-32h0m21-9h0m-21-22h0m-11-6h0m75-3h0m-41-21h0m-29-18h0m12-17h0m25-40h0m-12-22h0m46-13h0m-37-7h0m53-2h0m-48-64h0m-21-3h0m-64-14h0m99-15h0m39-11h0m-11-31h0m9-62h0m-10-2h0m-54-94h0m-32-25h0m91-11h0m-37-102h0m-15-44h0m62-1h0m-67-19h0m21-11h0m-22-4h0m22-33h0m23-82h0m-55-17h0m47-45h0m-26-2h0m-20-80h0m-6-12h0m7-70h0m91-216h0m77 92h0m12 48h0m-24 72h0m57 55h0m-112 59h0m56 18h0m-23 61h0m23 11h0m9 7h0m44 14h0m-81 57h0m72 32h0m-39 60h0m-5 20h0m63 17h0m5 13h0m-87 46h0m-56 22h0m7 4h0m34 99h0m-10 12h0m-33 10h0m30 12h0m97 9h0m-71 8h0m-6 9h0m28 36h0m-26 22h0m95 11h0m-102 54h0m77 43h0m-56 22h0m71 80h0m-110 57h0m56 35h0m14 5h0m-23 51h0m126 33h0m-27-2h0m-20-128h0m56-46h0m0-37h0m85-10h0m-89-20h0m-26-75h0m117-16h0m-44-8h0m-95-6h0m7-83h0m82-32h0m2-8h0m-71-86h0m-8-29h0m3-17h0m21-108h0m-1-98h0m29-16h0m17-16h0m-41-37h0m94-157h0m-48-36h0m-34-34h0m29-93h0m-66-85h0m11-13h0m49-71h0m62-201h0m143-122h0m-107 205h0m53 123h0m38 28h0m-53 37h0m28 34h0m-56 85h0m100 50h0m-54 39h0m-78 37h0m20 58h0m-15 23h0m79 37h0m-52 31h0m-11 86h0m51 13h0m-5 21h0m14 19h0m-46 2h0m-5 18h0m-5 16h0m75 12h0m-89 142h0m-1 9h0m31 19h0m-14 7h0m-18 17h0m4 7h0m92 26h0m3 24h0m-80 62h0m37 90h0m66 32h0m-52 45h0m-53 69h0m11 13h0m154 51h0m100-58h0m-130-18h0m19-26h0m78-48h0m26-3h0m-40-14h0m-80-7h0m-15-46h0m-3-24h0m41-4h0m-37-36h0m-6-91h0m67-143h0m4-1h0m41-44h0m-62-38h0m13-15h0m-52-12h0m136-10h0m-106-42h0m28-56h0m-15-5h0m56-5h0m-106-10h0m53-2h0m18-47h0m-58-32h0m42-9h0m17-88h0m3-75h0m-9-6h0m-58-47h0m106-2h0m-9-4h0m-93-9h0m-7-5h0m67-8h0m21-3h0m38-22h0m-17-217h0m-33-24h0m19-23h0m41-78h0m-46-32h0m-17-121h0m-9-77h0m217 139h0m4 103h0m-72 33h0m-14 111h0m-13 24h0m25 20h0m42 54h0m-108 11h0m39 37h0m26 40h0m-51 29h0m2 30h0m54 4h0m-11 32h0m-47 32h0m72 7h0m-40 15h0m17 151h0m-63 64h0m67 4h0m-60 53h0m84 9h0m48 16h0m-141 18h0m98 54h0m-57 1h0m3 82h0m40 20h0m-8 11h0m61 37h0m-40 46h0m45 23h0m-112 107h0m-8 93h0m69 20h0m-6 17h0m51 27h0m-8 14h0m47-62h0m55-48h0m17-21h0m45-246h0m-6-75h0m-121-23h0m20-15h0m-21-9h0m96-23h0m-10-15h0m16-67h0m-99-244h0m125-47h0m-141-9h0m48-10h0m1-37h0m43-150h0m-81-247h0m162 229h0m95 88h0m-34 9h0m-38 28h0m3 62h0m-28 21h0m123 115h0m-13 67h0m-118 33h0m130 4h0m-131 35h0m103 21h0m26 27h0m-105 10h0m13 1h0m-33 69h0m68 25h0m-71 7h0m43 119h0m-17 30h0m93 58h0m-95 11h0m-11 66h0m81 76h0m-88 58h0m143-12h0m52-117h0m-42-100h0m67-59h0m-47-37h0m-10-17h0m71-17h0m32-11h0m-50-34h0m1-1h0m-85-14h0m39-37h0m91 0h0m-66-28h0m23-48h0m-51-40h0m51-347h0m158 163h0m-97 272h0m9 83h0m26 2h0m-8 161h0m185-229h0m-60-50h0m119-47h0m-107-71h0m149-87h0m19 36h0"/>
<path class="d" stroke="#0000ff" d="M1784 13355h0m-43-16h0m13-195h0m175-519h0m-17 77h0m21 59h0m-12 262h0m4 28h0m-7 27h0m-48 24h0m65 50h0m-100 138h0m-34 17h0m220-32h0m25-2h0m23-9h0m-82-10h0m55-25h0m-64-54h0m98-33h0m-58-65h0m60-70h0m-119-15h0m58-25h0m11 0h0m-41-14h0m112-17h0m-8-75h0m-68-119h0m34-60h0m39-4h0m-109-34h0m75-224h0m98-186h0m72 50h0m-78 118h0m16 58h0m42 33h0m-98 15h0m89 24h0m-56 10h0m97 2h0m-98 123h0m39 34h0m-44 34h0m71 4h0m-82 148h0m-27 22h0m129 95h0m10 73h0m-69 7h0m-7 56h0m-63 35h0m27 32h0m191-9h0m49-35h0m-119-70h0m101-2h0m-25-14h0m48-11h0m-72-15h0m6-108h0m8-95h0m36-50h0m11-1h0m-40-34h0m24-41h0m30-4h0m3-34h0m-20-125h0m-39-20h0m30-49h0m-70-54h0m-23-137h0m80-124h0m-55-91h0m195-185h0m14 3h0m29 3h0m-56 41h0m55 38h0m-79 66h0m83 22h0m-103 20h0m97 48h0m-38 85h0m-61 13h0m-1 33h0m-8 8h0m103 10h0m-108 40h0m57 3h0m11 45h0m-3 22h0m73 11h0m-74 54h0m21 22h0m57 46h0m-6 22h0m-77 174h0m-55 1h0m41 9h0m67 6h0m-68 33h0m28 24h0m65 39h0m-52 122h0m27 11h0m-55 3h0m-33 8h0m27 41h0m8 51h0m-22 45h0m185-54h0m-50-5h0m78-164h0m-92-92h0m28-60h0m31-14h0m2-37h0m9-9h0m-57-91h0m118-20h0m-88-39h0m68-18h0m12-1h0m-65-3h0m-67-51h0m101-37h0m-23-3h0m-81-23h0m132-38h0m-16-18h0m-86-120h0m71-44h0m-52-45h0m23-21h0m-56-85h0m74-57h0m-45-15h0m90-76h0m-10-10h0m-48-12h0m-54-20h0m122-29h0m99-69h0m44 95h0m6 22h0m-72 34h0m-20 47h0m44 6h0m51 76h0m-130 97h0m116 42h0m-111 92h0m66 144h0m-75 33h0m96 18h0m0 18h0m-3 24h0m-46 3h0m-37 1h0m39 91h0m-39 29h0m8 43h0m19 66h0m86 9h0m-5 61h0m-57 13h0m-37 2h0m78 11h0m-42 44h0m34 130h0m-27 25h0m-18 5h0m157 18h0m34-281h0m19-35h0m-116-8h0m66-4h0m-39-44h0m-2-8h0m101-20h0m-42-75h0m18-199h0m-15-23h0m53-65h0m-127-2h0m105-8h0m-24-72h0m-14-8h0m36-14h0m-94-62h0m-6-7h0m13-18h0m72-2h0m-76-11h0m43-14h0m-69-57h0m118-10h0m17-1h0m-113-79h0m85-33h0m-89-183h0m49-22h0m55-21h0m-31-11h0m-1-40h0m-23-12h0m60-37h0m-23-25h0m-59-54h0m71-62h0m-56-39h0m149 178h0m-17 9h0m33 5h0m-53 59h0m-7 11h0m9 0h0m-29 5h0m39 32h0m-30 28h0m-9 84h0m75 256h0m59 70h0m-47 96h0m-38 5h0m91 13h0m-86 2h0m-53 84h0m120 96h0m-19 3h0m17 31h0m-94 12h0m114 9h0m-101 16h0m60 90h0m-60 0h0m42 75h0m9 12h0m12 126h0m-19 66h0m-24 30h0m-4 14h0m239 22h0m-3-73h0m-124-3h0m100-38h0m-25-13h0m51-54h0m-106-56h0m54-13h0m-47-8h0m12-18h0m-18-25h0m-11-146h0m113-17h0m-44-121h0m-64-166h0m71-31h0m20-6h0m-123-48h0m104-30h0m-21-11h0m40-96h0m1-48h0m15-7h0m-139-46h0m121-10h0m-107-15h0m121-36h0m-117-116h0m42-17h0m-46-108h0m44-135h0m25-5h0m56-106h0m-29-2h0m-22-9h0m-57-182h0m169-2h0m-6 1h0m17 141h0m-23 130h0m65 94h0m-7 26h0m-41 58h0m18 5h0m-62 33h0m109 55h0m-109 170h0m32 79h0m-36 5h0m140 28h0m-134 66h0m98 85h0m-103 85h0m12 123h0m-20 21h0m34 7h0m92 82h0m-47 102h0m-13 3h0m13 167h0m5 55h0m73 103h0m42-106h0m14-48h0m48-346h0m19-1h0m-10-169h0m-9-44h0m-72-63h0m56-135h0m20-42h0m-90-91h0m38-121h0m15-67h0m-39-5h0m108-79h0m-113-26h0m71 0h0m-90-116h0m55-13h0m-29-19h0m-20-29h0m67-40h0m52-46h0m-72-71h0m-19-46h0m23-9h0m66-12h0m-115-88h0m241-113h0m-31 92h0m1 98h0m42 229h0m-40 17h0m-80 34h0m105 112h0m-85 94h0m48 116h0m35 7h0m-82 31h0m4 42h0m-1 1h0m5 62h0m13 163h0m72 237h0m-99 20h0m53 26h0m-28 42h0m5 54h0m-25 254h0m-17 81h0m225-97h0m-59-8h0m55-346h0m20-116h0m-26-91h0m-60-122h0m42-117h0m39-45h0m-40-46h0m-50-335h0m13-20h0m-2-193h0m126-40h0m28 1582h0"/>
<path class="d" stroke="#ff0000" d="M1861 12753h0m-25 68h0m80 31h0m-5 35h0m170 39h0m13-9h0m-28-78h0m-96-29h0m87-25h0m-42-28h0m14-5h0m-58-6h0m118-11h0m-129-35h0m71-32h0m-81-26h0m30-36h0m-6-7h0m158-91h0m97 32h0m-121 81h0m51 27h0m48 40h0m-45 33h0m65 23h0m-97 38h0m89 41h0m-20 10h0m33 29h0m-7 53h0m-51 37h0m63 2h0m-122 31h0m159 15h0m79-59h0m-57-36h0m-17-51h0m3-75h0m-9-16h0m24-31h0m58 0h0m25-46h0m-19-22h0m-66-7h0m-27-57h0m96-61h0m-100-92h0m49-43h0m-45-54h0m48-45h0m78-118h0m4-141h0m140-64h0m-14 1h0m-51 66h0m27 49h0m-30 6h0m-19 31h0m-13 9h0m54 9h0m-41 81h0m7 7h0m-34 122h0m38 6h0m87 46h0m-63 1h0m-25 38h0m57 32h0m16 4h0m-130 1h0m47 13h0m72 11h0m-49 18h0m59 18h0m-87 14h0m103 13h0m-61 18h0m-17 15h0m-42 12h0m7 16h0m103 43h0m-20 34h0m-96 15h0m103 6h0m-83 9h0m-17 1h0m58 18h0m-12 8h0m33 36h0m-28 6h0m-1 81h0m32 58h0m129-90h0m25-3h0m-106-39h0m41-27h0m54-16h0m42-1h0m-61-73h0m16-4h0m-81-40h0m102-3h0m-17-168h0m-78-1h0m69-11h0m-67-29h0m-23-4h0m27-11h0m110-20h0m-60-64h0m-13-23h0m18-20h0m3-41h0m44-17h0m-77-49h0m-4-60h0m-39-3h0m22-17h0m30-4h0m-34-4h0m3-9h0m-18-5h0m69-53h0m11-40h0m-78-68h0m106-102h0m34-43h0m127 22h0m-38 100h0m-19 37h0m-57 26h0m101 13h0m28 29h0m-85 32h0m-54 45h0m46 2h0m-55 23h0m-1 24h0m46 3h0m78 16h0m-34 32h0m-63 66h0m103 105h0m-69 70h0m71 39h0m-51 12h0m55 10h0m-18 48h0m-22 2h0m-80 99h0m107 43h0m-26 16h0m2 14h0m-88 8h0m25 44h0m-27 15h0m98 20h0m130-47h0m-76-94h0m85-62h0m49-16h0m-117-39h0m109-27h0m-15-16h0m-61-4h0m55-34h0m-97-28h0m21-11h0m13-62h0m50-17h0m-1-5h0m-79-14h0m45-179h0m31-13h0m-89-29h0m130-47h0m-66-9h0m64-61h0m-79-93h0m85-127h0m-48-6h0m-92-69h0m93-15h0m-85-4h0m9-37h0m36-2h0m18-3h0m24-86h0m23-95h0m116-172h0m51 38h0m-6 1h0m-5 103h0m-62 31h0m2 25h0m-3 113h0m18 59h0m58 70h0m-37 8h0m-53 13h0m10 14h0m-54 71h0m140 29h0m-77 99h0m6 18h0m14 44h0m32 33h0m0 7h0m-121 46h0m79 73h0m13 11h0m44 1h0m-13 85h0m-94 6h0m46 9h0m52 29h0m-86 12h0m83 36h0m-76 8h0m-45 34h0m56 20h0m59 22h0m-54 10h0m-46 12h0m31 147h0m16 51h0m115-76h0m-30-112h0m88-15h0m-64-88h0m45-3h0m-10-16h0m46-4h0m-9-27h0m-89-71h0m76-11h0m25-5h0m26-28h0m-27-3h0m36-56h0m-62-44h0m-4-72h0m-45-35h0m0-56h0m97-3h0m-52-18h0m21-22h0m-49-24h0m5-8h0m35-17h0m-64-37h0m44-16h0m6-19h0m60-17h0m-29-31h0m-13-78h0m-15-24h0m-55-8h0m11-20h0m-19-6h0m110-7h0m-79-19h0m18-18h0m16-32h0m47-2h0m-112-86h0m107-11h0m-25-19h0m28-48h0m-65-97h0m-37-21h0m58-171h0m173 16h0m10 30h0m-4 255h0m-74 6h0m88 14h0m-22 60h0m1 21h0m18 17h0m-106 13h0m36 45h0m-43 59h0m139 5h0m-65 56h0m-70 95h0m70 73h0m50 36h0m-110 52h0m50 23h0m-21 18h0m-47 69h0m130 19h0m-47 110h0m-87 23h0m49 43h0m-16 23h0m106 65h0m-100 16h0m104 28h0m-127 49h0m95 9h0m-7 49h0m20 27h0m44-32h0m78-31h0m-51-42h0m-18-139h0m37-19h0m-14-124h0m33-8h0m-59-29h0m-15-76h0m50-23h0m-52-42h0m50-88h0m1-40h0m7-7h0m43-41h0m-106-27h0m85-84h0m30-17h0m-2-36h0m-38-5h0m-27-18h0m48-37h0m-19-38h0m50 0h0m-123-62h0m76-52h0m54-1h0m-22-23h0m12-18h0m-31-76h0m-43-37h0m78-18h0m-84-29h0m2-15h0m71-29h0m122 12h0m-15 43h0m70 0h0m-12 29h0m-122 172h0m57 6h0m3 26h0m-29 19h0m67 5h0m17 7h0m-128 25h0m120 71h0m-42 136h0m52 9h0m-49 99h0m-38 65h0m30 37h0m-6 8h0m49 12h0m20 31h0m-4 16h0m-94 57h0m57 5h0m5 9h0m9 84h0m-44 19h0m48 39h0m-109 21h0m130 6h0m-60 24h0m-12 71h0m-3 70h0m19 19h0m-50 1h0m-13 31h0m66 29h0m190-55h0m-121-12h0m19-58h0m20-122h0m-10-13h0m89-26h0m-27-18h0m-22-11h0m-69-10h0m17-53h0m51-4h0m42 0h0m-35-56h0m-67-17h0m11-44h0m-10-5h0m140-8h0m-108-54h0m-21-33h0m-20-31h0m70-2h0m-69-80h0m131-51h0m-82-32h0m-19-50h0m15-98h0m27-12h0m-39-31h0m51-19h0m19-37h0m40 0h0m-77-112h0m-1-180h0m196 242h0m-108 23h0m34 12h0m85 80h0m-89 2h0m-22 62h0m16 115h0m90 71h0m-75 16h0m20 12h0m3 1h0m12 49h0m22 139h0m31 98h0m-57 7h0m-32 53h0m29 238h0m213-118h0m-76-110h0m82-37h0m-29-171h0m-72-17h0m44-30h0m-21-30h0m65-219h0m-114 0h0m11-29h0m8-49h0m72-27h0m140 45h0m39 150h0m-1 1h0m-50 3h0m22 21h0m-30 26h0m-74 137h0m59 81h0m3 44h0m10 162h0m83-232h0m110-2h0m-44-347h0"/>
<path class="d" stroke="#0000ff" d="M1760 13407h0m-20-179h0m10-6h0m48-10h0m65-382h0m63 191h0m-56 15h0m7 198h0m-21 90h0m179-404h0m64-54h0m-10-14h0m10-201h0m-19-129h0m-85-14h0m231-284h0m-41 137h0m34 18h0m-66 25h0m37 182h0m-67 217h0m-16 186h0m84 41h0m35 154h0m-68 20h0m187-11h0m-68-12h0m23-101h0m25-149h0m-72-45h0m103-3h0m37-26h0m-21-107h0m-59-11h0m54-8h0m-110-86h0m69-49h0m26-77h0m-96-10h0m96-96h0m-102-23h0m27-4h0m84-8h0m8-145h0m12-16h0m-11-4h0m5-9h0m126-308h0m-50 36h0m-34 90h0m65 85h0m-82 16h0m95 30h0m43 25h0m-127 1h0m94 3h0m-86 22h0m109 2h0m-125 243h0m134 10h0m-9 22h0m-103 8h0m100 5h0m-114 136h0m137 7h0m-55 52h0m23 64h0m-37 22h0m64 4h0m-19 32h0m-83 40h0m42 23h0m-54 15h0m76 18h0m42 27h0m-99 111h0m3 107h0m130-40h0m-21-116h0m133-2h0m-130-39h0m-13-5h0m100-153h0m41-159h0m-102-3h0m-31-5h0m27-51h0m-28-121h0m89-47h0m10-89h0m38-86h0m-135-20h0m23-4h0m78-14h0m-68-3h0m-42-125h0m54-11h0m88-8h0m-81-9h0m-2-18h0m27-33h0m32-62h0m-47-54h0m207-369h0m-15 88h0m36 29h0m-143 40h0m137 31h0m-133 57h0m72 74h0m-74 26h0m37 56h0m32 83h0m-35 80h0m16 112h0m-58 22h0m44 19h0m51 58h0m53 22h0m-99 7h0m80 54h0m-64 17h0m-37 9h0m55 14h0m-77 148h0m108 43h0m-105 44h0m29 62h0m68 77h0m41 41h0m-92 25h0m-14 45h0m174 61h0m-21-58h0m8-27h0m55-184h0m-17-25h0m22-146h0m-89-9h0m123-39h0m-54-22h0m7-36h0m-46 0h0m11-7h0m60-84h0m-124-73h0m86-88h0m45-91h0m13-92h0m-65-16h0m5-202h0m-11-38h0m65-13h0m-99-39h0m58-30h0m7-7h0m-32-24h0m-36-85h0m49-72h0m165-111h0m-36 27h0m-36 46h0m94 210h0m-60 61h0m-32 15h0m55 12h0m-36 25h0m4 13h0m-17 59h0m44 47h0m57 133h0m-122 10h0m22 28h0m43 2h0m13 6h0m50 87h0m-62 36h0m-35 28h0m88 19h0m-96 29h0m20 181h0m-33 29h0m99 35h0m12 6h0m-135 5h0m36 10h0m44 22h0m-55 18h0m112 22h0m-101 54h0m105 77h0m-15 11h0m-45 9h0m-31 13h0m-21 251h0m140 23h0m55-55h0m-69-18h0m18-29h0m53-149h0m-62-22h0m134-103h0m-85-2h0m15-291h0m-69-3h0m58-9h0m6-105h0m48-17h0m-1-53h0m5-109h0m-9-1h0m-4-110h0m-64-38h0m1-24h0m74-13h0m-61-4h0m85-38h0m-127-70h0m100-126h0m-117-72h0m64-90h0m17-65h0m3-3h0m-16-80h0m-7-25h0m9-78h0m180-251h0m-34 181h0m-40 43h0m-20 137h0m6 56h0m11 73h0m71 30h0m-35 348h0m39 80h0m5 45h0m21 90h0m-14 21h0m-45 29h0m30 42h0m-31 71h0m12 0h0m4 33h0m13 390h0m29 50h0m1 141h0m-123 76h0m127 44h0m59-231h0m-21-18h0m22-5h0m4-47h0m2-78h0m26-56h0m62-25h0m-51-57h0m-42-47h0m10-18h0m67-21h0m-34-279h0m43-112h0m-118-11h0m17-38h0m-8-13h0m110-53h0m-46-21h0m19-56h0m-74-76h0m71-235h0m1-20h0m-5-59h0m54-40h0m-111-21h0m5-10h0m100-3h0m-94-35h0m38-5h0m-13-315h0m47-19h0m33 239h0m51 70h0m49 7h0m-92 42h0m28 11h0m47 72h0m10 122h0m-27 88h0m-20 24h0m87 9h0m-15 2h0m-41 111h0m23 269h0m-2 216h0m-27 15h0m-3 51h0m-70 144h0m79 65h0m-36 49h0m120 251h0m-1-27h0m84-28h0m33-159h0m-73-38h0m26-225h0m2-155h0m44-194h0m-35-71h0m0-116h0m43-72h0m-67-120h0m24-120h0m31-139h0m-122-138h0m84-95h0"/>
<path class="d" stroke="#ff0000" d="M1949 12687h0m-99 225h0m136-13h0m181-316h0m-32 47h0m75 35h0m19 14h0m130 69h0m-53-247h0m242-469h0m-57 266h0m53 61h0m-85 320h0m65 16h0m22 48h0m61-36h0m-30-36h0m16-71h0m80-224h0m-41-211h0m78-136h0m74 43h0m13 149h0m-28 6h0m-20 140h0m57 3h0m27 51h0m141 196h0m7-433h0m-71-154h0m-28-28h0m24-46h0m-45-207h0m-6-161h0m89-166h0m169 434h0m-1 188h0m-90 71h0m50 3h0m-68 4h0m14 197h0m104 264h0m115-235h0m-6-26h0m-11-103h0m7-201h0m24-201h0m-100-20h0m95-279h0m141-292h0m6 121h0m-53 431h0m105 118h0m-114 100h0m58 154h0m-71 63h0m9 100h0m205 215h0m29-338h0m6-120h0m8-746h0m-20-211h0m-81-60h0m149 322h0m-17 73h0m52 92h0m-12 26h0m2 137h0m-17 25h0m-16 412h0m253 165h0m11-1h0m-49-316h0m185-470h0m9 17h0m-50 13h0m30 211h0m-95 258h0m34 23h0m-21 20h0m-6 153h0m16 5h0m242-57h0m1-247h0m-40-135h0m-69-369h0m150 313h0m98 144h0m-59 144h0m222-317h0"/>
<path class="d" stroke="#0000ff" d="M3060 11112h0m222 1212h0m-126-343h0m125-126h0m-4-403h0m-126-181h0m259-345h0m-4 212h0m-29 18h0m70 21h0m-58 11h0m-7 9h0m59 104h0m-91 25h0m85 14h0m-36 1h0m-40 129h0m21 27h0m58 67h0m-29 170h0m-24 55h0m-46 68h0m-28 54h0m38 285h0m27 37h0m146 206h0m37-4h0m-2-26h0m32-20h0m-58-564h0m51-47h0m-50-5h0m-67-109h0m94-34h0m-76-47h0m84-53h0m-19-22h0m36-27h0m1-84h0m-58-32h0m23-10h0m-23-14h0m-19-12h0m50-87h0m-60-3h0m45-78h0m-69-3h0m47-92h0m75-11h0m-131-12h0m130-37h0m-13-87h0m85-183h0m51 139h0m4 17h0m-105 1h0m64 18h0m33 41h0m4 111h0m-20 38h0m-56 7h0m27 7h0m-54 20h0m29 11h0m73 73h0m-83 6h0m54 4h0m-46 11h0m-9 53h0m51 12h0m-15 0h0m49 3h0m-1 12h0m-93 5h0m66 1h0m-50 1h0m99 8h0m-135 18h0m38 7h0m-16 5h0m9 37h0m53 6h0m-23 16h0m-62 42h0m15 24h0m119 74h0m-28 70h0m40 91h0m-51 46h0m-20 16h0m-69 366h0m22 27h0m-28 2h0m134 193h0m-113 139h0m104 201h0m159-130h0m-133-40h0m82-28h0m62-73h0m-48-193h0m-14-79h0m-11-7h0m62-179h0m-80-152h0m26-108h0m14-97h0m43-27h0m-140-13h0m3-82h0m65-13h0m-67-14h0m144-10h0m-98-14h0m28-10h0m29-16h0m31-24h0m-70-9h0m-20-84h0m73-10h0m-41-16h0m-55-4h0m42-49h0m-4-4h0m5-1h0m84-30h0m-97 0h0m-12-22h0m59-36h0m-30-7h0m50-42h0m-111-58h0m85-7h0m-52-8h0m1-78h0m13-165h0m34-105h0m19-132h0m158 77h0m-90 21h0m76 44h0m-29 112h0m48 45h0m-1 82h0m-97 17h0m25 40h0m-21 86h0m89 25h0m-49 7h0m-19 5h0m2 26h0m57 34h0m-47 8h0m59 4h0m13 12h0m-90 3h0m38 26h0m-5 28h0m-55 28h0m116 57h0m-121 7h0m36 46h0m-28 20h0m23 6h0m-21 22h0m34 12h0m-13 21h0m14 46h0m62 151h0m-84 150h0m11 375h0m26 305h0m-7 40h0m106-654h0m64-216h0m-83-10h0m72-263h0m-18-43h0m8-260h0m-59-45h0m24-120h0m69-53h0m-90-36h0m8-16h0m32-61h0m-40-40h0m86-27h0m-65-19h0m46-26h0m70-91h0m-41-58h0m-1-48h0m-3-35h0m0-152h0m-15-43h0m199-422h0m-113 167h0m-12 273h0m114 220h0m-79 26h0m35 23h0m8 78h0m19 26h0m-61 125h0m-17 60h0m112 5h0m-54 72h0m42 4h0m-2 66h0m-60 84h0m-27 3h0m56 3h0m-27 258h0m-66 3h0m5 59h0m12 8h0m69 26h0m-26 510h0m-19 134h0m66 250h0m-35 215h0m83-238h0m115-12h0m-102-73h0m46-110h0m71-94h0m0-226h0m-8-333h0m-127-260h0m10-1h0m101-110h0m20-148h0m-91-236h0m39-67h0m-3-42h0m-38-46h0m17 0h0m76-82h0m-5-2h0m7-12h0m-4-30h0m-104-41h0m29-43h0m68-8h0m-42-21h0m-10-26h0m207-241h0m-49 233h0m-62 172h0m8 56h0m55 195h0m-20 63h0m-2 151h0m60 402h0m-100 8h0m117 42h0m-50 31h0m-52 421h0m66 7h0m7 7h0m-6 309h0m121 276h0m39-349h0m-39-300h0m-45-326h0m73-426h0m-79-103h0m48-20h0m51-10h0m15-14h0m-125-439h0m6-222h0m158 101h0m15 64h0m75 337h0m-100 18h0m69 181h0m5 42h0m-30 256h0m41 262h0m-33 244h0m48 47h0m10 135h0m-78 536h0m227-1396h0m-56-110h0m34-676h0m28-259h0m104-311h0m-57 628h0m-16 15h0m72 475h0m-70 53h0m99 153h0m7 564h0m19 238h0m-108 243h0m10 288h0m191-59h0m-11-1178h0m-43-468h0m83-308h0"/>
<path class="d" stroke="#00ffff" d="M2141 12606h0m146 36h0m73-219h0m74 110h0m205-256h0m7-44h0m154 190h0m183-417h0m22-29h0m417-257h0m0 44h0m-7 37h0m556 219h0"/>
</g>
<path d="M118.9 1300.8L370.3 1049.6" clip-path="url(#cp2)" stroke="#000" stroke-width="9.2" stroke-dasharray="36 9 17 9" fill="none"/>
<path d="M370.3 1049.6L741.2 567.6" clip-path="url(#cp2)" stroke="#000" stroke-width="9.2" stroke-dasharray="36 9 17 9" fill="none"/>
<path d="M192.1 1374L370.3 1195.9" clip-path="url(#cp2)" stroke="#000" stroke-width="9.2" stroke-dasharray="36 9 17 9" fill="none"/>
<path d="M370.3 1195.9L741.2 936.4" clip-path="url(#cp2)" stroke="#000" stroke-width="9.2" stroke-dasharray="36 9 17 9" stroke-dashoffset="-2.9" fill="none"/>
<text class="t" x="126.2" y="1419.3" text-anchor="middle">0</text>
<text class="t" x="110.7" y="1380.9" text-anchor="end">0</text>
<text class="t" x="272.6" y="1419.3" text-anchor="middle">20</text>
<text class="t" x="110.7" y="1234.5" text-anchor="end">20</text>
<text class="t" x="419.1" y="1419.3" text-anchor="middle">40</text>
<text class="t" x="110.7" y="1088.2" text-anchor="end">40</text>
<text class="t" x="565.5" y="1419.3" text-anchor="middle">60</text>
<text class="t" x="110.7" y="941.8" text-anchor="end">60</text>
<text class="t" x="711.9" y="1419.3" text-anchor="middle">80</text>
<text class="t" x="110.7" y="795.5" text-anchor="end">80</text>
<text class="a" x="255.2" y="846.4" text-anchor="middle">2014/06/09</text>
<text class="a" x="255.2" y="892.5" text-anchor="middle">LTAN ~21 h</text>
</g>
<g id="panel4">
<clipPath id="cp3"><rect x="880" y="780.1" width="595.4" height="595.1"/></clipPath>
<path d="M888.5 781.3V1374M881.2 1366.7H1474.2M1034.9 781.3V1374M881.2 1220.3H1474.2M1181.4 781.3V1374M881.2 1074H1474.2M1327.8 781.3V1374M881.2 927.6H1474.2M1474.2 781.3V1374M881.2 781.3H1474.2" stroke="#dcdcdc" stroke-width="1.9" fill="none"/>
<rect x="881.2" y="781.3" width="593" height="592.7" fill="none" stroke="#0d0d0d" stroke-width="2.4"/>
<path d="M888.5 1374v-6.5M888.5 781.3v6.5M881.2 1366.7h6.5M1474.2 1366.7h-6.5M1034.9 1374v-6.5M1034.9 781.3v6.5M881.2 1220.3h6.5M1474.2 1220.3h-6.5M1181.4 1374v-6.5M1181.4 781.3v6.5M881.2 1074h6.5M1474.2 1074h-6.5M1327.8 1374v-6.5M1327.8 781.3v6.5M881.2 927.6h6.5M1474.2 927.6h-6.5M1474.2 1374v-6.5M1474.2 781.3v6.5M881.2 781.3h6.5M1474.2 781.3h-6.5" stroke="#0d0d0d" stroke-width="2" fill="none"/>
<path d="M881.2 1374L1474.2 781.3" stroke="#000" stroke-width="1.6" fill="none"/>
<g transform="scale(.1)">
<path class="d" stroke="#00ff00" d="M8975 13713h0m-75-1h0m-4-1h0m83-1h0m-43-1h0m52-1h0m-98-2h0m100-2h0m-3-3h0m-19-3h0m-66-1h0m86-1h0m-37 0h0m-20-6h0m42-4h0m-78-4h0m31-1h0m-8-2h0m-13 0h0m71-3h0m-90 0h0m57-1h0m29 0h0m-35-6h0m34-3h0m14 0h0m-39 0h0m19-2h0m-65-3h0m69-1h0m-38-6h0m0-2h0m-46 0h0m108 0h0m-68-2h0m-25-4h0m7-3h0m-13-6h0m49-1h0m-31-2h0m24 0h0m-5-3h0m59-2h0m-50 0h0m-54-1h0m60-1h0m-53-3h0m17-4h0m17-3h0m14 0h0m-8-1h0m16-1h0m-23-6h0m18-8h0m-19-6h0m-30-3h0m0-3h0m86 0h0m-35-5h0m-27-5h0m1-4h0m26-4h0m-44 0h0m65-1h0m26-5h0m-74 0h0m77-2h0m-31-9h0m-78-2h0m77-2h0m-40-2h0m58-1h0m-98 0h0m-26-3h0m20-2h0m24-5h0m37-1h0m25-1h0m-3-1h0m-44-1h0m2-1h0m20-1h0m-52-3h0m95 0h0m-69 0h0m5-5h0m48 0h0m-68-6h0m29-1h0m-40-1h0m70-3h0m-15-1h0m47 0h0m-117-2h0m14-2h0m76-6h0m-30-3h0m-26-2h0m37-1h0m53-16h0m-2-1h0m-22-6h0m17-1h0m-43-4h0m12-2h0m16 0h0m-60 0h0m73-2h0m-24 0h0m-32-1h0m36-1h0m-21-2h0m21-1h0m9 0h0m12 0h0m-77-2h0m-30-1h0m40-5h0m57 0h0m-61-1h0m-10-2h0m50-7h0m-7-2h0m45-4h0m-37-1h0m-42-6h0m-36-1h0m84-1h0m-95-2h0m2-4h0m67-3h0m-8-3h0m50-6h0m3-4h0m-76-1h0m13-2h0m49-2h0m25-1h0m-63-4h0m31-3h0m-71-1h0m64-1h0m3 0h0m-2 0h0m-87-1h0m69-3h0m20-1h0m39 0h0m-71-2h0m-67-5h0m45-1h0m45-4h0m18-3h0m-44-2h0m69-4h0m-33-2h0m-8 0h0m6-2h0m-2-1h0m-25-1h0m-27-1h0m18-3h0m50-1h0m-75-1h0m78-2h0m-79-16h0m-9-7h0m19-2h0m75-3h0m-44-2h0m12-1h0m-69-1h0m109-2h0m0-1h0m-18-4h0m-70-1h0m26-2h0m11-1h0m-15-3h0m-35-1h0m75-8h0m30-1h0m-9-1h0m-65 0h0m3-3h0m26 0h0m-49-3h0m18 0h0m-29-5h0m17-2h0m90 0h0m-22-17h0m-51-2h0m-31-1h0m93-1h0m-101-4h0m26-3h0m84-2h0m-61-1h0m43 0h0m-16-3h0m-72 0h0m23-3h0m10-1h0m14 0h0m3-6h0m30 0h0m-45 0h0m2-1h0m25-1h0m-22-2h0m8-3h0m4-2h0m7-1h0m23-5h0m-49 0h0m2-7h0m-32-1h0m25-1h0m10 0h0m4-1h0m69 0h0m-121-2h0m63 0h0m-42-1h0m63-1h0m-51-2h0m14 0h0m-25-1h0m34-1h0m18 0h0m30-1h0m-90-1h0m27-2h0m-21-3h0m-4-1h0m4-3h0m36-3h0m-49-10h0m103-1h0m-77-6h0m14-3h0m-18 0h0m16-4h0m-17-1h0m10 0h0m-2-3h0m21-1h0m-14-4h0m-6-1h0m43-1h0m-31-1h0m-2-2h0m38-4h0m-32-1h0m24-2h0m-34-5h0m5-2h0m-27-2h0m4-1h0m5-4h0m42-3h0m43 0h0m-2-2h0m-29-2h0m14-1h0m-38-1h0m-39-1h0m30-3h0m-16-5h0m-20 0h0m37-3h0m-39-2h0m13-1h0m52-2h0m-17-4h0m-44-3h0m84-5h0m-2-3h0m-48-1h0m38-3h0m-34-7h0m10-1h0m-50-5h0m108-8h0m-101-27h0m7-3h0m-7-6h0m-6-9h0m-11-4h0m2-1h0m25-16h0m-41-5h0m28-2h0m5-1h0m-16-1h0m13-3h0m-13 0h0m11-1h0m-7-6h0m0-4h0m-12-21h0m6-2h0m17-28h0m-10-7h0m7-14h0m-7-9h0m9 0h0m-4-7h0m9-8h0m-14-2h0m16-7h0m-20-16h0m20-12h0m7-6h0m-3-5h0m0-1h0m7-3h0m-6-7h0m5-23h0m12-7h0m-14-1h0m-10-16h0m21-8h0m-5-24h0m4 0h0m-1-1h0m-7-1h0m23-1h0m-9-2h0m-4-2h0m0-1h0m-12-2h0m5-2h0m18-2h0m-17-3h0m10-1h0m6-16h0m-14-8h0m21-1h0m-9-9h0m32 0h0m-35-3h0m12-9h0m-5-4h0m-4 0h0m18-12h0m-20-15h0m22-7h0m-24-2h0m32-8h0m-8-5h0m9-9h0m-1-13h0m-7-5h0m24-11h0m-3-11h0m-2-11h0m-12-5h0m-2-3h0m-1-3h0m25-1h0m-13-3h0m0-2h0m0-2h0m13 0h0m6-2h0m-20-1h0m17 0h0m-12-2h0m3 0h0m-16-1h0m34-5h0m65-9h0m-51 8h0m51 0h0m-24 1h0m-31 1h0m2 0h0m0 1h0m4 1h0m42 5h0m-6 0h0m31 8h0m52 0h0m-78 1h0m23 2h0m47 1h0m3 0h0m5 0h0m-57 1h0m37 0h0m-5 1h0m23 1h0m-49 1h0m36 1h0m6 6h0m18 3h0m-27 0h0m24 3h0m-63 205h0m-15 9h0m-5 10h0m30 0h0m-6 3h0m-22 4h0m-9 1h0m14 22h0m15 1h0m0 1h0m-11 10h0m-10 16h0m4 6h0m-3 0h0m6 1h0m-18 8h0m26 2h0m-12 4h0m-11 8h0m-8 7h0m13 5h0m-6 11h0m-3 1h0m12 3h0m-14 21h0m4 8h0m-18 0h0m10 7h0m5 25h0m-10 5h0m-12 5h0m2 43h0m-13 0h0m15 4h0m-10 1h0m-10 4h0m2 6h0m6 24h0m-10 29h0m2 84h0m11 72h0m-13 4h0m1 21h0m10 10h0m14 0h0m-19 13h0m11 1h0m-7 3h0m3 3h0m13 3h0m5 7h0m-11 3h0m-5 14h0m-6 11h0m21 0h0m-7 2h0m-10 7h0m15 3h0m1 0h0m-16 5h0m-4 6h0m3 3h0m21 3h0m-26 6h0m21 1h0m4 4h0m6 2h0m7 5h0m4 0h0m-6 3h0m-40 7h0m47 5h0m4 14h0m8 2h0m-21 2h0m-30 23h0m25 7h0m-36 1h0m7 1h0m69 2h0m-53 0h0m50 3h0m-72 4h0m77 4h0m-31 1h0m7 1h0m-52 7h0m70 2h0m-32 1h0m-27 13h0m22 2h0m20 4h0m-7 1h0m33 2h0m-23 4h0m50 0h0m-65 3h0m9 3h0m-21 2h0m21 2h0m-32 0h0m2 3h0m-8 2h0m22 7h0m26 8h0m-44 3h0m18 3h0m-16 0h0m-17 5h0m51 6h0m-9 8h0m13 7h0m-30 3h0m58 5h0m-86 4h0m18 0h0m28 3h0m7 1h0m-43 1h0m9 2h0m5 18h0m42 3h0m10 12h0m-22 3h0m11 3h0m-47 5h0m29 0h0m17 4h0m-46 0h0m50 2h0m-53 3h0m53 6h0m-14 1h0m-18 6h0m-15 2h0m45 2h0m6 1h0m-3 1h0m-30 3h0m-25 1h0m29 7h0m15 1h0m-45 1h0m7 1h0m31 1h0m1 27h0m-30 8h0m-19 6h0m8 16h0m152-1151h0"/>
<path class="d" stroke="#00ff00" d="M9294 13258h0m-8-61h0m1-32h0m109-137h0m45 17h0m-77 4h0m-15 13h0m73 2h0m22 5h0m-72 1h0m-65 1h0m-6 3h0m63 4h0m27 1h0m-54 5h0m-37 0h0m23 6h0m59 8h0m67 1h0m-128 2h0m85 0h0m40 6h0m-115 7h0m106 4h0m-100 2h0m26 3h0m45 4h0m-66 4h0m5 2h0m37 5h0m49 1h0m-26 1h0m27 3h0m1 5h0m5 7h0m-107 4h0m107 5h0m-5 1h0m-66 3h0m19 0h0m-41 12h0m89 3h0m-126 8h0m84 1h0m-4 10h0m-27 1h0m74 1h0m-31 0h0m-105 0h0m44 1h0m35 3h0m7 9h0m47 9h0m-64 0h0m65 4h0m11 1h0m-67 1h0m4 6h0m-44 1h0m-37 9h0m26 1h0m-20 8h0m50 32h0m-52 9h0m265-75h0m15-4h0m-136 0h0m13-5h0m26-10h0m-34-6h0m72-6h0m-24-1h0m69-2h0m-52 0h0m-20-2h0m-44-10h0m69-1h0m34-14h0m-105-2h0m45 0h0m18-3h0m65-3h0m-49-8h0m-33-7h0m24-3h0m-54-4h0m48-6h0m-27-6h0m53-8h0m5-3h0m38-7h0m-43-3h0m20-4h0m-104-4h0m-5-4h0m134-5h0m-18-2h0m-28-3h0m-58-2h0m31 0h0m-51-2h0m13-2h0m13 0h0m-31-14h0m21-2h0m52-5h0m-67-1h0m32-4h0m-40-1h0m-8 0h0m121-1h0m6-6h0m-76-1h0m91-15h0m-82-2h0m-4 0h0m72-1h0m-77-7h0m100 15h0m32 9h0m24 4h0m45 10h0m-68 1h0m-3 6h0m13 2h0m36 13h0m43 0h0m-87 4h0m63 4h0m-4 2h0m-58 0h0m-15 2h0m19 6h0m65 1h0m-94 1h0m125 0h0m-44 6h0m-7 1h0m-58 0h0m74 3h0m11 3h0m-105 0h0m84 0h0m-72 2h0m94 2h0m-55 6h0m-49 10h0m48 0h0m-54 0h0m5 1h0m119 1h0m-44 2h0m39 0h0m-7 1h0m-104 7h0m18 4h0m70 0h0m-45 1h0m-40 3h0m16 4h0m-27 14h0m98 1h0m-26 6h0m-71 3h0m58 3h0m9 3h0m-35 2h0m-33 1h0m4 0h0m-7 6h0m127 5h0m-60 5h0m-28 4h0m82 12h0m-85 1h0m53 3h0m-25 2h0m118-30h0m-25 0h0m29-4h0m110-13h0m-46-1h0m17-11h0m-103 0h0m30-2h0m100-5h0m-57-1h0m-6-1h0m-67-1h0m10-3h0m93-5h0m-108-4h0m57-3h0m-32 0h0m102-4h0m-62-2h0m17-1h0m-44-4h0m-7-15h0m-37 0h0m22-3h0m122-2h0m-89-4h0m-50-1h0m11-7h0m24-4h0m8-1h0m28-1h0m-44 0h0m40-2h0m-35-2h0m11-5h0m76-1h0m-77 0h0m32-1h0m-43-1h0m-33-6h0m58-5h0m-12-2h0m46-1h0m9-4h0m10-2h0m-62-4h0m-13-1h0m181 4h0m-7 10h0m-48 7h0m25 0h0m22 3h0m36 4h0m-95 2h0m24 2h0m47 1h0m-56 2h0m18 4h0m85 5h0m-46 3h0m22 6h0m-20 2h0m-47 6h0m81 10h0m-42 3h0m3 3h0m-10 5h0m60 13h0m-62 4h0m28 1h0m-6 18h0m-51 19h0m128-71h0m0-23h0m19-2h0m-9-10h0m49-1h0m-63-2h0m16-13h0m17-3h0m-30-15h0m-10-6h0m72-21h0"/>
<path class="d" stroke="#00ffff" d="M9134 12631h0m13 13h0m-15 13h0m-10 19h0m21 9h0m-47 6h0m16 6h0m23 12h0m12 22h0m-52 28h0m34 14h0m-47 1h0m30 4h0m-15 2h0m-7 5h0m30 8h0m-23 3h0m47 2h0m-36 14h0m35 0h0m0 1h0m-27 7h0m5 26h0m27 7h0m-64 2h0m17 7h0m-8 1h0m-52 6h0m62 0h0m-13 9h0m34 0h0m-30 16h0m-33 11h0m39 31h0m-12 14h0m36 1h0m18 4h0m-17 2h0m-59 2h0m52 6h0m1 20h0m-21 10h0m18 1h0m-2 18h0m9 3h0m15 9h0m-43 6h0m50 2h0m-43 5h0m16 13h0m-32 10h0m22 3h0m5 4h0m10 3h0m-45 1h0m43 9h0m2 7h0m-20 24h0m-27 1h0m44 1h0m-35 9h0m50 4h0m14 27h0m-16 3h0m-36 7h0m30 29h0m22 1h0m-54 2h0m47 1h0m-46 6h0m26 0h0m-3 3h0m-2 1h0m-24 15h0m40 7h0m-4 43h0m17 2h0m-18 17h0m12 15h0m7 2h0m-25 16h0m25 19h0m-31 43h0m26 10h0m4 37h0m3 1h0m-10 17h0m-11 51h0m10 11h0m-29 1h0m31 9h0m-13 22h0m22 21h0m-20 0h0m-7 4h0m1 3h0m16 12h0m-15 2h0m48 36h0m-1-12h0m38-24h0m-3-12h0m-50-13h0m63 0h0m-12-7h0m14-2h0m-67-1h0m42-4h0m-39-5h0m27-4h0m40-5h0m14-2h0m-22-1h0m22-6h0m-29-11h0m7-1h0m-49-2h0m68-3h0m-62-4h0m3-1h0m81-2h0m-103-1h0m110-6h0m-89-1h0m1 0h0m32-10h0m-26-2h0m-11-3h0m75 0h0m-41-14h0m-27-6h0m87-5h0m-4-29h0m-93-3h0m46-3h0m-52-1h0m31-10h0m-36-1h0m124-1h0m-76-6h0m87-4h0m-51-2h0m1-3h0m-66-13h0m115-4h0m-37-2h0m16-2h0m16-2h0m-59 0h0m-58-1h0m97-3h0m-1-8h0m-95-1h0m100-4h0m19-7h0m-34-1h0m-40-1h0m-59-4h0m91-10h0m17-3h0m-24-3h0m34-1h0m-32-3h0m24-4h0m13-1h0m-121-4h0m50-3h0m-49 0h0m93-4h0m18-2h0m-66-1h0m-14-1h0m45-2h0m-81-4h0m107-3h0m-58-2h0m-33-4h0m56-4h0m12-8h0m-52-7h0m102-6h0m-43-5h0m-59-7h0m63-9h0m48-2h0m-93-2h0m16-5h0m-54-9h0m66 0h0m26-4h0m-56-1h0m12-9h0m-18-3h0m103-2h0m-18-4h0m-68-5h0m70-9h0m-16-4h0m9-4h0m-86-4h0m93-3h0m-109-20h0m119-3h0m-6-3h0m-52-10h0m-17-4h0m55-2h0m-104-1h0m90-2h0m31-3h0m-31 0h0m-7-1h0m-10-3h0m-84-4h0m128-2h0m-84-1h0m24-2h0m11-1h0m-47-6h0m109-1h0m-124-11h0m118-3h0m-92-2h0m93-1h0m-13-4h0m-119-3h0m83-1h0m-4-12h0m-20 0h0m33-3h0m7-1h0m-6 0h0m-88-1h0m103-5h0m-5-8h0m-44-1h0m14-6h0m10-1h0m-44-2h0m7-6h0m47-1h0m-43 0h0m15-3h0m-34-1h0m106-3h0m-81-1h0m69-5h0m-23-5h0m-3-29h0m-50-3h0m16-12h0m66-4h0m-88-3h0m-8-1h0m49-4h0m-36-2h0m-44 0h0m-12-4h0m61-1h0m81-12h0m-63-2h0m-8-8h0m63-2h0m-72-2h0m67-3h0m-49-1h0m50-2h0m15-7h0m-71 0h0m4-6h0m-41-4h0m101 0h0m-9-9h0m-88-1h0m79-2h0m-57-2h0m57-1h0m-109-3h0m48-1h0m-54-1h0m115-4h0m-1-1h0m-73-14h0m-27-8h0m-16-2h0m23-11h0m-15-3h0m1-2h0m96-2h0m-29-3h0m61-5h0m-85-2h0m49-5h0m-70-12h0m78-4h0m11-4h0m-115-5h0m9-1h0m21-18h0m-19-1h0m34-12h0m-52-6h0m144-5h0m-145-6h0m44-2h0m54-6h0m-15-7h0m62 0h0m0-2h0m-114-3h0m100-2h0m-30 0h0m26 0h0m-125-2h0m71-6h0m11-4h0m61-12h0m-17-1h0m-98-1h0m57-2h0m-35-8h0m25-1h0m-18-3h0m-39-5h0m-17-1h0m-6 0h0m130-3h0m-81-1h0m16-18h0m50-5h0m-39-1h0m58-5h0m-38-9h0m-87-5h0m56-2h0m52-4h0m18-13h0m-54-1h0m22-10h0m-37-1h0m72-2h0m-24-4h0m-56-13h0m29-6h0m54-2h0m-15-24h0m125-31h0m-45 0h0m-19 7h0m59 14h0m4 1h0m-39 2h0m-29 1h0m-29 4h0m23 6h0m-25 5h0m137 0h0m-118 8h0m0 4h0m108 2h0m11 1h0m-103 4h0m7 11h0m2 5h0m24 0h0m53 1h0m12 7h0m-35 11h0m-39 0h0m-27 4h0m62 6h0m-47 1h0m-12 2h0m107 3h0m-82 1h0m-4 6h0m-38 4h0m3 3h0m101 3h0m-89 2h0m5 2h0m-27 6h0m15 6h0m93 0h0m-11 3h0m19 1h0m-21 1h0m10 1h0m29 1h0m-9 4h0m-69 3h0m-25 3h0m12 4h0m-36 5h0m75 10h0m52 2h0m-62 12h0m-19 7h0m16 0h0m-48 3h0m85 4h0m25 5h0m-106 5h0m-11 4h0m4 2h0m-9 2h0m65 4h0m-54 8h0m47 1h0m-62 12h0m50 4h0m15 0h0m-58 5h0m-19 1h0m83 2h0m60 6h0m-14 9h0m-12 8h0m10 3h0m-1 25h0m-67 7h0m-26 5h0m-16 4h0m87 2h0m-45 3h0m61 0h0m-93 5h0m40 6h0m-53 7h0m7 9h0m26 3h0m42 0h0m24 7h0m-65 4h0m-40 5h0m103 2h0m29 8h0m-15 1h0m-10 1h0m-20 1h0m-21 0h0m36 2h0m13 4h0m-61 11h0m49 12h0m-33 4h0m-35 1h0m-35 3h0m-6 1h0m81 4h0m-41 0h0m29 4h0m-35 2h0m67 0h0m-89 1h0m82 12h0m-9 6h0m-52 5h0m70 4h0m-70 2h0m-11 1h0m-11 2h0m49 14h0m-48 8h0m-20 0h0m53 2h0m12 3h0m-28 3h0m41 5h0m-45 5h0m-26 2h0m90 5h0m-2 6h0m-50 3h0m36 3h0m-53 4h0m61 4h0m-81 3h0m80 2h0m-3 1h0m6 2h0m-68 21h0m-18 9h0m40 1h0m-19 17h0m37 2h0m4 7h0m-37 17h0m17 34h0m-37 5h0m31 31h0m-9 13h0m-29 3h0m8 22h0m6 13h0m11 17h0m-8 19h0m-14 23h0m26 18h0m-18 4h0m3 18h0m-1 14h0m-15 47h0m168-657h0m-14-6h0m-5-25h0m0-5h0m33-6h0m-25-4h0m-3-24h0m-4-5h0m2-5h0m28-38h0m-20-1h0m8-5h0m-16-8h0m13-19h0m11-1h0m-25-17h0m8-7h0"/>
<path class="d" stroke="#0000ff" d="M8992 13062h0m143-333h0m-10 12h0m-1 12h0m9 11h0m3 1h0m-39 1h0m4 40h0m-13 4h0m-7 5h0m44 2h0m7 9h0m-8 3h0m-41 13h0m53 7h0m-38 5h0m-15 132h0m-26 22h0m-45 5h0m21 5h0m17 2h0m-17 1h0m64 4h0m36 2h0m-15 9h0m-38 5h0m-40 6h0m70 12h0m33 2h0m6 10h0m-94 4h0m-3 5h0m-23 3h0m9 0h0m72 4h0m-73 4h0m19 11h0m-39 4h0m113 7h0m-27 6h0m-55 0h0m24 13h0m52 3h0m-111 4h0m129 6h0m-136 0h0m69 4h0m-8 1h0m57 5h0m-47 3h0m-26 2h0m51 12h0m25 261h0m-22 22h0m29 7h0m-15 22h0m34-336h0m13-21h0m27-11h0m-4-2h0m19-10h0m-29-2h0m21-21h0m22-1h0m-7-6h0m-61-12h0m21-5h0m61-12h0m-20-18h0m-48-2h0m-15-3h0m98-4h0m4-8h0m-31-3h0m-63-1h0m45-1h0m56-15h0m-95-4h0m11-7h0m-17-126h0m-11 0h0m7-14h0m36-6h0m65-18h0m-61 0h0m86-1h0m-65-2h0m-47 0h0m79-1h0m41-1h0m-62-1h0m-60-5h0m66-12h0m42-3h0m-20-1h0m-52 0h0m15 0h0m-1-48h0m22-2h0m-46-3h0m47-2h0m-61-1h0m-3 0h0m65-2h0m-63-2h0m108-8h0m-17-3h0m-107-1h0m16-3h0m65-12h0m-19-1h0m35-6h0m5-7h0m45 0h0m34 4h0m-21 24h0m-5 6h0m9 15h0m23 21h0m0 1h0m-36 4h0m-11 6h0m7 7h0m30 1h0"/>
<path class="d" stroke="#ff0000" d="M8981 13382h0m-13 0h0m12-3h0m-6-2h0m-37-1h0m5-8h0m43-14h0m-9-22h0m-21-13h0m-21-7h0m40-13h0m24-2h0m-19-13h0m-53-17h0m25-1h0m-11-15h0m7-5h0m36-17h0m-40-16h0m45-29h0m-20-206h0m-13-1h0m16-4h0m10-1h0m7-6h0m-26-1h0m26-2h0m1 0h0m-25-256h0m-17-10h0m28-13h0m-4-9h0m24-6h0m1-1h0m-1-3h0m-15-8h0m19-21h0m29-16h0m16 4h0m17 0h0m-33 1h0m10 2h0m-3 5h0m-24 1h0m15 1h0m45 5h0m-45 1h0m-15 2h0m9 4h0m-9 2h0m117 0h0m-64 1h0m23 2h0m-87 1h0m78 3h0m-21 1h0m34 4h0m2 1h0m-72 1h0m77 0h0m-86 2h0m83 0h0m9 1h0m12 0h0m-15 1h0m-84 1h0m98 1h0m-1 2h0m-18 250h0m-47 4h0m10 4h0m3 4h0m56 5h0m-84 2h0m-21 2h0m135 3h0m-14 2h0m-35 1h0m-69 1h0m24 0h0m28 0h0m-56 3h0m63 1h0m-14 4h0m-75 4h0m28 220h0m-15 2h0m52 4h0m-35 6h0m2 17h0m-5 5h0m-17 2h0m5 2h0m41 1h0m28 1h0m-31 0h0m-24 10h0m25 10h0m-22 2h0m9 1h0m-33 3h0m61 4h0m-49 5h0m60 4h0m-64 2h0m30 8h0m-21 3h0m-15 1h0m-6 6h0m76 1h0m-31 4h0m37 0h0m-49 23h0m33 3h0m-33 3h0m-15 1h0m73 6h0m-4 3h0m-86 1h0m42 16h0m-6 2h0m-1 14h0m0 4h0m-19 11h0m-18 24h0m431-786h0m-7 104h0m12 2h0m-16 17h0m14 4h0m-11 5h0m17 50h0m-30 4h0m0 7h0m2 4h0m-52 27h0m26 55h0m31 6h0m28 13h0m-23 6h0m8 52h0m-3 5h0m-15 4h0m25 3h0m-2 8h0m-11 11h0m11 27h0m-4 3h0m14 3h0m111 84h0m-11-3h0m-11-11h0m9 0h0m6-2h0m16-3h0m20 0h0m-19-2h0m-41-1h0m21 0h0m-25-4h0m7-1h0m-65-2h0m-13-1h0m100-1h0m-39-3h0m61-2h0m2-5h0m6-1h0m-27 0h0m30-1h0m-57-2h0m17 0h0m30 0h0m-2-1h0m-55-2h0m-61-2h0m140 0h0m-25-1h0m20-1h0m-64-1h0m-33-1h0m73 0h0m-97-2h0m122 0h0m-54-3h0m-7-7h0m-3-1h0m52-4h0m-6-1h0m-76-8h0m-50 0h0m99 0h0m-36-3h0m-29 0h0m88-1h0m-19-1h0m40-1h0m-21-3h0m-94-1h0m99-3h0m-126 0h0m46-2h0m89-1h0m-97 0h0m47 0h0m9-1h0m54-4h0m-53-1h0m29-1h0m16-5h0m-25-1h0m-67 0h0m87-1h0m-127 0h0m69-1h0m5 0h0m-53-4h0m26-2h0m1-1h0m92-1h0m-57-2h0m-51-1h0m64-2h0m-20-1h0m-19-6h0m76 0h0m-49-2h0m43-2h0m-58-3h0m-55-1h0m83-1h0m-106-1h0m128 0h0m13-1h0m-86-3h0m18 0h0m-36-1h0m-7-3h0m1-2h0m86-3h0m-68 0h0m89-1h0m-18-2h0m-68-3h0m-13-1h0m107-3h0m-123-2h0m52-1h0m-15-1h0m34-1h0m-17-2h0m32 0h0m-68-1h0m6-3h0m80-3h0m-119-1h0m98-1h0m23 0h0m-45-2h0m3 0h0m-86-1h0m54-3h0m34-1h0m17-1h0m36-3h0m-8-1h0m-19 0h0m-94-6h0m-7 0h0m54-1h0m56 0h0m-43-3h0m37 0h0m-66-2h0m89-5h0m-129-2h0m3-2h0m14 0h0m119 0h0m-135-1h0m6-2h0m76-1h0m41 0h0m-64-1h0m23-1h0m-12-3h0m9-1h0m8 0h0m14 0h0m-69-1h0m0 0h0m74-2h0m-36-3h0m8-1h0m-20-2h0m-19-1h0m-6 0h0m37 0h0m-3-1h0m-1 0h0m44-4h0m20 0h0m-92-1h0m97-1h0m1-1h0m-44-3h0m-14-2h0m32-1h0m20-4h0m-4 0h0m-50-1h0m39-1h0m13 0h0m-100-1h0m67-1h0m36-3h0m-87-2h0m62-3h0m-101-2h0m118-1h0m-18-3h0m-15-3h0m24-1h0m-24-3h0m22-2h0m16-2h0m-40-2h0m-17-1h0m2-1h0m9-2h0m34-7h0m-29-11h0m47-2h0m-32-4h0m8-5h0m-106-3h0m82 0h0m-53-2h0m66 0h0m-94-4h0m56-1h0m-30-3h0m30 0h0m-46-2h0m90-1h0m-112-4h0m21-4h0m54-5h0m-47-1h0m59-3h0m38 0h0m-66-3h0m11-1h0m60-2h0m-47-2h0m12-5h0m27 0h0m-81-1h0m57 0h0m24 0h0m-15-4h0m23-1h0m10 0h0m1-3h0m-37-3h0m19-2h0m-11-2h0m-26-2h0m47-1h0m-30 0h0m-103-5h0m23-5h0m-10-4h0m-12-1h0m3-1h0m0-3h0m42-1h0m20-1h0m51-9h0m-71-1h0m5-5h0m-23 0h0m15 0h0m-16-3h0m89 0h0m-36-5h0m-35-5h0m37-6h0m2-1h0m8-11h0m-37-4h0m80-2h0m-13-1h0m-26-1h0m16-1h0m-1-2h0m32-3h0m-53-6h0m32-22h0m-41-5h0m44-12h0m-86-1h0m24-4h0m77 0h0m-139-1h0m1-2h0m17 0h0m1-7h0m72-9h0m-26-5h0m31 0h0m17-1h0m-45-5h0m62 0h0m10-4h0m-36-1h0m-10-7h0m-42-11h0m0-43h0m50-5h0m-81-63h0m205-96h0m5 56h0m-15 60h0m-30 10h0m76 18h0m10 5h0m9 3h0m-9 11h0m-35 2h0m-47 4h0m34 0h0m35 2h0m19 7h0m11 3h0m-67 4h0m0 0h0m51 3h0m10 1h0m2 0h0m-68 4h0m-64 5h0m90 3h0m11 0h0m-51 0h0m65 1h0m2 3h0m-67 2h0m46 5h0m-34 2h0m-10 0h0m-31 1h0m8 4h0m56 1h0m-49 0h0m28 1h0m40 1h0m-114 3h0m35 6h0m49 2h0m-77 1h0m96 1h0m-14 0h0m-42 6h0m23 2h0m-35 2h0m15 1h0m-29 0h0m120 3h0m-76 2h0m84 7h0m-116 10h0m-13 3h0m102 0h0m-41 10h0m23 4h0m-9 2h0m34 0h0m-49 2h0m41 3h0m-115 3h0m52 0h0m-1 8h0m-27 4h0m-18 2h0m113 3h0m11 5h0m-96 2h0m95 8h0m-17 0h0m3 1h0m-121 2h0m12 3h0m59 1h0m57 0h0m-23 6h0m33 6h0m-99 1h0m13 1h0m78 1h0m-34 2h0m-15 1h0m12 0h0m34 1h0m13 1h0m-20 1h0m-41 1h0m25 2h0m-100 2h0m42 1h0m27 0h0m-32 6h0m-21 0h0m41 1h0m66 0h0m-20 3h0m-6 2h0m35 0h0m-103 0h0m17 1h0m-43 0h0m83 1h0m-27 0h0m18 1h0m-1 0h0m-56 1h0m49 2h0m46 0h0m-81 1h0m58 1h0m-50 0h0m-32 1h0m131 1h0m-96 1h0m-39 4h0m67 1h0m24 0h0m-3 0h0m-7 2h0m34 0h0m-33 2h0m-58 5h0m45 0h0m-50 2h0m77 0h0m-60 2h0m81 1h0m-105 0h0m97 1h0m-57 1h0m8 0h0m77 0h0m-111 2h0m100 2h0m-118 2h0m3 3h0m3 1h0m0 1h0m15 0h0m-32 1h0m132 0h0m-42 0h0m-64 1h0m64 1h0m-47 0h0m67 1h0m-102 1h0m48 0h0m-57 4h0m27 6h0m-19 1h0m50 3h0m62 1h0m0 0h0m-89 3h0m10 3h0m96 0h0m-140 0h0m112 3h0m4 1h0m26 1h0m-67 1h0m-46 3h0m102 0h0m-32 2h0m39 1h0m-28 0h0m18 2h0m-1 1h0m-18 0h0m4 1h0m-28 0h0m-87 1h0m57 1h0m68 0h0m-31 1h0m27 1h0m-11 1h0m-28 2h0m47 2h0m-55 1h0m71 1h0m-28 0h0m23 1h0m-34 0h0m-32 0h0m17 2h0m-64 0h0m76 0h0m17 1h0m13 0h0m-111 1h0m121 1h0m-4 0h0m-42 0h0m-26 2h0m74 1h0m-70 0h0m-19 2h0m9 0h0m24 0h0m-62 1h0m19 1h0m77 0h0m-26 0h0m-7 0h0m-4 1h0m7 0h0m-76 0h0m30 2h0m49 0h0m-67 1h0m83 0h0m-96 1h0m-8 1h0m55 1h0m0 1h0m40 0h0m-88 0h0m39 1h0m30 0h0m-11 0h0m-11 0h0m13 1h0m13 2h0m-86 0h0m79 1h0m-35 2h0m-2 0h0m35 0h0m-69 1h0m17 0h0m39 2h0m14 0h0m-22 0h0m1 2h0m84 0h0m-4 0h0m-53 1h0m-15 0h0m-36 0h0m29 1h0m12 0h0m21 0h0m-24 0h0m-53 1h0m6 3h0m70 0h0m-93 1h0m31 3h0m110 0h0m-104 1h0m-18 1h0m2 2h0m41 0h0m62 2h0m-104 1h0m23 0h0m-19 2h0m22 0h0m84 0h0m-7 0h0m-2 0h0m-78 0h0m76 1h0m-109 1h0m130 2h0m-105 0h0m52 1h0m-63 0h0m-7 1h0m8 0h0m-13 0h0m-2 1h0m132 1h0m-94 0h0m-48 3h0m11 1h0m116 0h0m-128 2h0m20 0h0m63 1h0m4 5h0m-44 2h0m11 2h0m44 1h0m24 1h0m-43 4h0m-20 2h0m0 0h0m-22 2h0m95 0h0m-97 1h0m-36 2h0m142 0h0m-5 2h0m-6 0h0m-78 1h0m86 0h0m-11 3h0m-126 0h0m45 1h0m13 0h0m50 1h0m13 2h0m2 1h0m-102 1h0m70 9h0m53 1h0m-20 2h0m-23 0h0m-3 3h0m-82 2h0m69 2h0m-88 0h0m95 1h0m16 1h0m3 0h0m15 0h0m-110 1h0m38 0h0m65 1h0m-33 1h0m8 1h0m38 1h0m-63 2h0m-70 2h0m61 0h0m3 1h0m18 0h0m-72 4h0m-10 4h0m38 0h0m70 0h0m-5 1h0m-57 0h0m-24 2h0m-16 0h0m51 1h0m1 1h0m-56 0h0m78 0h0m14 2h0m-55 1h0m33 2h0m-15 1h0m-54 2h0m74 1h0m-69 0h0m129 1h0m-33 1h0m14 1h0m22 1h0m-102 2h0m95 0h0m-28 0h0m10 2h0m-25 2h0m4 1h0m-27 1h0m27 2h0m-64 1h0m90 0h0m17 0h0m-61 2h0m45 0h0m-54 0h0m6 1h0m42 0h0m-16 2h0m-30 2h0m-32 1h0m93 0h0m-63 0h0m47 0h0m-44 1h0m20 1h0m-78 1h0m2 1h0m89 0h0m-58 0h0m27 1h0m40 0h0m4 0h0m19 1h0m-137 1h0m102 1h0m-54 1h0m84 0h0m-72 2h0m6 0h0m-45 1h0m-12 0h0m22 0h0m99 0h0m-41 2h0m-8 1h0m-26 1h0m34 1h0m23 2h0m-28 1h0m61 0h0m-64 1h0m10 4h0m-79 0h0m21 0h0m-28 2h0m98 1h0m-102 0h0m48 1h0m7 0h0m15 0h0m-7 3h0m37 0h0m-89 2h0m82 0h0m-72 1h0m85 0h0m-63 1h0m8 1h0m-33 2h0m82 0h0m-76 0h0m-9 4h0m12 1h0m7 2h0m24 0h0m-35 1h0m15 1h0m32 2h0m-62 1h0m82 2h0m-84 1h0m30 0h0m-8 0h0m-25 11h0m-1 1h0m60 1h0m-28 0h0m-36 1h0m4 1h0m15 0h0m-16 3h0m1 0h0m40 4h0m-34 10h0m108 6h0m-114 2h0m75 23h0m4 1h0m9 26h0m45 6h0m151-52h0m-23-32h0m-113-4h0m49-8h0m30-20h0m21-1h0m-8-17h0m-57-8h0m-34-1h0m142 0h0m-129-1h0m-16-1h0m79-7h0m-72-5h0m16 0h0m-11-1h0m21-2h0m-13-1h0m32-4h0m-47 0h0m16-2h0m13-2h0m33 0h0m21-2h0m-43-1h0m45 0h0m-60 0h0m33 0h0m-22 0h0m7-1h0m-45-1h0m37 0h0m-8 0h0m-32-1h0m23 0h0m107 0h0m-126-1h0m11-1h0m-15 0h0m20-1h0m13-2h0m58-1h0m-23 0h0m56 0h0m-102-1h0m50-1h0m-51 0h0m-7-2h0m54 0h0m-21-2h0m38 0h0m0-1h0m55-1h0m-58 0h0m-28-1h0m-27 0h0m91-2h0m-2-1h0m12 0h0m-43 0h0m51-1h0m-120-1h0m55-1h0m39-1h0m-26-2h0m-4 0h0m-79 0h0m135-2h0m-48 0h0m27-1h0m23-1h0m-91 0h0m-42-1h0m28-2h0m8-1h0m-37-1h0m67-6h0m18 0h0m33-1h0m9-1h0m-80-1h0m87 0h0m-44 0h0m-74-1h0m78 0h0m14-3h0m16-1h0m15 0h0m-134-1h0m95 0h0m-28-2h0m-70-4h0m84 0h0m-45 0h0m-3 0h0m98-1h0m-104 0h0m50-3h0m28-1h0m-48-2h0m-33-3h0m21-1h0m28-1h0m51 0h0m14 0h0m-12-4h0m-81-3h0m-36-1h0m71 0h0m-15 0h0m-32-1h0m-11-1h0m104-1h0m-68-1h0m-56 0h0m20 0h0m-9-2h0m14-1h0m-15-2h0m101-2h0m-110-1h0m110-1h0m-52-1h0m7-1h0m-42-2h0m4-1h0m36-1h0m-14-1h0m48-1h0m-97 0h0m24 0h0m20 0h0m-21 0h0m4-2h0m100-6h0m-89 0h0m42-1h0m16-1h0m-102 0h0m56 0h0m73-1h0m-75 0h0m16-1h0m-20 0h0m1-1h0m-1 0h0m39 0h0m43-1h0m-29-2h0m-72-2h0m99-2h0m-80 0h0m4-1h0m53 0h0m27-2h0m-30 0h0m-13-2h0m26 0h0m5-1h0m16-2h0m-46 0h0m-6-1h0m26-1h0m-15 0h0m-4-3h0m2-2h0m24 0h0m-22-1h0m-76 0h0m44-1h0m67 0h0m-115-1h0m45 0h0m-54-1h0m98 0h0m37-2h0m-138-1h0m52-1h0m-62 0h0m0-1h0m43-1h0m83-2h0m-85-2h0m93 0h0m-10 0h0m-31-1h0m-85-1h0m99 0h0m36-1h0m-1 0h0m-85-1h0m55 0h0m-83-2h0m-6-3h0m33-1h0m13-1h0m60 0h0m-130-1h0m12-1h0m21-1h0m33 0h0m31 0h0m-11-3h0m-36 0h0m10-2h0m11 0h0m34 0h0m-105-2h0m124-1h0m-114 0h0m114-1h0m9 0h0m-64 0h0m-65 0h0m87-2h0m-15 0h0m-49-1h0m10 0h0m34-1h0m23-1h0m-89-1h0m126 0h0m-16-1h0m-59 0h0m-15-1h0m-22-1h0m75-1h0m31-1h0m-107-1h0m7 0h0m73-1h0m-18 0h0m-74-1h0m49-1h0m6 0h0m-17-1h0m45 0h0m-78 0h0m129-1h0m-112 0h0m60-1h0m48-1h0m-119 0h0m84-2h0m41-1h0m-44 0h0m-15-1h0m-80 0h0m53 0h0m37 0h0m21 0h0m-106-1h0m4-1h0m50 0h0m46-2h0m-13 0h0m-57 0h0m72-1h0m-75-1h0m28 0h0m3 0h0m34 0h0m-48-1h0m37-1h0m25 0h0m16 0h0m-111-1h0m15-1h0m39-1h0m-20-1h0m-13-2h0m76 0h0m4 0h0m17 0h0m-72 0h0m52-1h0m-30-1h0m49-1h0m0 0h0m-3 0h0m-2 0h0m-57 0h0m-3-2h0m68 0h0m-7 0h0m-92 0h0m-22-1h0m108-1h0m-87-1h0m43-1h0m27 0h0m-67-3h0m-26-1h0m75-1h0m-1 0h0m-46-1h0m83 0h0m-109-1h0m55-1h0m-40-1h0m102-2h0m-45 0h0m19 0h0m-8 0h0m-39-1h0m-2 0h0m68-1h0m-15-1h0m-59 0h0m42-3h0m-37-1h0m-16-1h0m11 0h0m-18-3h0m24-1h0m43-1h0m46-2h0m-30 0h0m-46-1h0m74 0h0m-24 0h0m-33-1h0m-16-2h0m30-1h0m43 0h0m-123-2h0m44-1h0m59-1h0m-77-1h0m78 0h0m-113-1h0m110-1h0m14 0h0m-28 0h0m-8-2h0m-15-1h0m56 0h0m-4-2h0m8-4h0m-41 0h0m-6-1h0m-61 0h0m-28-2h0m-10-1h0m73 0h0m-26 0h0m-46-1h0m104-2h0m-19-1h0m-5-1h0m-54-1h0m90-1h0m-97 0h0m57-3h0m-77-1h0m38 0h0m98 0h0m-36 0h0m-8-1h0m10 0h0m22-2h0m-62-3h0m-49-2h0m80 0h0m-82-1h0m78 0h0m-4-2h0m-51-1h0m94 0h0m15-2h0m-15-1h0m-68 0h0m-38-1h0m122 0h0m-90-1h0m-2-1h0m6 0h0m-45-1h0m87 0h0m-63-3h0m58-1h0m21 0h0m-117 0h0m131 0h0m-21-2h0m-107 0h0m102-1h0m-33-2h0m-58 0h0m72-2h0m-16 0h0m-67-2h0m84-6h0m13 0h0m-101 0h0m78-3h0m53 0h0m11 0h0m-21-1h0m13-2h0m-89-1h0m-26 0h0m120-4h0m-87-1h0m-17 0h0m92-1h0m-85 0h0m62-1h0m-55-2h0m-4-2h0m99-2h0m-84-1h0m63 0h0m-31-5h0m-19-1h0m-26-3h0m19 0h0m-1-6h0m-30 0h0m78 0h0m-56-1h0m91-4h0m-59-3h0m18 0h0m3 0h0m-9 0h0m22-1h0m23-2h0m-49-2h0m-66-1h0m-9-2h0m-3 0h0m102-1h0m-85-4h0m103-1h0m-41-1h0m-41-2h0m76-1h0m-26-6h0m-41-1h0m78-4h0m-56-4h0m-23-1h0m41-1h0m21 0h0m11-4h0m-38-5h0m16 0h0m28 0h0m-32-7h0m-6-1h0m28-10h0m-27-2h0m22-8h0m-25-4h0m-99-5h0m92-4h0m-81-3h0m103-2h0m-83-3h0m-8-1h0m-3-2h0m-22-1h0m88 0h0m-50-1h0m5-3h0m65-3h0m-67-3h0m8-3h0m22 0h0m7-1h0m52-2h0m-43-6h0m-37-2h0m92 0h0m-118-1h0m47-4h0m-27 0h0m90-5h0m-19-4h0m20 0h0m-59-1h0m33-1h0m-89-1h0m18-10h0m-28-5h0m73-4h0m23-2h0m18-6h0m-78-1h0m80-2h0m-73-2h0m74-12h0m-39-5h0m-2-6h0m60-1h0m-50-3h0m-10-6h0m-63-4h0m73-24h0m36-1h0m-18-9h0m-37-32h0m29-86h0m189-18h0m-46 30h0m18 4h0m23 0h0m-27 9h0m-35 15h0m16 5h0m50 1h0m-75 15h0m2 0h0m-8 3h0m65 2h0m-11 4h0m-83 2h0m13 5h0m-31 1h0m83 4h0m-81 10h0m74 1h0m-56 0h0m59 1h0m18 4h0m-111 11h0m38 6h0m40 8h0m-80 4h0m114 0h0m-52 1h0m-46 16h0m39 4h0m66 1h0m-106 16h0m126 2h0m-144 6h0m114 0h0m28 11h0m-42 4h0m-50 4h0m88 0h0m-47 2h0m-1 4h0m15 2h0m-34 5h0m44 0h0m-59 1h0m-20 5h0m-10 1h0m27 5h0m-12 1h0m105 2h0m-1 1h0m-29 2h0m-6 6h0m2 4h0m17 5h0m-40 1h0m19 0h0m-12 1h0m-10 0h0m39 3h0m-5 0h0m28 1h0m-96 7h0m-5 0h0m37 2h0m-44 1h0m36 3h0m53 2h0m-1 1h0m-66 0h0m73 5h0m-4 1h0m-56 0h0m-47 1h0m111 1h0m-25 4h0m-49 1h0m-36 6h0m22 1h0m69 2h0m-57 1h0m-49 2h0m130 7h0m-22 1h0m-115 0h0m30 2h0m66 2h0m-89 0h0m71 2h0m21 3h0m21 1h0m22 2h0m-27 0h0m-38 0h0m-1 1h0m11 1h0m41 2h0m-37 4h0m-40 2h0m33 1h0m33 3h0m-84 0h0m98 0h0m-98 2h0m32 0h0m70 1h0m-128 1h0m113 1h0m-28 3h0m25 1h0m-107 0h0m121 1h0m-47 2h0m51 0h0m-128 1h0m50 2h0m67 2h0m-49 1h0m9 0h0m-47 1h0m89 0h0m-93 0h0m85 1h0m-55 1h0m44 1h0m26 2h0m-11 0h0m-120 1h0m82 2h0m-17 4h0m20 4h0m-47 1h0m80 0h0m-92 2h0m48 3h0m-72 1h0m114 1h0m-66 2h0m24 0h0m-66 0h0m120 0h0m-107 0h0m17 1h0m-27 1h0m72 0h0m-15 1h0m-9 1h0m10 0h0m-44 1h0m64 0h0m-10 1h0m56 0h0m-27 0h0m-76 2h0m93 0h0m-63 2h0m-36 2h0m69 1h0m-63 1h0m87 1h0m-49 1h0m-62 1h0m5 0h0m44 1h0m-39 1h0m68 1h0m-73 1h0m-22 0h0m99 1h0m-79 2h0m49 1h0m-43 1h0m11 2h0m99 0h0m-32 1h0m-1 1h0m36 1h0m-132 0h0m12 0h0m95 1h0m-37 0h0m2 0h0m-56 2h0m-13 1h0m110 0h0m18 2h0m-95 0h0m72 0h0m20 1h0m-47 1h0m-55 2h0m94 0h0m-47 0h0m3 2h0m-57 0h0m94 2h0m-117 3h0m141 0h0m-142 1h0m119 0h0m-85 0h0m-26 1h0m-1 1h0m63 1h0m-15 0h0m21 1h0m-49 0h0m34 1h0m19 0h0m36 1h0m-4 0h0m-37 2h0m-18 0h0m82 1h0m-57 1h0m-17 0h0m28 0h0m-14 2h0m-41 0h0m9 1h0m64 1h0m-41 4h0m11 2h0m-61 0h0m28 0h0m5 1h0m67 1h0m-77 0h0m102 0h0m-81 1h0m46 0h0m-39 0h0m-19 0h0m81 0h0m-72 1h0m31 0h0m13 0h0m21 0h0m-79 1h0m95 1h0m-66 0h0m59 1h0m-111 1h0m115 1h0m-12 0h0m20 1h0m-124 1h0m37 1h0m61 1h0m3 1h0m18 0h0m-49 0h0m-72 1h0m3 1h0m18 1h0m-18 1h0m0 0h0m91 1h0m-107 2h0m15 1h0m117 1h0m-138 1h0m55 0h0m2 0h0m-61 1h0m135 1h0m-92 0h0m58 0h0m31 1h0m-118 1h0m26 0h0m58 0h0m-83 1h0m10 0h0m101 1h0m-92 1h0m8 0h0m76 2h0m-37 1h0m-72 0h0m81 1h0m7 0h0m18 0h0m-71 1h0m-24 0h0m72 0h0m13 1h0m37 1h0m-60 0h0m-31 0h0m49 1h0m-49 0h0m39 1h0m-72 0h0m48 2h0m24 0h0m44 1h0m-14 0h0m-12 1h0m40 1h0m-67 1h0m17 0h0m25 1h0m-17 0h0m-48 0h0m5 1h0m12 1h0m-72 0h0m87 1h0m-50 0h0m86 1h0m1 0h0m-19 1h0m-35 0h0m16 1h0m-52 1h0m19 1h0m66 0h0m-91 0h0m-28 0h0m109 1h0m-87 0h0m44 1h0m41 0h0m9 1h0m-91 1h0m121 0h0m-52 1h0m15 0h0m34 0h0m-79 0h0m3 3h0m-37 0h0m65 0h0m-74 1h0m29 1h0m88 0h0m-56 1h0m-70 1h0m54 0h0m-27 1h0m88 0h0m-94 0h0m62 0h0m-30 1h0m-1 0h0m-5 1h0m-20 0h0m-19 1h0m12 0h0m78 0h0m-19 1h0m-53 1h0m26 0h0m-48 1h0m-5 1h0m-5 1h0m87 0h0m16 1h0m-68 2h0m-36 2h0m4 1h0m1 0h0m49 1h0m-61 0h0m34 1h0m12 1h0m25 0h0m12 0h0m-22 1h0m23 0h0m-72 0h0m16 2h0m7 0h0m111 0h0m-109 1h0m33 1h0m-43 0h0m16 0h0m-30 1h0m91 0h0m23 3h0m-71 1h0m83 0h0m-104 4h0m102 1h0m-103 0h0m-1 2h0m-33 1h0m130 4h0m-8 1h0m1 0h0m-109 0h0m94 2h0m-61 0h0m-17 1h0m107 1h0m-67 0h0m56 1h0m-102 1h0m-11 1h0m96 1h0m-35 1h0m24 1h0m-4 3h0m5 1h0m-100 1h0m51 0h0m61 0h0m-31 4h0m-29 1h0m11 0h0m-62 1h0m144 0h0m-11 1h0m-47 1h0m26 0h0m-92 3h0m-4 1h0m84 0h0m-27 0h0m-66 2h0m65 0h0m2 1h0m60 0h0m-135 0h0m122 1h0m-52 1h0m-38 1h0m107 1h0m-136 0h0m49 2h0m74 0h0m-6 0h0m-53 2h0m-41 3h0m87 0h0m-50 3h0m11 3h0m-59 2h0m36 0h0m45 0h0m11 2h0m9 1h0m-10 1h0m-77 2h0m52 5h0m44 0h0m-17 2h0m-33 1h0m21 0h0m-7 2h0m29 0h0m-2 4h0m-66 1h0m40 0h0m9 0h0m21 0h0m-63 0h0m15 2h0m-17 1h0m79 0h0m-65 3h0m-52 1h0m6 0h0m41 1h0m-6 0h0m11 1h0m-51 2h0m11 1h0m52 2h0m-13 4h0m-27 0h0m-40 3h0m68 0h0m23 1h0m-65 0h0m54 0h0m-74 1h0m32 3h0m93 4h0m-22 4h0m-47 0h0m-50 2h0m30 1h0m65 2h0m-48 1h0m-25 2h0m29 1h0m77 1h0m-84 1h0m-13 0h0m6 3h0m15 0h0m-62 2h0m56 1h0m13 1h0m31 3h0m-53 1h0m-19 3h0m68 0h0m-61 4h0m4 4h0m29 4h0m57 1h0m-128 2h0m12 1h0m0 0h0m10 7h0m-20 1h0m136 10h0m-117 3h0m9 4h0m81 3h0m-77 5h0m75 13h0m21 4h0m-68 1h0m86 1h0m-81 5h0m-65 3h0m23 8h0m103 2h0m3 23h0m-19 18h0m-54 10h0m32 0h0m-72 62h0m44 15h0m40 20h0m-57 7h0m160-86h0m28-30h0m1-39h0m-72-13h0m30-8h0m95-2h0m-30-20h0m-77-13h0m76-6h0m-24-19h0m-41-2h0m64-6h0m31-19h0m-134-7h0m100-3h0m-70-7h0m7-10h0m27-3h0m-59-2h0m54-3h0m-50 0h0m101-1h0m-33-2h0m-40-3h0m4-1h0m-30-4h0m1-2h0m69 0h0m-55-3h0m113-2h0m-97-3h0m-42 0h0m8-1h0m130-1h0m-60-1h0m-46 0h0m86-2h0m-72-1h0m-6-3h0m-6-2h0m3-4h0m-19 0h0m91 0h0m23-5h0m-131-1h0m23 0h0m-24-5h0m32-2h0m-25-3h0m9-2h0m41-1h0m56-2h0m-69-2h0m-38-3h0m38-4h0m-4 0h0m32-3h0m-71-1h0m80-1h0m-46-3h0m26-4h0m-58 0h0m95-2h0m-2-1h0m13 0h0m32 0h0m-53-1h0m-68-1h0m-6 0h0m126-1h0m-83-5h0m42-1h0m-41-2h0m54 0h0m-104-1h0m4 0h0m72-1h0m36-2h0m-28-5h0m-67-3h0m60-2h0m-57-1h0m1-2h0m27 0h0m4 0h0m-40-1h0m19-1h0m17 0h0m-16-1h0m-20 0h0m-16-2h0m113-1h0m-98-1h0m7-3h0m62 0h0m-56-1h0m14-3h0m34 0h0m46 0h0m-30 0h0m-52-1h0m11-1h0m-19-1h0m87 0h0m-21-1h0m-85-1h0m41-1h0m-49-1h0m30-4h0m-27 0h0m86-1h0m20 0h0m-31 0h0m-47-5h0m44 0h0m-81-1h0m-2 0h0m141 0h0m-42-2h0m-96-1h0m7 0h0m46-3h0m3 0h0m23 0h0m48 0h0m-62 0h0m-1-3h0m8-1h0m-70 0h0m-7-4h0m68 0h0m-21 0h0m47-4h0m-73-1h0m104 0h0m-79-1h0m23 0h0m3-1h0m31 0h0m-7 0h0m-85 0h0m41-1h0m32-1h0m42 0h0m-7-1h0m-47-1h0m-41 0h0m82 0h0m-32 0h0m-50-1h0m50 0h0m66-1h0m-41-1h0m-52-1h0m-39 0h0m42 0h0m32-2h0m-51 0h0m36 0h0m-31-1h0m36-1h0m-39 0h0m-28 0h0m105-1h0m-25 0h0m-68 0h0m44-1h0m-13 0h0m11-1h0m-29 0h0m23 0h0m-10 0h0m27 0h0m65-1h0m-83-1h0m26 0h0m-32 0h0m-34 0h0m9-1h0m-1 0h0m50 0h0m-14-1h0m-39 0h0m-6-1h0m6 0h0m98 0h0m-80 0h0m58-1h0m14-1h0m-104 0h0m69-2h0m39-1h0m-16-1h0m-16-1h0m56-1h0m-15 0h0m-118-1h0m50 0h0m26 0h0m18 0h0m-23 0h0m55-1h0m-132 0h0m15-4h0m-14-1h0m85-1h0m-67 0h0m110-1h0m-18 0h0m-24 0h0m-72-1h0m20 0h0m-26-1h0m92-1h0m5 0h0m31 0h0m-139 0h0m121-1h0m-31 0h0m-57-1h0m-5 0h0m87 0h0m-37-1h0m50 0h0m-87-1h0m35 0h0m17-1h0m-50 0h0m60 0h0m-11 0h0m53-1h0m-53 0h0m3-1h0m49-1h0m-108 0h0m78-1h0m20 0h0m-1 0h0m13-2h0m-145-1h0m122 0h0m-71-1h0m81 0h0m-42-2h0m9 0h0m42-1h0m-66 0h0m-60 0h0m40-1h0m67-1h0m-66 0h0m86-1h0m-10 0h0m11 0h0m-119 0h0m17 0h0m101 0h0m-41 0h0m20-2h0m-85 0h0m35 0h0m-74 0h0m41 0h0m75 0h0m-55-1h0m87 0h0m-54-1h0m41 0h0m-109-1h0m67-2h0m37 0h0m-52-1h0m-61-1h0m86-2h0m-101-1h0m23-2h0m22 0h0m101-1h0m1 0h0m-124-1h0m48 0h0m-18-1h0m24-1h0m3 0h0m34 0h0m-107 0h0m67-1h0m34 0h0m-72-1h0m-15-1h0m19-1h0m66-2h0m-4-2h0m-81-1h0m53-1h0m11 0h0m4-1h0m-15-1h0m-9 0h0m-29 0h0m-30 0h0m2-1h0m52 0h0m23 0h0m-79-1h0m118-3h0m-99 0h0m44-1h0m-36-2h0m71 0h0m-4-1h0m-2-1h0m37-1h0m-118 0h0m67 0h0m-57-2h0m74 0h0m41 0h0m-33-2h0m-84 0h0m-19-1h0m130-2h0m-64 0h0m-47 0h0m-12 0h0m52-1h0m79-1h0m2 0h0m-67 0h0m29-1h0m-55-1h0m-13-1h0m52-1h0m-26-1h0m43 0h0m25 0h0m-6-2h0m-123-1h0m137 0h0m-5-1h0m-124-1h0m72 0h0m-49-1h0m70 0h0m22-1h0m-60-1h0m45 0h0m-58-1h0m5-1h0m18 0h0m10 0h0m-57 0h0m70-1h0m-84-1h0m34-2h0m21-1h0m5-2h0m55 0h0m-78 0h0m36-2h0m-21 0h0m-2-2h0m38-1h0m-14-1h0m57 0h0m-135-2h0m100 0h0m-71-1h0m59-2h0m44-1h0m-115 0h0m-25-1h0m132-1h0m-44 0h0m26-2h0m20 0h0m-76-1h0m-54-2h0m32-1h0m108 0h0m-125-1h0m-16-2h0m141 0h0m0-2h0m-67 0h0m14 0h0m-59-2h0m106 0h0m6-2h0m-8 0h0m-98-1h0m73-2h0m-5-1h0m-63-3h0m-36 0h0m43-1h0m6-1h0m-11-1h0m72-1h0m-39-1h0m60 0h0m-102-2h0m77-4h0m-8-4h0m-64-1h0m42 0h0m51 0h0m-17 0h0m23-3h0m-94-1h0m59 0h0m-36-4h0m-28-4h0m65 0h0m-9-1h0m-36-1h0m-54 0h0m2 0h0m82-4h0m33-1h0m-68-1h0m-23-1h0m55 0h0m-66-3h0m17 0h0m34-4h0m49 0h0m-51 0h0m-70-1h0m142-2h0m-62-1h0m-48 0h0m4 0h0m5-3h0m4-1h0m-26 0h0m77-3h0m5 0h0m-98-9h0m61-1h0m-26-1h0m76-4h0m-82-2h0m-28-1h0m69-1h0m51-1h0m-113-1h0m98-7h0m-33-1h0m29 0h0m-20-2h0m-8 0h0m36-1h0m-56 0h0m-58-1h0m65 0h0m65 0h0m-115-1h0m128-2h0m-105 0h0m-41 0h0m131-4h0m-11-1h0m-84-1h0m24 0h0m24-1h0m-66-3h0m125-1h0m-145-3h0m138-1h0m-112 0h0m76-4h0m19-1h0m-22-1h0m2 0h0m-69-1h0m82-1h0m-16-3h0m-10-1h0m50-1h0m-56-1h0m-62-1h0m70-1h0m51 0h0m-61-1h0m1-2h0m-56-3h0m47 0h0m-7-1h0m-12-1h0m3-2h0m65-1h0m2 0h0m-85-2h0m36-3h0m20 0h0m49-2h0m-1-6h0m-91-2h0m94-6h0m-45-2h0m25-6h0m-20-2h0m20-1h0m-53-7h0m53-18h0m-66-16h0m-53-11h0m19-29h0m5-17h0m4-4h0m3-6h0m21-6h0m4-2h0m30-1h0m-10-10h0m25-7h0m-58-3h0m-45-4h0m99-1h0m-62 0h0m-35-5h0m55-1h0m83-2h0m-25-2h0m23-1h0m-33-7h0m-35-1h0m75-15h0m-76-3h0m-5-4h0m28-4h0m48-12h0m-33-6h0m8 0h0m-9-1h0m12-8h0m18 0h0m9-12h0m-134-15h0m198-28h0m-26 13h0m1 0h0m55 7h0m0 2h0m-93 10h0m31 0h0m23 2h0m70 4h0m4 4h0m-52 3h0m-17 9h0m-25 13h0m79 6h0m9 14h0m-115 1h0m9 1h0m126 79h0m-41 6h0m26 25h0m-8 6h0m-32 10h0m1 2h0m13 3h0m-9 7h0m30 4h0m-22 0h0m25 1h0m-58 10h0m-42 1h0m89 2h0m-63 1h0m57 1h0m-61 1h0m94 6h0m-137 2h0m22 1h0m27 1h0m28 2h0m30 0h0m-14 3h0m1 2h0m-61 2h0m35 3h0m-44 0h0m58 1h0m-44 7h0m-8 0h0m3 1h0m47 3h0m-53 1h0m38 1h0m-69 1h0m77 0h0m47 0h0m18 2h0m-101 0h0m14 1h0m-44 0h0m23 3h0m7 2h0m104 0h0m-11 4h0m-63 0h0m-35 3h0m34 3h0m-66 2h0m6 3h0m139 3h0m-108 0h0m84 1h0m-84 0h0m102 0h0m-129 1h0m0 2h0m107 1h0m-104 0h0m102 2h0m-87 2h0m75 3h0m24 1h0m-112 4h0m74 3h0m-9 2h0m9 1h0m-48 1h0m-42 4h0m121 1h0m-51 6h0m0 1h0m25 2h0m-67 5h0m29 6h0m-11 5h0m56 1h0m-57 2h0m54 0h0m42 1h0m-22 0h0m-67 1h0m88 0h0m-10 0h0m-48 1h0m-53 4h0m-29 1h0m124 2h0m1 1h0m-101 2h0m20 2h0m2 0h0m-39 4h0m34 0h0m67 0h0m18 0h0m-2 2h0m-27 1h0m-5 0h0m15 1h0m30 1h0m-5 0h0m-75 1h0m74 2h0m5 0h0m-66 0h0m-52 1h0m69 5h0m40 1h0m-4 1h0m-19 2h0m12 1h0m29 1h0m-70 1h0m23 2h0m-11 1h0m-34 0h0m27 2h0m29 0h0m-33 1h0m36 1h0m4 3h0m19 0h0m-52 0h0m-20 1h0m28 0h0m41 0h0m-35 1h0m-70 1h0m48 0h0m-2 2h0m-12 2h0m1 1h0m74 0h0m-42 1h0m28 2h0m-101 0h0m19 1h0m30 0h0m17 5h0m-50 0h0m-28 1h0m29 1h0m-34 0h0m95 0h0m-62 1h0m-3 0h0m-16 0h0m40 0h0m-12 0h0m12 2h0m-42 2h0m-7 1h0m30 0h0m92 1h0m-126 0h0m59 0h0m-44 0h0m102 1h0m-104 2h0m55 0h0m-42 1h0m-16 0h0m130 1h0m-102 1h0m-2 0h0m-9 1h0m43 2h0m-77 1h0m48 0h0m30 1h0m-19 1h0m14 1h0m47 1h0m3 0h0m-100 0h0m-22 3h0m5 3h0m84 0h0m-36 2h0m60 0h0m-114 5h0m101 2h0m45 2h0m-57 2h0m-70 0h0m38 1h0m-32 1h0m-21 0h0m101 0h0m-63 1h0m88 0h0m-122 1h0m8 0h0m91 4h0m21 0h0m9 0h0m-128 1h0m106 1h0m-74 1h0m-34 0h0m64 1h0m-34 1h0m57 0h0m37 1h0m-4 1h0m12 1h0m-97 1h0m103 0h0m-36 1h0m7 0h0m-69 1h0m90 2h0m5 1h0m-101 0h0m68 1h0m-45 0h0m-10 1h0m69 0h0m-25 1h0m-2 0h0m39 0h0m-51 0h0m-23 0h0m-45 1h0m129 3h0m-1 1h0m-94 2h0m82 0h0m-95 1h0m56 0h0m30 0h0m-52 4h0m29 0h0m44 0h0m-16 1h0m-50 1h0m30 0h0m5 1h0m-77 1h0m-12 0h0m63 1h0m-58 0h0m96 1h0m13 1h0m-79 1h0m8 0h0m27 2h0m-26 1h0m-3 0h0m-3 0h0m-56 1h0m62 0h0m-46 1h0m9 0h0m31 1h0m20 0h0m-56 1h0m94 0h0m-90 0h0m55 1h0m-74 2h0m38 0h0m-33 0h0m84 0h0m-45 1h0m-48 0h0m73 2h0m-6 0h0m-41 2h0m-7 3h0m29 0h0m-29 0h0m-24 1h0m5 1h0m48 0h0m-18 0h0m-28 1h0m42 0h0m-40 1h0m54 3h0m-46 1h0m-17 0h0m-3 2h0m58 0h0m-39 1h0m64 0h0m-41 5h0m0 0h0m-9 3h0m-18 1h0m-9 1h0m28 0h0m51 0h0m-11 1h0m8 2h0m-44 2h0m12 1h0m9 0h0m-8 0h0m76 1h0m-82 2h0m60 0h0m13 0h0m-91 1h0m24 2h0m-26 1h0m97 1h0m-40 7h0m-28 1h0m-48 2h0m87 1h0m-5 0h0m-5 0h0m-76 2h0m60 3h0m-43 3h0m-2 0h0m83 2h0m-43 1h0m32 0h0m10 2h0m9 0h0m-109 1h0m107 0h0m-110 1h0m121 4h0m-113 3h0m56 4h0m9 0h0m-64 2h0m79 3h0m47 7h0m-131 1h0m89 9h0m-37 0h0m-1 1h0m-52 0h0m38 1h0m28 5h0m8 5h0m-47 1h0m84 0h0m24 4h0m-128 3h0m23 1h0m-29 3h0m5 2h0m72 6h0m32 2h0m-13 1h0m-87 10h0m69 5h0m24 3h0m-93 2h0m72 6h0m56 2h0m6 2h0m-65 1h0m-17 2h0m21 1h0m31 15h0m-51 1h0m-16 0h0m-2 4h0m20 22h0m47 1h0m-80 13h0m96 0h0m-54 21h0m11 4h0m-73 39h0m83 1h0m38 41h0m-45 21h0m-7 4h0m-29 43h0m25 3h0m-33 14h0m108-140h0m44-16h0m-29-4h0m-20-87h0m12 0h0m107-5h0m-94-13h0m45-7h0m28-3h0m-22-10h0m-70-19h0m47-11h0m-42-3h0m61-1h0m11-17h0m-50-14h0m27-1h0m45-5h0m-18-2h0m-81-7h0m84-3h0m37-11h0m-4-1h0m-37-4h0m59-3h0m-138-4h0m-6-3h0m110-8h0m6-10h0m-86-1h0m105-1h0m-69-1h0m2-7h0m51-3h0m-119-14h0m31 0h0m-1 0h0m51-4h0m-79-8h0m43 0h0m-47-3h0m6-4h0m6 0h0m16-3h0m-26-1h0m10-2h0m4-3h0m77 0h0m-51-5h0m44-3h0m-53-1h0m-16 0h0m-6 0h0m29-2h0m-4-2h0m13-2h0m-13 0h0m21-1h0m-1 0h0m-3-1h0m14-1h0m-31-5h0m-35-1h0m105-1h0m-100-2h0m13 0h0m-2-5h0m23-1h0m33 0h0m0-5h0m-67 0h0m26 0h0m113-5h0m-56-1h0m-50-1h0m-15-1h0m0-2h0m-7-1h0m11-1h0m17-3h0m-5-3h0m-27 0h0m107 0h0m-75-5h0m62 0h0m-75-2h0m44 0h0m-65-2h0m37 0h0m-33-2h0m50 0h0m44-5h0m15-3h0m-63-1h0m-12 0h0m-2-2h0m67 0h0m-61-2h0m-3 0h0m22-1h0m12-2h0m-48-1h0m-16 0h0m37-3h0m-42-2h0m39 0h0m80-2h0m10-1h0m-94-3h0m50-1h0m-51-1h0m28 0h0m-2-2h0m-11-2h0m-8-1h0m85-1h0m-78-1h0m16 0h0m-26-1h0m56 0h0m-9-2h0m-14-1h0m-34-2h0m40-2h0m-64 0h0m42-2h0m34-1h0m2 0h0m-24-2h0m17 0h0m-74 0h0m80-2h0m-101 0h0m31-1h0m-29-2h0m106-1h0m-85-4h0m3-2h0m88-2h0m-87-1h0m112-2h0m-98-3h0m92-4h0m-79-3h0m-24-1h0m79-7h0m8-3h0m-99-5h0m-1-3h0m53-3h0m-21-6h0m2-3h0m7-16h0m30-4h0m-90-4h0m62-3h0m63-2h0m14-1h0m-128-1h0m114 0h0m-32-5h0m-76-1h0m31-3h0m-2-6h0m97-1h0m-114-1h0m94-7h0m-79-3h0m31-2h0m64-2h0m-51-3h0m-69-4h0m60-4h0m-81-9h0m98 0h0m-7-2h0m2-3h0m-44-3h0m-49-7h0m2-1h0m7-1h0m119-11h0m-112-2h0m21 0h0m6 0h0m104-2h0m-3-7h0m-112-1h0m25-10h0m12-1h0m79 0h0m-75-1h0m44-4h0m-117-13h0m95-1h0m-6-4h0m-73-19h0m73-1h0m14-5h0m14-12h0m-42-4h0m7-24h0m130-105h0m-11 130h0m33 9h0m-75 53h0m21 5h0m2 10h0m10 28h0m-37 19h0m15 0h0m68 10h0m-67 4h0m80 4h0m-69 40h0m12 6h0m66 11h0m-88 20h0m15 3h0m11 0h0m-35 7h0m66 1h0m-40 0h0m-1 1h0m-33 13h0m89 3h0m-62 5h0m96 2h0m-60 10h0m3 6h0m77 12h0m-126 31h0m69 48h0m-55 1h0m-21 17h0m17 8h0m-11 20h0m2 8h0m2 48h0m-25 54h0m181-322h0m-2-73h0m58-11h0m52-43h0m-110-88h0m51-191h0m44-14h0m110-7h0m-62 321h0m76 0h0m-9 7h0m-56 30h0m139-402h0"/>
<path class="d" stroke="#00ff00" d="M9431 12588h0m-14 1h0m14 1h0m-21 1h0m8 1h0m-7 5h0m-7 8h0m41 63h0m-9 1h0m3 11h0m29 444h0m8-5h0m11 0h0m-12-2h0m-12-3h0m25 0h0m-11-2h0m59 0h0m-25-1h0m-23-5h0m37 0h0m-13-1h0m5-4h0m21-1h0m10 0h0m-15-1h0m27-1h0m3-1h0m5-1h0m-9-3h0m32-6h0m5-1h0m-143-415h0m-2-3h0m17-1h0m35-4h0m-26-1h0m8 0h0m10-7h0m36 0h0m-22-1h0m0 0h0m-21-1h0m0 0h0m52-1h0m-9-1h0m11-4h0m-6-1h0m-3-3h0m41-4h0m-9-3h0m21-6h0m-128-40h0m-1-1h0m25 0h0m-30-4h0m8-1h0m4-1h0m8 0h0m21 0h0m-15-2h0m-6-2h0m-2 0h0m6-1h0m7 0h0m30 0h0m8 0h0m-2-3h0m4-2h0m12 0h0m3-1h0m-25-1h0m-12 0h0m40 0h0m6-7h0m19 0h0m10 0h0m-12-6h0m7-150h0m-8-2h0m35-4h0m-1 0h0m-3-1h0m-19-4h0m11 0h0m54 4h0m40 0h0m-64 1h0m24 0h0m12 0h0m9 2h0m72 2h0m-56 1h0m49 0h0m16 0h0m-23 1h0m-112 1h0m120 2h0m13 0h0m1 0h0m4 0h0m-33 1h0m31 115h0m0 2h0m6 3h0m-33 2h0m22 1h0m0 0h0m-64 6h0m-44 1h0m65 0h0m-63 2h0m23 1h0m-12 1h0m38 0h0m-64 2h0m30 2h0m-30 6h0m-4 1h0m11 1h0m-12 1h0m-2 3h0m115 34h0m13 0h0m-5 1h0m-10 1h0m2 0h0m-18 1h0m23 0h0m-34 4h0m9 2h0m-23 5h0m-4 2h0m0 0h0m-19 1h0m12 0h0m-23 3h0m0 0h0m14 0h0m-20 2h0m18 0h0m7 0h0m-10 1h0m-22 3h0m-23 5h0m130 85h0m-21 11h0m17 328h0m-3 6h0m-36 1h0m37 0h0m3 3h0m-12 2h0m-34 2h0m-14 7h0m-63 2h0m39 0h0m0 1h0m-15 5h0m-33 1h0m37 0h0m-37 3h0m20 1h0m-27 6h0m171-42h0m3 0h0m-7-1h0m12-3h0m23-2h0m6 0h0m-19-1h0m37-2h0m-19-2h0m28-1h0m-35-1h0m29-1h0m-1-1h0m39-5h0m-25-1h0m22 0h0m-10-1h0m0-1h0m30-103h0m2-1h0m-3 0h0m3-3h0m-123-209h0m-11-2h0m17-1h0m8-4h0m17-1h0m-26-1h0m5-2h0m27-4h0m8 0h0m-16-3h0m-1-2h0m21-1h0m2-5h0m21-2h0m0-3h0m-16-1h0m23 0h0m-5-1h0m13-3h0m9-8h0m5 0h0m4 0h0m21-3h0m4-1h0m-3-3h0m-15-6h0m-104-60h0m-10-1h0m0-7h0m27-1h0m5 0h0m-3 0h0m10-3h0m-26-1h0m46 0h0m12-2h0m-3-3h0m-6-3h0m2-3h0m6 0h0m-66-42h0m27-1h0m16 0h0m28-3h0m-31-1h0m-42-2h0m25 0h0m14 0h0m62-1h0m-6-1h0m-27-3h0m16 0h0m9-1h0m42-1h0m-46-1h0m16 0h0m3-1h0m-11-1h0m-23-1h0m55 0h0m-10-1h0m-15-2h0m25-3h0m5-79h0m-3-1h0m-33-1h0m-20-2h0m18 0h0m-73-1h0m96 0h0m-79-2h0m17-1h0m45 0h0m26 0h0m-74-1h0m-36-1h0m73 0h0m-66-1h0m38 0h0m7 0h0m-17-1h0m-66-4h0m50 0h0m-44-1h0m8-1h0m18 0h0m140-314h0m12 18h0m5 4h0m-7 3h0m4 9h0m3 4h0m3 4h0m8 9h0m-5 3h0m-2 4h0m4 4h0m5 16h0m1 0h0m7 2h0m1 7h0m-5 1h0m9 2h0m11 10h0m2 9h0m0 7h0m1 3h0m15 1h0m-9 10h0m10 6h0m-8 6h0m13 1h0m-8 7h0m5 3h0m-81 177h0m29 5h0m-8 1h0m10 0h0m26 0h0m-30 1h0m-35 1h0m14 1h0m39 0h0m3 3h0m13 1h0m28 1h0m21 2h0m-23 2h0m26 1h0m1 1h0m-37 1h0m30 2h0m22 0h0m-14 41h0m15 1h0m-29 3h0m-56 1h0m31 0h0m6 1h0m16 0h0m9 0h0m-19 1h0m-52 3h0m77 0h0m-41 1h0m4 0h0m-54 1h0m12 0h0m-21 1h0m37 0h0m21 0h0m-72 1h0m52 0h0m-25 1h0m-32 1h0m69 0h0m-33 2h0m-7 1h0m17 0h0m-49 1h0m15 2h0m53 115h0m-14 3h0m-4 4h0m-6 2h0m-6 2h0m-8 3h0m6 0h0m-3 3h0m-5 1h0m3 1h0m-5 2h0m12 1h0m103 192h0m-8 4h0m3 4h0m-11 2h0m-20 3h0m4 2h0m-5 2h0m8 5h0m-37 1h0m20 1h0m-6 1h0m1 6h0m-20 9h0m-22 4h0m4 1h0m7 0h0m4 0h0m-16 4h0m-13 2h0m-17 5h0m6 0h0m11 0h0m-23 9h0m-11 2h0m8 1h0m0 4h0m121 54h0m9 3h0m-7 4h0m-21 1h0m13 0h0m5 3h0m-40 6h0m-17 4h0m-5 0h0m21 0h0m27 0h0m-34 5h0m8 0h0m-12 2h0m-29 7h0m3 1h0m-8 0h0m-8 2h0m6 2h0m3 0h0m-30 3h0m13 0h0m-21 3h0m-10 2h0m0 9h0m170-58h0m-2-5h0m15 0h0m5 0h0m-2-2h0m-1-1h0m-10-3h0m23-3h0m18-4h0m-10-1h0m-11-2h0m15-1h0m6-2h0m15 0h0m6-1h0m7 0h0m-9-3h0m17 0h0m-3-4h0m-8-1h0m4 0h0m20 0h0m-8-3h0m3 0h0m10 0h0m3-3h0m8 0h0m-10-1h0m-118-84h0m5-3h0m20-3h0m-3-7h0m20-2h0m4-2h0m-1-2h0m1-1h0m21-18h0m6-4h0m40-305h0m-117-1h0m80-1h0m53-1h0m-44-1h0m-77-1h0m72 0h0m10 0h0m30 0h0m-116-2h0m28 0h0m27 0h0m-16-1h0m11 0h0m84 0h0m-68-1h0m21 0h0m-48-1h0m23 0h0m5 0h0m9 0h0m-78-1h0m31 0h0m63 0h0m6 0h0m-56-3h0m73-13h0m-20-4h0m-58-2h0m76 0h0m-46-1h0m45 0h0m-4 0h0m-46-1h0m41-1h0m-69-1h0m32 0h0m12 0h0m-12-1h0m24-1h0m-24-5h0m-42-1h0m35 0h0m4 0h0m-66-1h0m1 0h0m30-2h0m4 0h0m134-245h0m18 10h0m5 5h0m4 7h0m12 0h0m-11 2h0m1 3h0m18 12h0m-2 1h0m0 2h0m12 14h0m4 4h0m5 4h0m6 10h0m11 11h0m-5 1h0m21 4h0m-5 2h0m-7 1h0m6 1h0m-2 2h0m1 7h0m8 1h0m-2 1h0m-1 0h0m9 11h0m-130 141h0m12 1h0m-9 5h0m-3 2h0m-1 0h0m32 1h0m6 0h0m-10 2h0m7 0h0m8 1h0m58 0h0m16 2h0m-25 1h0m5 0h0m-55 1h0m36 0h0m-20 2h0m35 0h0m25 0h0m-15 1h0m-30 2h0m14 0h0m4 1h0m29 0h0m6 0h0m-9 2h0m-13 0h0m-11 1h0m33 0h0m-126 1h0m45 1h0m62 0h0m16 0h0m-96 1h0m54 0h0m36 1h0m18 0h0m4 0h0m-59 1h0m57 0h0m-62 1h0m2 0h0m-52 1h0m44 0h0m55 0h0m-85 1h0m33 0h0m-11 1h0m8 0h0m17 0h0m-4 3h0m50 0h0m149 114h0"/>
</g>
<path d="M881.2 1300.8L1132.6 1049.6" clip-path="url(#cp3)" stroke="#000" stroke-width="9.2" stroke-dasharray="36 9 17 9" fill="none"/>
<path d="M1132.6 1049.6L1503.5 567.6" clip-path="url(#cp3)" stroke="#000" stroke-width="9.2" stroke-dasharray="36 9 17 9" fill="none"/>
<path d="M954.4 1374L1132.6 1195.9" clip-path="url(#cp3)" stroke="#000" stroke-width="9.2" stroke-dasharray="36 9 17 9" fill="none"/>
<path d="M1132.6 1195.9L1503.5 936.4" clip-path="url(#cp3)" stroke="#000" stroke-width="9.2" stroke-dasharray="36 9 17 9" stroke-dashoffset="-2.9" fill="none"/>
<text class="t" x="888.5" y="1419.3" text-anchor="middle">0</text>
<text class="t" x="873" y="1380.9" text-anchor="end">0</text>
<text class="t" x="1034.9" y="1419.3" text-anchor="middle">20</text>
<text class="t" x="873" y="1234.5" text-anchor="end">20</text>
<text class="t" x="1181.4" y="1419.3" text-anchor="middle">40</text>
<text class="t" x="873" y="1088.2" text-anchor="end">40</text>
<text class="t" x="1327.8" y="1419.3" text-anchor="middle">60</text>
<text class="t" x="873" y="941.8" text-anchor="end">60</text>
<text class="t" x="1474.2" y="1419.3" text-anchor="middle">80</text>
<text class="t" x="873" y="795.5" text-anchor="end">80</text>
<text class="a" x="1017.7" y="846.4" text-anchor="middle">2017/06/09</text>
<text class="a" x="1017.7" y="892.5" text-anchor="middle">LTAN ~18 h</text>
</g>
<text class="l" x="415.4" y="1468" text-anchor="middle">STEC Observed [TECU]</text>
<text class="l" x="1177.7" y="1468" text-anchor="middle">STEC Observed [TECU]</text>
<text class="l" transform="translate(37,316.7) rotate(-90)" text-anchor="middle">STEC NeQ-G [TECU]</text>
<text class="l" transform="translate(57.2,1079) rotate(-90)" text-anchor="middle">STEC NeQ-G [TECU]</text>
<circle cx="1222.4" cy="1165.4" r="4.4" fill="#ff0000"/>
<text class="g" x="1302.2" y="1179">DT &amp; LL</text>
<circle cx="1222.4" cy="1215.1" r="4.4" fill="#00ff00"/>
<text class="g" x="1302.2" y="1228.7">DT &amp; HL</text>
<circle cx="1222.4" cy="1264.8" r="4.4" fill="#0000ff"/>
<text class="g" x="1302.2" y="1278.3">NT &amp; LL</text>
<circle cx="1222.4" cy="1314.5" r="4.4" fill="#00ffff"/>
<text class="g" x="1302.2" y="1328">NT &amp; HL</text>
</svg>
</body></html>
